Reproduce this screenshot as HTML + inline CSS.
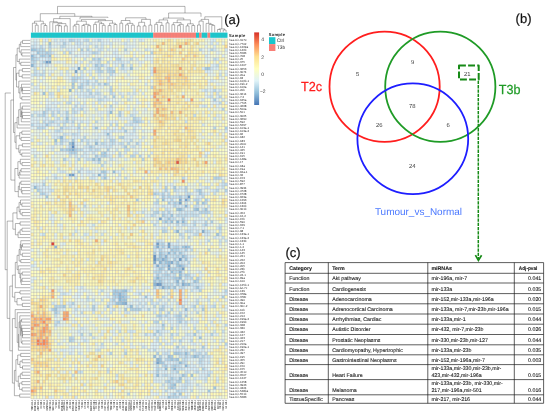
<!DOCTYPE html>
<html><head><meta charset="utf-8"><title>Figure</title><style>html,body{margin:0;padding:0;background:#fff}body{width:550px;height:419px;overflow:hidden}svg{display:block}</style></head><body>
<svg width="550" height="419" viewBox="0 0 550 419" text-rendering="geometricPrecision" font-family="Liberation Sans, Arial, sans-serif">
<rect width="550" height="419" fill="#fff"/>
<g transform="translate(30.90,38.80) scale(2.9143,3.1304)">
<path fill="#5d8cc0" d="M14 34h1v1h-1z"/>
<path fill="#709fca" d="M5 7h1v1h-1zM14 43h1v1h-1z"/>
<path fill="#79a8cf" d="M6 7h1v1h-1zM16 9h1v1h-1zM15 10h1v1h-1zM14 33h1v1h-1zM13 43h1v1h-1z"/>
<path fill="#83b1d4" d="M14 35h1v1h-1zM32 84h1v1h-1z"/>
<path fill="#8cbad9" d="M0 5h1v1h-1zM0 8h1v1h-1zM13 16h1v1h-1zM23 43h1v1h-1zM8 66h1v1h-1zM30 81h1v1h-1zM30 82h1v1h-1zM30 83h1v1h-1zM31 84h1v1h-1z"/>
<path fill="#96c2dd" d="M0 3h1v1h-1zM6 5h1v1h-1zM27 23h1v1h-1zM26 30h1v1h-1zM10 31h1v1h-1zM22 33h1v1h-1zM13 35h1v1h-1zM23 38h1v1h-1zM28 42h1v1h-1zM1 47h1v1h-1zM32 80h1v1h-1zM31 82h1v1h-1zM34 85h1v1h-1z"/>
<path fill="#a0c9e0" d="M6 1h1v1h-1zM1 3h1v1h-1zM2 4h1v1h-1zM0 6h1v1h-1zM34 9h1v1h-1zM14 14h1v1h-1zM25 14h1v1h-1zM4 17h1v1h-1zM12 25h1v1h-1zM5 27h1v1h-1zM22 28h1v1h-1zM8 32h1v1h-1zM13 33h1v1h-1zM25 36h1v1h-1zM21 38h1v1h-1zM25 44h1v1h-1zM5 50h1v1h-1zM31 80h1v1h-1zM28 81h1v1h-1zM39 82h1v1h-1zM31 83h2v1h-2zM29 84h2v1h-2zM8 86h1v1h-1z"/>
<path fill="#aacfe4" d="M17 3h1v1h-1zM5 4h1v1h-1zM3 5h2v1h-2zM23 6h1v1h-1zM22 8h1v1h-1zM31 8h1v1h-1zM28 10h1v1h-1zM14 15h1v1h-1zM28 18h1v1h-1zM4 23h1v1h-1zM36 26h1v1h-1zM10 28h1v1h-1zM16 28h1v1h-1zM32 29h1v1h-1zM14 32h1v1h-1zM20 34h1v1h-1zM32 34h1v1h-1zM10 35h1v1h-1zM12 35h1v1h-1zM15 35h1v1h-1zM26 35h1v1h-1zM22 37h1v1h-1zM25 37h1v1h-1zM16 42h1v1h-1zM24 42h2v1h-2zM36 51h1v1h-1zM28 80h2v1h-2zM29 81h1v1h-1zM31 81h1v1h-1zM32 82h1v1h-1zM28 83h1v1h-1zM11 85h1v1h-1zM26 85h1v1h-1zM32 86h1v1h-1zM8 87h1v1h-1zM13 96h1v1h-1z"/>
<path fill="#b4d6e8" d="M13 0h1v1h-1zM11 1h1v1h-1zM6 2h1v1h-1zM19 3h1v1h-1zM32 3h1v1h-1zM6 4h1v1h-1zM13 4h1v1h-1zM21 4h1v1h-1zM41 4h1v1h-1zM21 6h1v1h-1zM30 6h1v1h-1zM4 7h1v1h-1zM24 8h1v1h-1zM18 9h1v1h-1zM23 9h1v1h-1zM27 10h1v1h-1zM14 12h1v1h-1zM14 13h1v1h-1zM19 13h1v1h-1zM17 14h1v1h-1zM19 14h1v1h-1zM23 14h1v1h-1zM16 15h2v1h-2zM27 16h1v1h-1zM20 17h1v1h-1zM27 21h1v1h-1zM17 22h1v1h-1zM12 23h1v1h-1zM30 23h1v1h-1zM4 24h1v1h-1zM30 24h1v1h-1zM35 25h1v1h-1zM7 26h1v1h-1zM12 26h1v1h-1zM14 26h1v1h-1zM35 26h1v1h-1zM0 27h1v1h-1zM2 28h1v1h-1zM31 31h1v1h-1zM10 32h1v1h-1zM17 32h1v1h-1zM27 32h1v1h-1zM36 33h1v1h-1zM13 34h1v1h-1zM13 36h3v1h-3zM24 36h1v1h-1zM24 37h1v1h-1zM37 37h1v1h-1zM11 38h1v1h-1zM16 38h1v1h-1zM38 38h1v1h-1zM25 43h1v1h-1zM4 46h1v1h-1zM2 48h1v1h-1zM3 49h2v1h-2zM30 80h1v1h-1zM32 81h1v1h-1zM28 82h2v1h-2zM14 84h1v1h-1zM8 85h1v1h-1zM21 85h1v1h-1zM7 86h1v1h-1zM21 86h1v1h-1zM34 86h4v1h-4zM40 86h1v1h-1zM9 90h1v1h-1zM17 94h1v1h-1zM13 95h1v1h-1zM27 100h1v1h-1zM32 100h1v1h-1z"/>
<path fill="#bddceb" d="M14 0h1v1h-1zM19 0h1v1h-1zM23 0h1v1h-1zM3 2h1v1h-1zM2 3h3v1h-3zM6 3h1v1h-1zM3 4h2v1h-2zM22 4h1v1h-1zM1 5h1v1h-1zM5 5h1v1h-1zM1 6h1v1h-1zM6 6h1v1h-1zM29 6h1v1h-1zM34 6h1v1h-1zM0 7h2v1h-2zM23 7h1v1h-1zM26 7h1v1h-1zM26 9h2v1h-2zM31 9h1v1h-1zM23 10h2v1h-2zM26 10h1v1h-1zM1 11h1v1h-1zM3 11h1v1h-1zM27 11h1v1h-1zM15 12h2v1h-2zM15 13h1v1h-1zM22 13h1v1h-1zM26 14h1v1h-1zM27 15h1v1h-1zM41 15h1v1h-1zM19 16h1v1h-1zM27 17h1v1h-1zM25 18h1v1h-1zM23 19h1v1h-1zM13 20h1v1h-1zM15 21h1v1h-1zM14 22h1v1h-1zM7 23h1v1h-1zM9 23h1v1h-1zM0 24h1v1h-1zM7 24h1v1h-1zM12 24h1v1h-1zM4 26h1v1h-1zM6 26h1v1h-1zM22 26h1v1h-1zM37 26h1v1h-1zM16 27h1v1h-1zM27 27h1v1h-1zM29 27h1v1h-1zM3 28h2v1h-2zM31 28h1v1h-1zM9 29h1v1h-1zM14 30h1v1h-1zM18 31h1v1h-1zM30 31h1v1h-1zM28 32h1v1h-1zM34 32h1v1h-1zM8 33h1v1h-1zM10 33h1v1h-1zM19 33h1v1h-1zM24 33h1v1h-1zM33 33h1v1h-1zM11 35h1v1h-1zM16 35h2v1h-2zM20 35h1v1h-1zM22 35h1v1h-1zM30 36h1v1h-1zM30 37h1v1h-1zM34 37h2v1h-2zM40 37h1v1h-1zM23 39h1v1h-1zM24 40h1v1h-1zM8 44h1v1h-1zM18 53h1v1h-1zM41 56h1v1h-1zM24 80h1v1h-1zM37 81h1v1h-1zM41 83h1v1h-1zM9 85h2v1h-2zM17 87h1v1h-1zM8 91h1v1h-1zM20 94h1v1h-1zM39 94h1v1h-1zM14 95h1v1h-1zM14 96h1v1h-1zM24 97h1v1h-1zM33 113h1v1h-1z"/>
<path fill="#c7e3ef" d="M16 0h1v1h-1zM18 0h1v1h-1zM0 2h1v1h-1zM10 2h2v1h-2zM22 2h1v1h-1zM23 3h1v1h-1zM39 3h1v1h-1zM11 4h1v1h-1zM15 5h1v1h-1zM2 6h1v1h-1zM18 6h1v1h-1zM22 6h1v1h-1zM20 7h1v1h-1zM1 8h1v1h-1zM5 8h1v1h-1zM23 8h1v1h-1zM34 8h1v1h-1zM1 9h1v1h-1zM22 9h1v1h-1zM1 10h1v1h-1zM4 10h1v1h-1zM17 10h1v1h-1zM4 11h1v1h-1zM17 12h1v1h-1zM21 12h1v1h-1zM26 12h1v1h-1zM0 14h1v1h-1zM21 14h1v1h-1zM17 16h1v1h-1zM6 17h1v1h-1zM22 17h2v1h-2zM19 18h1v1h-1zM21 18h1v1h-1zM31 18h1v1h-1zM24 19h1v1h-1zM33 19h1v1h-1zM12 20h1v1h-1zM5 22h2v1h-2zM5 23h1v1h-1zM14 23h2v1h-2zM2 24h2v1h-2zM34 24h1v1h-1zM9 25h1v1h-1zM36 25h1v1h-1zM11 26h1v1h-1zM17 26h1v1h-1zM6 27h1v1h-1zM9 27h1v1h-1zM11 27h1v1h-1zM34 27h1v1h-1zM12 28h1v1h-1zM26 28h1v1h-1zM35 28h1v1h-1zM8 29h1v1h-1zM35 29h1v1h-1zM11 30h1v1h-1zM15 30h1v1h-1zM9 31h1v1h-1zM19 32h1v1h-1zM22 32h1v1h-1zM25 33h1v1h-1zM27 33h2v1h-2zM30 33h2v1h-2zM21 34h1v1h-1zM27 34h1v1h-1zM35 34h1v1h-1zM23 35h1v1h-1zM29 35h1v1h-1zM32 35h2v1h-2zM18 36h1v1h-1zM21 36h1v1h-1zM1 37h1v1h-1zM13 37h1v1h-1zM15 37h1v1h-1zM17 37h1v1h-1zM26 37h1v1h-1zM19 38h1v1h-1zM22 38h1v1h-1zM27 38h1v1h-1zM25 39h1v1h-1zM17 41h1v1h-1zM31 41h1v1h-1zM21 43h1v1h-1zM30 43h1v1h-1zM15 44h1v1h-1zM24 44h1v1h-1zM32 44h1v1h-1zM2 47h1v1h-1zM3 48h1v1h-1zM38 55h1v1h-1zM21 59h1v1h-1zM4 62h1v1h-1zM11 81h1v1h-1zM19 82h1v1h-1zM19 83h1v1h-1zM21 83h1v1h-1zM24 83h1v1h-1zM27 83h1v1h-1zM28 84h1v1h-1zM37 84h1v1h-1zM39 84h1v1h-1zM41 84h1v1h-1zM13 85h1v1h-1zM36 85h1v1h-1zM38 85h1v1h-1zM15 86h1v1h-1zM28 86h1v1h-1zM9 87h1v1h-1zM8 88h1v1h-1zM8 90h1v1h-1zM30 93h1v1h-1zM21 95h1v1h-1zM18 96h1v1h-1zM31 96h1v1h-1zM29 97h1v1h-1zM38 98h1v1h-1zM23 99h1v1h-1zM40 99h1v1h-1zM26 105h1v1h-1zM16 106h2v1h-2zM26 106h1v1h-1zM14 107h1v1h-1zM29 107h1v1h-1z"/>
<path fill="#d1e9f3" d="M8 0h1v1h-1zM10 0h2v1h-2zM15 0h1v1h-1zM37 0h1v1h-1zM1 1h1v1h-1zM15 1h3v1h-3zM20 1h1v1h-1zM24 1h1v1h-1zM27 1h1v1h-1zM32 1h1v1h-1zM1 2h1v1h-1zM16 2h1v1h-1zM19 2h1v1h-1zM24 2h1v1h-1zM12 3h1v1h-1zM24 3h1v1h-1zM26 3h1v1h-1zM7 4h1v1h-1zM17 4h1v1h-1zM20 4h1v1h-1zM23 4h1v1h-1zM28 4h1v1h-1zM19 5h1v1h-1zM29 5h1v1h-1zM5 6h1v1h-1zM36 6h1v1h-1zM3 7h1v1h-1zM17 7h1v1h-1zM22 7h1v1h-1zM28 7h1v1h-1zM30 7h2v1h-2zM33 7h1v1h-1zM3 8h1v1h-1zM14 9h1v1h-1zM12 10h1v1h-1zM22 10h1v1h-1zM41 10h1v1h-1zM0 11h1v1h-1zM2 11h1v1h-1zM6 11h1v1h-1zM17 11h1v1h-1zM20 11h1v1h-1zM23 11h1v1h-1zM17 13h2v1h-2zM18 14h1v1h-1zM39 14h1v1h-1zM21 15h1v1h-1zM9 16h1v1h-1zM15 16h1v1h-1zM20 16h1v1h-1zM7 17h1v1h-1zM18 17h1v1h-1zM28 17h1v1h-1zM30 17h1v1h-1zM33 17h1v1h-1zM35 17h1v1h-1zM13 18h1v1h-1zM16 18h1v1h-1zM18 18h1v1h-1zM20 18h1v1h-1zM23 18h1v1h-1zM13 19h1v1h-1zM26 19h1v1h-1zM7 20h1v1h-1zM9 20h1v1h-1zM16 20h1v1h-1zM18 20h1v1h-1zM23 20h1v1h-1zM29 20h1v1h-1zM5 21h1v1h-1zM17 21h1v1h-1zM9 22h1v1h-1zM16 22h1v1h-1zM22 22h1v1h-1zM27 22h1v1h-1zM35 22h1v1h-1zM1 23h1v1h-1zM18 23h1v1h-1zM26 23h1v1h-1zM26 24h1v1h-1zM35 24h1v1h-1zM5 25h1v1h-1zM14 25h1v1h-1zM24 25h1v1h-1zM37 25h1v1h-1zM2 26h1v1h-1zM8 26h1v1h-1zM10 26h1v1h-1zM34 26h1v1h-1zM38 26h1v1h-1zM2 27h3v1h-3zM14 27h1v1h-1zM32 27h1v1h-1zM11 28h1v1h-1zM13 28h1v1h-1zM15 28h1v1h-1zM18 28h1v1h-1zM21 28h1v1h-1zM10 29h1v1h-1zM16 29h1v1h-1zM25 29h1v1h-1zM27 29h2v1h-2zM30 29h1v1h-1zM38 29h1v1h-1zM12 30h1v1h-1zM16 30h1v1h-1zM25 30h1v1h-1zM34 30h1v1h-1zM26 31h2v1h-2zM38 31h1v1h-1zM0 32h1v1h-1zM11 32h2v1h-2zM25 32h1v1h-1zM7 34h1v1h-1zM15 34h1v1h-1zM18 34h2v1h-2zM25 34h2v1h-2zM31 34h1v1h-1zM34 34h1v1h-1zM7 35h1v1h-1zM21 35h1v1h-1zM32 36h1v1h-1zM35 36h2v1h-2zM41 36h1v1h-1zM23 37h1v1h-1zM27 37h1v1h-1zM20 38h1v1h-1zM9 41h1v1h-1zM10 42h2v1h-2zM19 42h2v1h-2zM8 43h1v1h-1zM12 43h1v1h-1zM5 44h1v1h-1zM13 44h1v1h-1zM20 44h2v1h-2zM38 44h1v1h-1zM4 45h1v1h-1zM6 48h2v1h-2zM5 49h1v1h-1zM41 54h1v1h-1zM38 57h1v1h-1zM41 58h1v1h-1zM15 61h1v1h-1zM14 62h1v1h-1zM18 62h1v1h-1zM24 62h1v1h-1zM0 72h1v1h-1zM17 79h1v1h-1zM9 80h1v1h-1zM33 80h1v1h-1zM10 81h1v1h-1zM26 82h1v1h-1zM33 82h1v1h-1zM36 83h1v1h-1zM38 83h1v1h-1zM7 84h1v1h-1zM13 84h1v1h-1zM26 84h2v1h-2zM33 85h1v1h-1zM9 86h1v1h-1zM21 87h1v1h-1zM27 87h1v1h-1zM32 87h2v1h-2zM16 91h1v1h-1zM17 92h1v1h-1zM16 93h1v1h-1zM34 93h1v1h-1zM17 95h1v1h-1zM9 97h1v1h-1zM16 97h1v1h-1zM24 98h1v1h-1zM22 99h1v1h-1zM32 99h1v1h-1zM13 100h1v1h-1zM16 100h1v1h-1zM7 105h1v1h-1zM18 110h1v1h-1zM15 114h1v1h-1z"/>
<path fill="#dbf0f6" d="M1 0h1v1h-1zM4 0h2v1h-2zM21 0h2v1h-2zM24 0h1v1h-1zM26 0h1v1h-1zM33 0h1v1h-1zM35 0h1v1h-1zM38 0h1v1h-1zM4 1h1v1h-1zM9 1h1v1h-1zM12 1h1v1h-1zM4 2h1v1h-1zM27 2h1v1h-1zM10 3h1v1h-1zM13 3h2v1h-2zM20 3h1v1h-1zM29 3h1v1h-1zM40 3h1v1h-1zM0 4h2v1h-2zM18 4h2v1h-2zM29 4h1v1h-1zM2 5h1v1h-1zM17 5h1v1h-1zM25 5h1v1h-1zM3 6h2v1h-2zM24 6h1v1h-1zM39 6h1v1h-1zM41 6h1v1h-1zM9 7h1v1h-1zM29 7h1v1h-1zM37 7h1v1h-1zM41 7h1v1h-1zM15 8h1v1h-1zM19 8h1v1h-1zM21 8h1v1h-1zM25 8h1v1h-1zM29 8h1v1h-1zM21 9h1v1h-1zM28 9h1v1h-1zM30 9h1v1h-1zM32 9h1v1h-1zM41 9h1v1h-1zM2 10h1v1h-1zM20 10h1v1h-1zM32 10h1v1h-1zM10 11h1v1h-1zM12 11h1v1h-1zM15 11h1v1h-1zM28 11h1v1h-1zM33 11h1v1h-1zM41 11h1v1h-1zM4 12h1v1h-1zM13 12h1v1h-1zM18 12h1v1h-1zM23 12h1v1h-1zM3 13h1v1h-1zM20 13h1v1h-1zM26 13h1v1h-1zM41 13h1v1h-1zM16 14h1v1h-1zM22 14h1v1h-1zM24 14h1v1h-1zM1 15h1v1h-1zM11 15h1v1h-1zM18 15h1v1h-1zM22 16h1v1h-1zM35 16h1v1h-1zM15 17h3v1h-3zM19 17h1v1h-1zM38 17h1v1h-1zM6 18h2v1h-2zM17 18h1v1h-1zM34 18h1v1h-1zM5 19h1v1h-1zM25 19h1v1h-1zM15 20h1v1h-1zM21 20h1v1h-1zM6 21h1v1h-1zM8 21h1v1h-1zM18 21h1v1h-1zM7 22h2v1h-2zM15 22h1v1h-1zM39 22h1v1h-1zM2 23h1v1h-1zM11 23h1v1h-1zM24 23h1v1h-1zM35 23h1v1h-1zM5 24h1v1h-1zM8 24h1v1h-1zM10 24h1v1h-1zM14 24h1v1h-1zM0 25h1v1h-1zM4 25h1v1h-1zM8 25h1v1h-1zM11 25h1v1h-1zM15 25h1v1h-1zM26 25h1v1h-1zM0 26h1v1h-1zM5 26h1v1h-1zM9 26h1v1h-1zM13 26h1v1h-1zM19 26h1v1h-1zM27 26h1v1h-1zM29 26h1v1h-1zM40 26h1v1h-1zM1 27h1v1h-1zM7 27h1v1h-1zM19 27h1v1h-1zM33 27h1v1h-1zM35 27h2v1h-2zM0 28h1v1h-1zM14 28h1v1h-1zM28 28h1v1h-1zM37 28h1v1h-1zM6 29h1v1h-1zM26 29h1v1h-1zM31 29h1v1h-1zM8 30h1v1h-1zM13 30h1v1h-1zM21 30h1v1h-1zM23 30h1v1h-1zM27 30h1v1h-1zM35 30h1v1h-1zM7 31h2v1h-2zM11 31h1v1h-1zM14 31h3v1h-3zM23 31h1v1h-1zM36 31h1v1h-1zM41 31h1v1h-1zM18 32h1v1h-1zM21 32h1v1h-1zM32 32h1v1h-1zM37 32h1v1h-1zM3 33h1v1h-1zM15 33h1v1h-1zM23 33h1v1h-1zM26 33h1v1h-1zM37 33h1v1h-1zM12 34h1v1h-1zM23 34h2v1h-2zM37 34h1v1h-1zM41 34h1v1h-1zM18 35h2v1h-2zM8 36h1v1h-1zM12 36h1v1h-1zM19 36h1v1h-1zM26 36h1v1h-1zM28 36h1v1h-1zM18 37h2v1h-2zM31 37h1v1h-1zM12 38h1v1h-1zM15 38h1v1h-1zM18 38h1v1h-1zM32 38h1v1h-1zM13 39h1v1h-1zM15 39h1v1h-1zM22 39h1v1h-1zM27 40h1v1h-1zM15 41h1v1h-1zM14 42h1v1h-1zM17 42h1v1h-1zM21 42h1v1h-1zM26 42h1v1h-1zM29 42h2v1h-2zM35 42h1v1h-1zM40 42h1v1h-1zM15 43h1v1h-1zM17 43h1v1h-1zM19 43h1v1h-1zM24 43h1v1h-1zM9 44h1v1h-1zM1 46h2v1h-2zM3 47h4v1h-4zM4 48h1v1h-1zM18 52h1v1h-1zM7 56h1v1h-1zM39 56h1v1h-1zM6 57h1v1h-1zM10 57h1v1h-1zM7 58h1v1h-1zM10 59h1v1h-1zM3 60h1v1h-1zM37 60h1v1h-1zM22 61h1v1h-1zM3 62h1v1h-1zM19 62h1v1h-1zM24 64h1v1h-1zM11 65h1v1h-1zM33 69h1v1h-1zM0 70h1v1h-1zM19 70h1v1h-1zM0 77h1v1h-1zM34 79h1v1h-1zM13 80h1v1h-1zM18 80h1v1h-1zM38 80h1v1h-1zM12 81h1v1h-1zM16 81h1v1h-1zM23 81h1v1h-1zM26 81h1v1h-1zM36 81h1v1h-1zM40 81h1v1h-1zM9 82h1v1h-1zM16 82h1v1h-1zM38 82h1v1h-1zM10 83h1v1h-1zM17 83h1v1h-1zM29 83h1v1h-1zM35 83h1v1h-1zM40 83h1v1h-1zM10 84h1v1h-1zM34 84h1v1h-1zM19 85h1v1h-1zM27 85h1v1h-1zM10 86h2v1h-2zM25 86h1v1h-1zM27 86h1v1h-1zM30 86h1v1h-1zM38 86h2v1h-2zM24 87h1v1h-1zM23 88h1v1h-1zM10 89h1v1h-1zM19 89h1v1h-1zM26 89h1v1h-1zM35 89h1v1h-1zM15 90h1v1h-1zM28 90h1v1h-1zM39 90h1v1h-1zM9 91h1v1h-1zM13 91h1v1h-1zM25 91h1v1h-1zM27 91h1v1h-1zM38 91h1v1h-1zM28 93h1v1h-1zM33 93h1v1h-1zM35 93h1v1h-1zM24 94h1v1h-1zM40 94h2v1h-2zM27 95h1v1h-1zM19 96h1v1h-1zM27 96h1v1h-1zM22 97h1v1h-1zM34 97h1v1h-1zM41 97h1v1h-1zM13 98h2v1h-2zM39 98h1v1h-1zM8 99h1v1h-1zM10 99h2v1h-2zM14 99h1v1h-1zM34 103h1v1h-1zM13 104h1v1h-1zM36 104h1v1h-1zM15 105h1v1h-1zM13 106h1v1h-1zM25 110h1v1h-1zM38 110h1v1h-1zM28 111h1v1h-1zM41 112h1v1h-1zM6 114h1v1h-1z"/>
<path fill="#e2f4f4" d="M12 0h1v1h-1zM17 0h1v1h-1zM28 0h1v1h-1zM30 0h1v1h-1zM0 1h1v1h-1zM2 1h1v1h-1zM8 1h1v1h-1zM10 1h1v1h-1zM13 1h1v1h-1zM19 1h1v1h-1zM22 1h1v1h-1zM25 1h2v1h-2zM35 1h1v1h-1zM2 2h1v1h-1zM7 2h2v1h-2zM13 2h3v1h-3zM17 2h2v1h-2zM33 2h3v1h-3zM15 3h1v1h-1zM22 3h1v1h-1zM34 3h1v1h-1zM36 3h1v1h-1zM14 4h1v1h-1zM32 4h1v1h-1zM35 4h1v1h-1zM8 5h1v1h-1zM16 5h1v1h-1zM22 5h1v1h-1zM27 5h2v1h-2zM30 5h1v1h-1zM35 5h1v1h-1zM39 5h3v1h-3zM14 6h1v1h-1zM27 6h1v1h-1zM31 6h1v1h-1zM11 7h1v1h-1zM16 7h1v1h-1zM21 7h1v1h-1zM32 7h1v1h-1zM38 7h1v1h-1zM4 8h1v1h-1zM6 8h1v1h-1zM26 8h1v1h-1zM3 9h2v1h-2zM8 9h1v1h-1zM13 9h1v1h-1zM15 9h1v1h-1zM20 9h1v1h-1zM25 9h1v1h-1zM33 9h1v1h-1zM6 10h2v1h-2zM10 10h1v1h-1zM19 10h1v1h-1zM18 11h1v1h-1zM2 12h1v1h-1zM19 12h1v1h-1zM24 12h1v1h-1zM13 13h1v1h-1zM16 13h1v1h-1zM21 13h1v1h-1zM2 14h1v1h-1zM20 14h1v1h-1zM30 14h1v1h-1zM33 14h1v1h-1zM2 15h1v1h-1zM23 15h2v1h-2zM0 16h1v1h-1zM5 16h1v1h-1zM37 16h1v1h-1zM21 17h1v1h-1zM31 17h1v1h-1zM22 18h1v1h-1zM41 18h1v1h-1zM14 19h2v1h-2zM18 19h1v1h-1zM22 19h1v1h-1zM27 19h2v1h-2zM34 19h1v1h-1zM36 19h1v1h-1zM3 20h1v1h-1zM5 20h2v1h-2zM8 20h1v1h-1zM28 20h1v1h-1zM36 20h1v1h-1zM21 21h1v1h-1zM33 21h1v1h-1zM40 21h1v1h-1zM12 22h1v1h-1zM26 22h1v1h-1zM28 22h1v1h-1zM33 22h1v1h-1zM3 23h1v1h-1zM8 23h1v1h-1zM16 23h1v1h-1zM23 23h1v1h-1zM31 23h1v1h-1zM36 23h1v1h-1zM21 24h1v1h-1zM23 24h1v1h-1zM31 24h1v1h-1zM1 25h2v1h-2zM19 25h1v1h-1zM21 25h1v1h-1zM31 25h1v1h-1zM33 25h1v1h-1zM1 26h1v1h-1zM16 26h1v1h-1zM18 26h1v1h-1zM28 26h1v1h-1zM8 27h1v1h-1zM21 27h1v1h-1zM5 28h1v1h-1zM23 28h1v1h-1zM29 28h1v1h-1zM3 29h1v1h-1zM24 29h1v1h-1zM29 29h1v1h-1zM34 29h1v1h-1zM0 30h1v1h-1zM4 30h1v1h-1zM7 30h1v1h-1zM9 30h1v1h-1zM18 30h2v1h-2zM24 30h1v1h-1zM32 30h2v1h-2zM5 31h1v1h-1zM28 31h1v1h-1zM32 31h4v1h-4zM15 32h1v1h-1zM20 32h1v1h-1zM23 32h1v1h-1zM33 32h1v1h-1zM2 33h1v1h-1zM9 33h1v1h-1zM11 33h1v1h-1zM16 33h2v1h-2zM20 33h1v1h-1zM29 33h1v1h-1zM22 34h1v1h-1zM0 35h2v1h-2zM39 35h1v1h-1zM2 36h1v1h-1zM22 36h1v1h-1zM7 37h1v1h-1zM2 38h1v1h-1zM7 38h1v1h-1zM28 38h1v1h-1zM8 39h1v1h-1zM18 39h1v1h-1zM21 39h1v1h-1zM35 39h1v1h-1zM19 41h1v1h-1zM23 41h1v1h-1zM6 42h1v1h-1zM9 42h1v1h-1zM18 42h1v1h-1zM23 42h1v1h-1zM7 43h1v1h-1zM22 43h1v1h-1zM10 44h1v1h-1zM17 44h1v1h-1zM22 44h1v1h-1zM26 44h1v1h-1zM29 44h1v1h-1zM22 45h1v1h-1zM28 45h1v1h-1zM30 45h1v1h-1zM0 46h1v1h-1zM3 46h1v1h-1zM6 46h1v1h-1zM24 46h1v1h-1zM0 47h1v1h-1zM0 48h1v1h-1zM5 48h1v1h-1zM1 49h1v1h-1zM6 49h1v1h-1zM3 50h1v1h-1zM9 51h1v1h-1zM26 52h1v1h-1zM21 53h1v1h-1zM6 55h1v1h-1zM15 55h1v1h-1zM36 55h1v1h-1zM18 56h1v1h-1zM40 56h1v1h-1zM7 57h1v1h-1zM17 57h1v1h-1zM23 58h1v1h-1zM9 59h1v1h-1zM30 59h1v1h-1zM20 60h1v1h-1zM33 60h1v1h-1zM8 62h1v1h-1zM29 62h1v1h-1zM11 63h1v1h-1zM21 63h1v1h-1zM27 63h1v1h-1zM24 65h1v1h-1zM0 67h1v1h-1zM11 68h1v1h-1zM15 68h1v1h-1zM1 71h1v1h-1zM3 71h1v1h-1zM1 72h1v1h-1zM2 73h1v1h-1zM1 76h1v1h-1zM3 76h1v1h-1zM5 79h1v1h-1zM15 79h2v1h-2zM26 79h1v1h-1zM40 79h1v1h-1zM10 80h1v1h-1zM16 80h1v1h-1zM23 80h1v1h-1zM27 80h1v1h-1zM34 80h1v1h-1zM36 80h1v1h-1zM13 81h1v1h-1zM15 81h1v1h-1zM17 81h1v1h-1zM35 81h1v1h-1zM10 82h1v1h-1zM14 82h1v1h-1zM25 82h1v1h-1zM27 82h1v1h-1zM40 82h2v1h-2zM15 83h1v1h-1zM20 83h1v1h-1zM37 83h1v1h-1zM12 84h1v1h-1zM22 84h1v1h-1zM33 84h1v1h-1zM36 84h1v1h-1zM38 84h1v1h-1zM14 85h1v1h-1zM22 85h1v1h-1zM32 85h1v1h-1zM37 85h1v1h-1zM39 85h1v1h-1zM6 86h1v1h-1zM16 86h5v1h-5zM22 86h1v1h-1zM14 87h2v1h-2zM36 87h1v1h-1zM13 88h1v1h-1zM15 88h2v1h-2zM8 89h1v1h-1zM24 89h1v1h-1zM14 90h1v1h-1zM10 91h1v1h-1zM29 91h1v1h-1zM14 92h1v1h-1zM18 92h1v1h-1zM22 92h1v1h-1zM30 92h1v1h-1zM38 92h1v1h-1zM41 92h1v1h-1zM13 93h1v1h-1zM24 93h1v1h-1zM27 93h1v1h-1zM16 94h1v1h-1zM28 94h1v1h-1zM18 95h1v1h-1zM34 95h1v1h-1zM41 95h1v1h-1zM11 96h1v1h-1zM17 96h1v1h-1zM15 98h2v1h-2zM31 98h1v1h-1zM34 98h1v1h-1zM41 98h1v1h-1zM13 99h1v1h-1zM19 99h1v1h-1zM41 99h1v1h-1zM14 100h1v1h-1zM17 100h1v1h-1zM26 100h1v1h-1zM37 100h1v1h-1zM11 101h1v1h-1zM8 102h1v1h-1zM10 102h1v1h-1zM19 102h1v1h-1zM15 104h1v1h-1zM23 104h1v1h-1zM0 105h1v1h-1zM11 106h1v1h-1zM40 106h1v1h-1zM37 107h1v1h-1zM29 108h1v1h-1zM23 112h2v1h-2zM30 112h1v1h-1zM7 114h1v1h-1zM10 114h1v1h-1zM25 114h1v1h-1z"/>
<path fill="#e6f5ed" d="M0 0h1v1h-1zM2 0h1v1h-1zM7 0h1v1h-1zM9 0h1v1h-1zM25 0h1v1h-1zM29 0h1v1h-1zM21 1h1v1h-1zM31 1h1v1h-1zM33 1h1v1h-1zM12 2h1v1h-1zM21 2h1v1h-1zM23 2h1v1h-1zM32 2h1v1h-1zM27 3h2v1h-2zM41 3h1v1h-1zM16 4h1v1h-1zM25 4h1v1h-1zM33 4h1v1h-1zM14 5h1v1h-1zM18 5h1v1h-1zM26 5h1v1h-1zM33 6h1v1h-1zM40 6h1v1h-1zM8 7h1v1h-1zM14 7h1v1h-1zM2 8h1v1h-1zM16 8h1v1h-1zM28 8h1v1h-1zM32 8h1v1h-1zM37 8h1v1h-1zM0 9h1v1h-1zM16 10h1v1h-1zM31 10h1v1h-1zM13 11h1v1h-1zM0 12h1v1h-1zM12 12h1v1h-1zM27 13h1v1h-1zM37 13h1v1h-1zM9 15h1v1h-1zM19 15h1v1h-1zM1 16h3v1h-3zM23 16h1v1h-1zM26 16h1v1h-1zM14 17h1v1h-1zM24 17h1v1h-1zM14 18h1v1h-1zM24 18h1v1h-1zM26 18h1v1h-1zM39 18h1v1h-1zM8 19h1v1h-1zM11 19h1v1h-1zM30 19h1v1h-1zM10 20h1v1h-1zM25 20h1v1h-1zM31 20h1v1h-1zM37 20h1v1h-1zM40 20h1v1h-1zM7 21h1v1h-1zM14 21h1v1h-1zM24 21h1v1h-1zM18 22h2v1h-2zM0 23h1v1h-1zM6 23h1v1h-1zM10 23h1v1h-1zM38 23h1v1h-1zM41 23h1v1h-1zM11 24h1v1h-1zM13 24h1v1h-1zM29 24h1v1h-1zM41 24h1v1h-1zM6 25h1v1h-1zM16 25h1v1h-1zM30 25h1v1h-1zM32 25h1v1h-1zM24 26h1v1h-1zM33 26h1v1h-1zM13 27h1v1h-1zM24 27h1v1h-1zM1 28h1v1h-1zM9 28h1v1h-1zM36 28h1v1h-1zM13 29h1v1h-1zM15 29h1v1h-1zM22 29h1v1h-1zM33 29h1v1h-1zM41 29h1v1h-1zM2 30h1v1h-1zM22 30h1v1h-1zM2 31h1v1h-1zM17 31h1v1h-1zM22 31h1v1h-1zM25 31h1v1h-1zM39 31h1v1h-1zM13 32h1v1h-1zM26 32h1v1h-1zM29 32h1v1h-1zM31 32h1v1h-1zM35 33h1v1h-1zM39 33h1v1h-1zM6 34h1v1h-1zM10 34h1v1h-1zM16 34h1v1h-1zM28 34h2v1h-2zM5 35h1v1h-1zM27 35h1v1h-1zM35 35h1v1h-1zM0 36h2v1h-2zM3 36h1v1h-1zM5 36h1v1h-1zM9 36h1v1h-1zM11 36h1v1h-1zM20 36h1v1h-1zM27 36h1v1h-1zM3 37h1v1h-1zM21 37h1v1h-1zM38 37h1v1h-1zM4 38h1v1h-1zM29 38h1v1h-1zM4 39h1v1h-1zM9 39h1v1h-1zM11 39h1v1h-1zM13 40h1v1h-1zM21 41h1v1h-1zM35 41h1v1h-1zM20 43h1v1h-1zM7 44h1v1h-1zM30 44h1v1h-1zM13 46h1v1h-1zM2 50h1v1h-1zM5 51h1v1h-1zM7 51h1v1h-1zM16 53h1v1h-1zM17 54h1v1h-1zM38 54h2v1h-2zM19 55h1v1h-1zM34 55h1v1h-1zM41 55h1v1h-1zM39 58h1v1h-1zM19 59h1v1h-1zM10 60h1v1h-1zM15 60h1v1h-1zM39 60h1v1h-1zM25 61h1v1h-1zM37 62h1v1h-1zM8 63h1v1h-1zM17 63h1v1h-1zM20 63h1v1h-1zM1 64h1v1h-1zM18 64h1v1h-1zM10 65h1v1h-1zM22 71h1v1h-1zM0 76h1v1h-1zM0 79h1v1h-1zM10 79h1v1h-1zM22 79h1v1h-1zM28 79h1v1h-1zM32 79h1v1h-1zM38 79h2v1h-2zM6 80h1v1h-1zM17 80h1v1h-1zM19 80h1v1h-1zM37 80h1v1h-1zM20 81h1v1h-1zM15 82h1v1h-1zM21 82h1v1h-1zM24 82h1v1h-1zM37 82h1v1h-1zM39 83h1v1h-1zM8 84h1v1h-1zM15 84h1v1h-1zM18 84h1v1h-1zM21 84h1v1h-1zM23 84h1v1h-1zM35 84h1v1h-1zM15 85h1v1h-1zM17 85h1v1h-1zM35 85h1v1h-1zM14 86h1v1h-1zM41 86h1v1h-1zM30 87h1v1h-1zM9 88h1v1h-1zM18 88h1v1h-1zM25 88h1v1h-1zM31 88h1v1h-1zM14 89h1v1h-1zM23 89h1v1h-1zM25 89h1v1h-1zM41 89h1v1h-1zM11 90h1v1h-1zM17 90h1v1h-1zM31 90h3v1h-3zM37 90h1v1h-1zM18 91h1v1h-1zM21 91h1v1h-1zM26 91h1v1h-1zM8 92h1v1h-1zM16 92h1v1h-1zM40 92h1v1h-1zM15 93h1v1h-1zM17 93h3v1h-3zM9 94h1v1h-1zM14 94h1v1h-1zM19 94h1v1h-1zM29 94h1v1h-1zM34 94h1v1h-1zM22 95h1v1h-1zM31 95h1v1h-1zM8 96h1v1h-1zM15 96h1v1h-1zM25 96h1v1h-1zM10 97h1v1h-1zM12 97h1v1h-1zM37 97h2v1h-2zM19 98h1v1h-1zM23 98h1v1h-1zM35 98h1v1h-1zM12 99h1v1h-1zM16 99h1v1h-1zM9 100h1v1h-1zM11 100h1v1h-1zM18 101h1v1h-1zM31 101h1v1h-1zM16 102h1v1h-1zM17 103h1v1h-1zM32 103h1v1h-1zM39 103h1v1h-1zM20 104h1v1h-1zM34 104h1v1h-1zM41 106h1v1h-1zM12 109h1v1h-1zM32 109h1v1h-1zM41 110h1v1h-1zM17 111h1v1h-1zM12 112h1v1h-1zM13 113h1v1h-1zM27 113h1v1h-1zM41 113h1v1h-1zM27 114h1v1h-1zM39 114h2v1h-2z"/>
<path fill="#eaf7e6" d="M32 0h1v1h-1zM7 1h1v1h-1zM18 1h1v1h-1zM23 1h1v1h-1zM30 1h1v1h-1zM34 1h1v1h-1zM5 2h1v1h-1zM9 2h1v1h-1zM33 3h1v1h-1zM8 4h1v1h-1zM37 4h2v1h-2zM13 5h1v1h-1zM20 5h1v1h-1zM23 5h1v1h-1zM31 5h1v1h-1zM32 6h1v1h-1zM2 7h1v1h-1zM10 7h1v1h-1zM36 7h1v1h-1zM13 8h1v1h-1zM36 9h1v1h-1zM3 10h1v1h-1zM30 10h1v1h-1zM34 10h1v1h-1zM29 11h1v1h-1zM7 12h2v1h-2zM11 12h1v1h-1zM27 12h2v1h-2zM32 12h1v1h-1zM34 12h1v1h-1zM40 12h1v1h-1zM4 14h2v1h-2zM5 15h2v1h-2zM30 15h1v1h-1zM34 15h2v1h-2zM18 16h1v1h-1zM25 16h1v1h-1zM39 16h1v1h-1zM0 17h1v1h-1zM3 17h1v1h-1zM34 17h1v1h-1zM36 17h1v1h-1zM10 18h1v1h-1zM29 18h1v1h-1zM6 19h1v1h-1zM17 19h1v1h-1zM10 21h1v1h-1zM16 21h1v1h-1zM22 21h1v1h-1zM29 21h1v1h-1zM35 21h1v1h-1zM3 22h2v1h-2zM10 22h1v1h-1zM19 23h1v1h-1zM22 23h1v1h-1zM25 23h1v1h-1zM34 23h1v1h-1zM39 23h1v1h-1zM1 24h1v1h-1zM24 24h1v1h-1zM33 24h1v1h-1zM3 25h1v1h-1zM17 25h1v1h-1zM23 26h1v1h-1zM31 26h1v1h-1zM8 28h1v1h-1zM19 28h1v1h-1zM32 28h1v1h-1zM2 29h1v1h-1zM7 29h1v1h-1zM17 29h1v1h-1zM39 29h2v1h-2zM1 30h1v1h-1zM36 30h1v1h-1zM0 31h1v1h-1zM20 31h2v1h-2zM24 31h1v1h-1zM5 32h2v1h-2zM35 32h1v1h-1zM38 32h1v1h-1zM12 33h1v1h-1zM21 33h1v1h-1zM34 33h1v1h-1zM5 34h1v1h-1zM8 34h1v1h-1zM17 34h1v1h-1zM30 34h1v1h-1zM6 35h1v1h-1zM25 35h1v1h-1zM28 35h1v1h-1zM36 35h2v1h-2zM10 36h1v1h-1zM16 36h2v1h-2zM38 36h1v1h-1zM9 37h2v1h-2zM14 37h1v1h-1zM16 37h1v1h-1zM29 37h1v1h-1zM1 38h1v1h-1zM8 38h2v1h-2zM13 38h1v1h-1zM24 38h1v1h-1zM26 38h1v1h-1zM27 39h1v1h-1zM29 39h2v1h-2zM2 40h1v1h-1zM15 40h1v1h-1zM25 41h1v1h-1zM22 42h1v1h-1zM32 42h1v1h-1zM28 43h1v1h-1zM33 43h1v1h-1zM18 44h1v1h-1zM3 45h1v1h-1zM35 47h1v1h-1zM18 48h1v1h-1zM27 48h1v1h-1zM21 51h1v1h-1zM15 52h1v1h-1zM19 53h1v1h-1zM24 53h1v1h-1zM18 54h1v1h-1zM9 55h1v1h-1zM37 55h1v1h-1zM39 55h2v1h-2zM25 56h1v1h-1zM35 56h1v1h-1zM31 57h1v1h-1zM34 57h1v1h-1zM39 57h2v1h-2zM7 59h1v1h-1zM20 59h1v1h-1zM21 61h1v1h-1zM34 61h1v1h-1zM16 62h1v1h-1zM12 63h1v1h-1zM35 64h1v1h-1zM38 65h1v1h-1zM3 66h1v1h-1zM10 66h1v1h-1zM2 67h1v1h-1zM2 68h1v1h-1zM14 70h1v1h-1zM0 73h1v1h-1zM3 78h1v1h-1zM38 78h1v1h-1zM9 79h1v1h-1zM18 79h1v1h-1zM36 79h1v1h-1zM20 80h1v1h-1zM25 80h2v1h-2zM19 81h1v1h-1zM21 81h1v1h-1zM25 81h1v1h-1zM13 83h1v1h-1zM16 83h1v1h-1zM18 83h1v1h-1zM34 83h1v1h-1zM17 84h1v1h-1zM19 84h1v1h-1zM25 85h1v1h-1zM40 85h1v1h-1zM7 87h1v1h-1zM17 88h1v1h-1zM19 88h1v1h-1zM9 89h1v1h-1zM10 90h1v1h-1zM20 90h1v1h-1zM11 91h2v1h-2zM41 91h1v1h-1zM19 92h1v1h-1zM28 92h2v1h-2zM14 93h1v1h-1zM25 93h1v1h-1zM23 94h1v1h-1zM38 94h1v1h-1zM9 95h1v1h-1zM16 96h1v1h-1zM19 97h1v1h-1zM28 97h1v1h-1zM32 97h1v1h-1zM25 98h1v1h-1zM27 98h1v1h-1zM17 99h1v1h-1zM24 101h1v1h-1zM14 102h1v1h-1zM26 103h1v1h-1zM27 104h1v1h-1zM23 105h1v1h-1zM17 109h1v1h-1zM19 109h1v1h-1zM26 109h1v1h-1zM12 111h1v1h-1zM27 111h1v1h-1zM31 111h1v1h-1zM35 113h1v1h-1zM4 114h1v1h-1zM35 114h1v1h-1z"/>
<path fill="#eef8df" d="M28 1h2v1h-2zM36 1h1v1h-1zM41 1h1v1h-1zM29 2h1v1h-1zM36 2h1v1h-1zM40 2h1v1h-1zM9 3h1v1h-1zM18 3h1v1h-1zM37 3h1v1h-1zM15 4h1v1h-1zM27 4h1v1h-1zM31 4h1v1h-1zM9 5h1v1h-1zM16 6h1v1h-1zM35 6h1v1h-1zM19 7h1v1h-1zM27 7h1v1h-1zM35 7h1v1h-1zM7 8h1v1h-1zM11 8h2v1h-2zM14 8h1v1h-1zM6 9h1v1h-1zM35 9h1v1h-1zM40 9h1v1h-1zM14 10h1v1h-1zM25 10h1v1h-1zM9 11h1v1h-1zM24 11h1v1h-1zM26 11h1v1h-1zM25 12h1v1h-1zM33 12h1v1h-1zM35 12h2v1h-2zM39 12h1v1h-1zM2 13h1v1h-1zM4 13h1v1h-1zM12 13h1v1h-1zM24 13h1v1h-1zM28 13h1v1h-1zM34 13h1v1h-1zM39 13h1v1h-1zM41 14h1v1h-1zM0 15h1v1h-1zM13 15h1v1h-1zM26 15h1v1h-1zM16 16h1v1h-1zM29 16h1v1h-1zM35 18h1v1h-1zM21 19h1v1h-1zM29 19h1v1h-1zM39 20h1v1h-1zM0 21h2v1h-2zM12 21h1v1h-1zM19 21h1v1h-1zM26 21h1v1h-1zM36 21h1v1h-1zM38 22h1v1h-1zM19 24h2v1h-2zM22 24h1v1h-1zM38 24h1v1h-1zM13 25h1v1h-1zM15 26h1v1h-1zM20 26h1v1h-1zM26 26h1v1h-1zM22 27h2v1h-2zM40 27h1v1h-1zM33 28h1v1h-1zM1 29h1v1h-1zM11 29h1v1h-1zM14 29h1v1h-1zM21 29h1v1h-1zM36 29h1v1h-1zM6 30h1v1h-1zM10 30h1v1h-1zM3 31h1v1h-1zM13 31h1v1h-1zM6 33h1v1h-1zM32 33h1v1h-1zM36 34h1v1h-1zM24 35h1v1h-1zM11 37h1v1h-1zM20 37h1v1h-1zM33 38h1v1h-1zM41 38h1v1h-1zM26 39h1v1h-1zM38 39h1v1h-1zM16 40h1v1h-1zM25 40h1v1h-1zM32 40h1v1h-1zM38 40h1v1h-1zM5 41h1v1h-1zM7 41h1v1h-1zM16 41h1v1h-1zM18 41h1v1h-1zM22 41h1v1h-1zM15 42h1v1h-1zM27 42h1v1h-1zM18 43h1v1h-1zM35 43h1v1h-1zM39 43h1v1h-1zM6 44h1v1h-1zM33 44h1v1h-1zM10 45h1v1h-1zM0 50h1v1h-1zM4 50h1v1h-1zM6 51h1v1h-1zM4 53h1v1h-1zM18 55h1v1h-1zM20 55h1v1h-1zM6 56h1v1h-1zM11 56h1v1h-1zM2 57h1v1h-1zM8 57h1v1h-1zM37 57h1v1h-1zM5 58h1v1h-1zM27 58h1v1h-1zM21 60h1v1h-1zM31 60h1v1h-1zM5 61h1v1h-1zM10 61h1v1h-1zM16 61h1v1h-1zM24 61h1v1h-1zM39 61h1v1h-1zM21 62h1v1h-1zM40 62h1v1h-1zM14 63h1v1h-1zM18 63h1v1h-1zM32 63h1v1h-1zM39 63h1v1h-1zM1 65h1v1h-1zM20 65h1v1h-1zM37 65h1v1h-1zM37 67h1v1h-1zM3 68h1v1h-1zM14 68h1v1h-1zM28 70h1v1h-1zM38 70h1v1h-1zM18 71h1v1h-1zM35 72h1v1h-1zM9 73h1v1h-1zM15 73h1v1h-1zM26 73h1v1h-1zM2 80h1v1h-1zM11 80h1v1h-1zM41 80h1v1h-1zM39 81h1v1h-1zM2 82h1v1h-1zM22 82h1v1h-1zM8 83h1v1h-1zM16 84h1v1h-1zM30 85h1v1h-1zM41 85h1v1h-1zM10 87h1v1h-1zM35 87h1v1h-1zM17 89h1v1h-1zM19 91h2v1h-2zM24 91h1v1h-1zM20 93h1v1h-1zM22 93h1v1h-1zM38 93h1v1h-1zM7 94h1v1h-1zM15 94h1v1h-1zM32 94h1v1h-1zM37 94h1v1h-1zM19 95h1v1h-1zM10 96h1v1h-1zM17 98h1v1h-1zM20 98h1v1h-1zM22 98h1v1h-1zM20 99h1v1h-1zM29 101h1v1h-1zM38 101h1v1h-1zM23 103h2v1h-2zM10 106h1v1h-1zM24 108h1v1h-1zM17 113h1v1h-1zM1 114h1v1h-1zM41 114h1v1h-1z"/>
<path fill="#f1fad8" d="M27 0h1v1h-1zM36 0h1v1h-1zM39 0h1v1h-1zM41 0h1v1h-1zM39 1h1v1h-1zM25 2h1v1h-1zM7 3h1v1h-1zM11 3h1v1h-1zM25 3h1v1h-1zM31 3h1v1h-1zM26 4h1v1h-1zM30 4h1v1h-1zM24 5h1v1h-1zM19 6h1v1h-1zM25 6h1v1h-1zM7 7h1v1h-1zM34 7h1v1h-1zM30 8h1v1h-1zM5 9h1v1h-1zM7 9h1v1h-1zM24 9h1v1h-1zM0 10h1v1h-1zM5 10h1v1h-1zM9 10h1v1h-1zM13 10h1v1h-1zM33 10h1v1h-1zM38 10h1v1h-1zM8 11h1v1h-1zM22 11h1v1h-1zM30 11h1v1h-1zM0 13h1v1h-1zM23 13h1v1h-1zM12 14h1v1h-1zM27 14h1v1h-1zM4 16h1v1h-1zM13 17h1v1h-1zM27 18h1v1h-1zM33 18h1v1h-1zM10 19h1v1h-1zM19 19h1v1h-1zM20 20h1v1h-1zM24 20h1v1h-1zM30 20h1v1h-1zM11 21h1v1h-1zM28 21h1v1h-1zM11 22h1v1h-1zM25 22h1v1h-1zM32 22h1v1h-1zM37 22h1v1h-1zM41 22h1v1h-1zM20 23h1v1h-1zM28 23h1v1h-1zM40 23h1v1h-1zM15 24h1v1h-1zM36 24h2v1h-2zM39 24h2v1h-2zM28 25h1v1h-1zM34 25h1v1h-1zM12 27h1v1h-1zM27 28h1v1h-1zM39 28h1v1h-1zM41 28h1v1h-1zM12 29h1v1h-1zM18 29h2v1h-2zM17 30h1v1h-1zM20 30h1v1h-1zM29 30h2v1h-2zM38 30h2v1h-2zM4 32h1v1h-1zM36 32h1v1h-1zM40 32h1v1h-1zM4 33h1v1h-1zM18 33h1v1h-1zM40 33h1v1h-1zM9 34h1v1h-1zM30 35h1v1h-1zM31 36h1v1h-1zM2 37h1v1h-1zM25 38h1v1h-1zM2 39h1v1h-1zM8 40h1v1h-1zM29 40h1v1h-1zM10 41h1v1h-1zM32 41h1v1h-1zM4 42h1v1h-1zM12 42h1v1h-1zM10 43h1v1h-1zM27 43h1v1h-1zM2 44h1v1h-1zM1 45h1v1h-1zM23 45h1v1h-1zM37 46h1v1h-1zM8 47h1v1h-1zM25 49h1v1h-1zM29 49h2v1h-2zM1 50h1v1h-1zM7 50h1v1h-1zM24 50h1v1h-1zM37 51h1v1h-1zM23 52h1v1h-1zM38 52h1v1h-1zM22 53h1v1h-1zM41 53h1v1h-1zM19 54h1v1h-1zM21 55h2v1h-2zM26 56h1v1h-1zM30 56h1v1h-1zM27 57h1v1h-1zM35 58h1v1h-1zM14 59h1v1h-1zM22 59h1v1h-1zM17 60h1v1h-1zM40 60h1v1h-1zM0 61h1v1h-1zM9 61h1v1h-1zM14 61h1v1h-1zM18 61h2v1h-2zM33 61h1v1h-1zM35 61h2v1h-2zM26 62h1v1h-1zM15 63h1v1h-1zM20 64h1v1h-1zM5 65h1v1h-1zM36 65h1v1h-1zM2 69h1v1h-1zM37 70h1v1h-1zM6 71h1v1h-1zM1 73h1v1h-1zM38 73h1v1h-1zM14 74h1v1h-1zM9 76h1v1h-1zM8 79h1v1h-1zM29 79h1v1h-1zM33 79h1v1h-1zM34 82h1v1h-1zM33 83h1v1h-1zM12 85h1v1h-1zM20 85h1v1h-1zM23 86h1v1h-1zM29 86h1v1h-1zM31 86h1v1h-1zM34 87h1v1h-1zM40 87h1v1h-1zM22 88h1v1h-1zM39 88h2v1h-2zM13 89h1v1h-1zM33 89h2v1h-2zM27 90h1v1h-1zM30 91h1v1h-1zM37 91h1v1h-1zM21 92h1v1h-1zM33 92h2v1h-2zM7 93h3v1h-3zM10 94h1v1h-1zM18 94h1v1h-1zM11 95h1v1h-1zM23 95h1v1h-1zM39 95h1v1h-1zM26 96h1v1h-1zM32 96h1v1h-1zM13 97h1v1h-1zM36 97h1v1h-1zM39 97h1v1h-1zM37 99h1v1h-1zM12 100h1v1h-1zM22 100h1v1h-1zM31 100h1v1h-1zM35 100h1v1h-1zM41 101h1v1h-1zM18 102h1v1h-1zM29 103h1v1h-1zM41 104h1v1h-1zM22 106h1v1h-1zM31 106h1v1h-1zM9 107h1v1h-1zM21 107h1v1h-1zM32 107h1v1h-1zM38 107h1v1h-1zM14 108h1v1h-1zM10 109h1v1h-1zM15 109h1v1h-1zM34 110h1v1h-1zM13 111h1v1h-1zM19 111h1v1h-1zM22 111h1v1h-1zM20 112h1v1h-1zM33 112h1v1h-1zM25 113h1v1h-1zM20 114h1v1h-1zM28 114h1v1h-1z"/>
<path fill="#f5fbd1" d="M20 0h1v1h-1zM3 1h1v1h-1zM5 1h1v1h-1zM14 1h1v1h-1zM37 1h1v1h-1zM40 1h1v1h-1zM30 2h1v1h-1zM37 2h2v1h-2zM5 3h1v1h-1zM8 3h1v1h-1zM21 3h1v1h-1zM9 4h1v1h-1zM24 4h1v1h-1zM37 5h1v1h-1zM15 6h1v1h-1zM38 6h1v1h-1zM24 7h1v1h-1zM18 8h1v1h-1zM33 8h1v1h-1zM36 8h1v1h-1zM40 8h2v1h-2zM8 10h1v1h-1zM18 10h1v1h-1zM11 11h1v1h-1zM25 11h1v1h-1zM32 11h1v1h-1zM1 12h1v1h-1zM22 12h1v1h-1zM30 13h1v1h-1zM6 14h1v1h-1zM31 14h1v1h-1zM36 14h1v1h-1zM40 14h1v1h-1zM10 15h1v1h-1zM15 15h1v1h-1zM20 15h1v1h-1zM25 15h1v1h-1zM39 15h1v1h-1zM7 16h1v1h-1zM24 16h1v1h-1zM30 16h1v1h-1zM26 17h1v1h-1zM32 17h1v1h-1zM3 18h1v1h-1zM3 19h1v1h-1zM7 19h1v1h-1zM16 19h1v1h-1zM35 19h1v1h-1zM34 20h1v1h-1zM4 21h1v1h-1zM2 22h1v1h-1zM21 22h1v1h-1zM13 23h1v1h-1zM21 23h1v1h-1zM18 24h1v1h-1zM10 25h1v1h-1zM18 25h1v1h-1zM20 25h1v1h-1zM23 25h1v1h-1zM41 25h1v1h-1zM3 26h1v1h-1zM25 26h1v1h-1zM10 27h1v1h-1zM37 27h1v1h-1zM41 27h1v1h-1zM17 28h1v1h-1zM34 28h1v1h-1zM23 29h1v1h-1zM3 30h1v1h-1zM4 31h1v1h-1zM19 31h1v1h-1zM3 32h1v1h-1zM33 34h1v1h-1zM3 35h2v1h-2zM8 35h2v1h-2zM34 35h1v1h-1zM4 36h1v1h-1zM8 37h1v1h-1zM3 38h1v1h-1zM17 38h1v1h-1zM30 38h2v1h-2zM20 39h1v1h-1zM24 39h1v1h-1zM1 40h1v1h-1zM9 40h1v1h-1zM22 40h1v1h-1zM33 40h1v1h-1zM37 40h1v1h-1zM41 40h1v1h-1zM3 41h1v1h-1zM0 42h1v1h-1zM8 42h1v1h-1zM9 43h1v1h-1zM16 43h1v1h-1zM36 43h1v1h-1zM4 44h1v1h-1zM14 44h1v1h-1zM41 44h1v1h-1zM2 45h1v1h-1zM5 45h1v1h-1zM7 45h1v1h-1zM7 46h1v1h-1zM2 49h1v1h-1zM6 50h1v1h-1zM0 51h1v1h-1zM7 52h1v1h-1zM12 52h1v1h-1zM12 53h1v1h-1zM38 53h1v1h-1zM0 54h1v1h-1zM8 54h1v1h-1zM4 55h1v1h-1zM26 55h1v1h-1zM2 56h1v1h-1zM16 56h1v1h-1zM16 57h1v1h-1zM33 57h1v1h-1zM41 57h1v1h-1zM16 58h1v1h-1zM6 59h1v1h-1zM12 59h1v1h-1zM27 59h1v1h-1zM38 59h1v1h-1zM1 60h1v1h-1zM9 60h1v1h-1zM35 60h1v1h-1zM38 60h1v1h-1zM7 61h1v1h-1zM23 61h1v1h-1zM31 61h1v1h-1zM40 61h1v1h-1zM1 62h1v1h-1zM23 62h1v1h-1zM0 63h1v1h-1zM22 63h1v1h-1zM40 63h1v1h-1zM4 65h1v1h-1zM14 66h1v1h-1zM6 68h1v1h-1zM24 68h1v1h-1zM22 70h1v1h-1zM37 71h1v1h-1zM9 74h1v1h-1zM41 74h1v1h-1zM18 75h1v1h-1zM34 75h1v1h-1zM17 76h1v1h-1zM26 76h1v1h-1zM40 77h1v1h-1zM0 78h1v1h-1zM2 78h1v1h-1zM17 78h1v1h-1zM36 78h1v1h-1zM31 79h1v1h-1zM0 80h2v1h-2zM3 80h1v1h-1zM17 82h1v1h-1zM20 82h1v1h-1zM23 82h1v1h-1zM24 84h1v1h-1zM18 85h1v1h-1zM31 85h1v1h-1zM24 86h1v1h-1zM16 87h1v1h-1zM26 87h1v1h-1zM10 88h1v1h-1zM20 88h1v1h-1zM26 88h1v1h-1zM34 88h1v1h-1zM32 89h1v1h-1zM40 89h1v1h-1zM13 90h1v1h-1zM18 90h1v1h-1zM21 90h1v1h-1zM25 90h1v1h-1zM36 90h1v1h-1zM34 91h1v1h-1zM9 92h2v1h-2zM13 92h1v1h-1zM10 93h1v1h-1zM21 93h1v1h-1zM31 93h1v1h-1zM27 94h1v1h-1zM12 95h1v1h-1zM15 95h1v1h-1zM26 95h1v1h-1zM38 95h1v1h-1zM20 96h1v1h-1zM28 96h1v1h-1zM34 96h1v1h-1zM39 96h1v1h-1zM14 97h1v1h-1zM23 97h1v1h-1zM12 98h1v1h-1zM28 98h1v1h-1zM37 98h1v1h-1zM40 98h1v1h-1zM7 99h1v1h-1zM9 99h1v1h-1zM2 100h1v1h-1zM19 100h1v1h-1zM25 100h1v1h-1zM40 100h2v1h-2zM6 101h1v1h-1zM9 101h1v1h-1zM14 101h1v1h-1zM17 101h1v1h-1zM26 101h1v1h-1zM28 101h1v1h-1zM40 101h1v1h-1zM34 102h1v1h-1zM13 103h1v1h-1zM33 103h1v1h-1zM10 104h1v1h-1zM26 104h1v1h-1zM38 104h1v1h-1zM9 105h1v1h-1zM12 105h1v1h-1zM17 105h2v1h-2zM24 105h1v1h-1zM30 106h1v1h-1zM17 107h1v1h-1zM33 107h1v1h-1zM40 107h1v1h-1zM21 109h1v1h-1zM40 109h1v1h-1zM14 110h1v1h-1zM38 111h1v1h-1zM32 112h1v1h-1zM18 113h1v1h-1zM20 113h1v1h-1zM24 113h1v1h-1zM32 113h1v1h-1zM19 114h1v1h-1zM26 114h1v1h-1z"/>
<path fill="#f9fdca" d="M34 0h1v1h-1zM40 0h1v1h-1zM20 2h1v1h-1zM26 2h1v1h-1zM28 2h1v1h-1zM38 3h1v1h-1zM36 4h1v1h-1zM10 5h1v1h-1zM33 5h1v1h-1zM9 6h1v1h-1zM11 6h1v1h-1zM20 6h1v1h-1zM40 7h1v1h-1zM20 8h1v1h-1zM17 9h1v1h-1zM21 10h1v1h-1zM36 10h2v1h-2zM39 10h1v1h-1zM5 11h1v1h-1zM16 11h1v1h-1zM34 11h1v1h-1zM40 11h1v1h-1zM3 12h1v1h-1zM5 13h2v1h-2zM33 13h1v1h-1zM3 14h1v1h-1zM15 14h1v1h-1zM28 14h2v1h-2zM32 14h1v1h-1zM37 14h1v1h-1zM12 15h1v1h-1zM22 15h1v1h-1zM36 15h1v1h-1zM6 16h1v1h-1zM40 16h1v1h-1zM29 17h1v1h-1zM40 17h1v1h-1zM0 18h2v1h-2zM8 18h1v1h-1zM15 18h1v1h-1zM4 19h1v1h-1zM12 19h1v1h-1zM31 19h2v1h-2zM40 19h1v1h-1zM17 20h1v1h-1zM2 21h1v1h-1zM13 21h1v1h-1zM32 21h1v1h-1zM34 21h1v1h-1zM1 22h1v1h-1zM34 22h1v1h-1zM36 22h1v1h-1zM29 23h1v1h-1zM9 24h1v1h-1zM16 24h1v1h-1zM22 25h1v1h-1zM27 25h1v1h-1zM40 25h1v1h-1zM17 27h1v1h-1zM25 27h2v1h-2zM38 28h1v1h-1zM0 29h1v1h-1zM20 29h1v1h-1zM37 29h1v1h-1zM28 30h1v1h-1zM31 30h1v1h-1zM40 30h1v1h-1zM40 31h1v1h-1zM1 32h1v1h-1zM24 32h1v1h-1zM41 32h1v1h-1zM1 33h1v1h-1zM0 34h1v1h-1zM38 35h1v1h-1zM37 36h1v1h-1zM39 36h2v1h-2zM0 37h1v1h-1zM4 37h1v1h-1zM6 37h1v1h-1zM32 37h1v1h-1zM5 38h1v1h-1zM10 38h1v1h-1zM32 39h1v1h-1zM26 40h1v1h-1zM35 40h1v1h-1zM0 41h1v1h-1zM4 41h1v1h-1zM12 41h1v1h-1zM14 41h1v1h-1zM28 41h3v1h-3zM6 43h1v1h-1zM26 43h1v1h-1zM32 43h1v1h-1zM37 43h2v1h-2zM12 44h1v1h-1zM27 44h1v1h-1zM39 44h1v1h-1zM14 45h1v1h-1zM27 46h1v1h-1zM20 47h1v1h-1zM38 47h1v1h-1zM41 47h1v1h-1zM1 48h1v1h-1zM0 49h1v1h-1zM31 49h1v1h-1zM18 50h1v1h-1zM37 50h2v1h-2zM1 51h1v1h-1zM16 51h1v1h-1zM20 51h1v1h-1zM1 52h1v1h-1zM25 52h1v1h-1zM40 52h1v1h-1zM1 53h2v1h-2zM17 53h1v1h-1zM40 53h1v1h-1zM20 54h1v1h-1zM30 54h2v1h-2zM14 55h1v1h-1zM32 55h1v1h-1zM4 56h1v1h-1zM8 56h1v1h-1zM23 56h1v1h-1zM32 56h1v1h-1zM24 57h1v1h-1zM10 58h2v1h-2zM20 58h1v1h-1zM33 59h1v1h-1zM5 60h1v1h-1zM7 60h1v1h-1zM12 60h1v1h-1zM18 60h1v1h-1zM26 60h1v1h-1zM28 60h1v1h-1zM36 60h1v1h-1zM41 60h1v1h-1zM2 61h1v1h-1zM11 61h2v1h-2zM26 61h1v1h-1zM28 61h1v1h-1zM41 61h1v1h-1zM12 62h1v1h-1zM16 63h1v1h-1zM25 63h1v1h-1zM9 64h1v1h-1zM27 64h1v1h-1zM30 64h1v1h-1zM34 64h1v1h-1zM25 65h2v1h-2zM1 66h1v1h-1zM11 66h1v1h-1zM13 66h1v1h-1zM22 66h1v1h-1zM38 66h1v1h-1zM4 67h1v1h-1zM11 67h1v1h-1zM13 68h1v1h-1zM22 68h1v1h-1zM3 69h1v1h-1zM9 69h1v1h-1zM38 69h1v1h-1zM4 70h1v1h-1zM35 70h1v1h-1zM35 71h1v1h-1zM18 72h1v1h-1zM32 72h1v1h-1zM10 73h2v1h-2zM41 73h1v1h-1zM31 74h1v1h-1zM2 75h1v1h-1zM8 76h1v1h-1zM2 77h1v1h-1zM11 77h1v1h-1zM17 77h1v1h-1zM32 77h1v1h-1zM36 77h1v1h-1zM41 77h1v1h-1zM4 78h2v1h-2zM8 78h1v1h-1zM10 78h1v1h-1zM12 78h1v1h-1zM25 78h1v1h-1zM33 78h1v1h-1zM39 78h1v1h-1zM7 79h1v1h-1zM13 79h1v1h-1zM19 79h3v1h-3zM8 80h1v1h-1zM21 80h1v1h-1zM9 81h1v1h-1zM14 81h1v1h-1zM33 81h1v1h-1zM36 82h1v1h-1zM1 83h1v1h-1zM22 83h2v1h-2zM6 85h1v1h-1zM7 88h1v1h-1zM28 88h1v1h-1zM33 88h1v1h-1zM41 88h1v1h-1zM20 89h1v1h-1zM31 89h1v1h-1zM37 89h1v1h-1zM39 89h1v1h-1zM22 90h1v1h-1zM26 90h1v1h-1zM38 90h1v1h-1zM40 90h1v1h-1zM7 91h1v1h-1zM23 91h1v1h-1zM28 91h1v1h-1zM33 91h1v1h-1zM15 92h1v1h-1zM23 92h3v1h-3zM11 93h1v1h-1zM21 94h1v1h-1zM31 94h1v1h-1zM10 95h1v1h-1zM20 95h1v1h-1zM30 95h1v1h-1zM12 96h1v1h-1zM22 96h1v1h-1zM36 96h1v1h-1zM8 97h1v1h-1zM11 97h1v1h-1zM18 97h1v1h-1zM25 97h1v1h-1zM27 97h1v1h-1zM9 98h1v1h-1zM18 98h1v1h-1zM21 98h1v1h-1zM15 99h1v1h-1zM29 99h1v1h-1zM38 99h1v1h-1zM8 100h1v1h-1zM29 100h1v1h-1zM38 100h1v1h-1zM7 101h1v1h-1zM20 101h1v1h-1zM27 101h1v1h-1zM17 102h1v1h-1zM30 102h1v1h-1zM18 103h1v1h-1zM27 103h1v1h-1zM41 103h1v1h-1zM11 104h1v1h-1zM18 104h1v1h-1zM30 105h1v1h-1zM37 105h1v1h-1zM39 105h1v1h-1zM8 106h1v1h-1zM34 106h1v1h-1zM15 107h2v1h-2zM20 107h1v1h-1zM22 107h1v1h-1zM24 107h1v1h-1zM35 107h1v1h-1zM6 108h1v1h-1zM16 108h1v1h-1zM39 108h1v1h-1zM3 109h1v1h-1zM24 109h1v1h-1zM11 110h1v1h-1zM24 110h1v1h-1zM27 110h2v1h-2zM10 111h1v1h-1zM24 111h1v1h-1zM26 111h1v1h-1zM37 111h1v1h-1zM7 112h1v1h-1zM15 112h1v1h-1zM7 113h1v1h-1zM13 114h1v1h-1zM30 114h1v1h-1zM33 114h2v1h-2zM36 114h1v1h-1zM38 114h1v1h-1z"/>
<path fill="#fdfec3" d="M39 2h1v1h-1zM35 3h1v1h-1zM40 4h1v1h-1zM21 5h1v1h-1zM32 5h1v1h-1zM36 5h1v1h-1zM17 6h1v1h-1zM26 6h1v1h-1zM37 6h1v1h-1zM18 7h1v1h-1zM39 7h1v1h-1zM9 8h2v1h-2zM38 8h1v1h-1zM9 9h1v1h-1zM19 9h1v1h-1zM37 9h1v1h-1zM11 10h1v1h-1zM40 10h1v1h-1zM31 11h1v1h-1zM35 11h1v1h-1zM5 12h1v1h-1zM20 12h1v1h-1zM29 12h2v1h-2zM7 13h1v1h-1zM31 13h1v1h-1zM35 13h1v1h-1zM38 13h1v1h-1zM1 14h1v1h-1zM7 14h1v1h-1zM10 14h1v1h-1zM13 14h1v1h-1zM38 14h1v1h-1zM31 15h3v1h-3zM8 16h1v1h-1zM11 16h1v1h-1zM14 16h1v1h-1zM34 16h1v1h-1zM38 16h1v1h-1zM41 16h1v1h-1zM12 17h1v1h-1zM25 17h1v1h-1zM37 17h1v1h-1zM2 18h1v1h-1zM4 18h1v1h-1zM30 18h1v1h-1zM36 18h2v1h-2zM40 18h1v1h-1zM0 19h1v1h-1zM2 19h1v1h-1zM20 19h1v1h-1zM0 20h1v1h-1zM2 20h1v1h-1zM4 20h1v1h-1zM14 20h1v1h-1zM26 20h2v1h-2zM33 20h1v1h-1zM35 20h1v1h-1zM3 21h1v1h-1zM9 21h1v1h-1zM20 21h1v1h-1zM13 22h1v1h-1zM24 22h1v1h-1zM29 22h1v1h-1zM17 23h1v1h-1zM6 24h1v1h-1zM27 24h1v1h-1zM7 25h1v1h-1zM25 25h1v1h-1zM30 26h1v1h-1zM15 27h1v1h-1zM18 27h1v1h-1zM30 27h2v1h-2zM6 28h1v1h-1zM24 28h1v1h-1zM4 29h2v1h-2zM37 30h1v1h-1zM1 31h1v1h-1zM6 31h1v1h-1zM29 31h1v1h-1zM7 32h1v1h-1zM9 32h1v1h-1zM30 32h1v1h-1zM39 32h1v1h-1zM1 34h1v1h-1zM3 34h1v1h-1zM11 34h1v1h-1zM2 35h1v1h-1zM31 35h1v1h-1zM6 36h1v1h-1zM23 36h1v1h-1zM29 36h1v1h-1zM41 37h1v1h-1zM14 38h1v1h-1zM34 38h1v1h-1zM6 39h1v1h-1zM12 39h1v1h-1zM16 39h2v1h-2zM19 39h1v1h-1zM28 39h1v1h-1zM31 39h1v1h-1zM33 39h1v1h-1zM39 39h1v1h-1zM41 39h1v1h-1zM5 40h1v1h-1zM17 40h1v1h-1zM20 40h2v1h-2zM23 40h1v1h-1zM28 40h1v1h-1zM34 40h1v1h-1zM6 41h1v1h-1zM11 41h1v1h-1zM27 41h1v1h-1zM34 41h1v1h-1zM41 41h1v1h-1zM1 42h1v1h-1zM7 42h1v1h-1zM13 42h1v1h-1zM33 42h2v1h-2zM5 43h1v1h-1zM11 43h1v1h-1zM29 43h1v1h-1zM41 43h1v1h-1zM1 44h1v1h-1zM3 44h1v1h-1zM16 44h1v1h-1zM23 44h1v1h-1zM36 44h1v1h-1zM0 45h1v1h-1zM34 45h1v1h-1zM40 45h1v1h-1zM5 46h1v1h-1zM9 46h1v1h-1zM28 46h1v1h-1zM36 46h1v1h-1zM7 47h1v1h-1zM15 47h1v1h-1zM29 47h1v1h-1zM36 47h1v1h-1zM10 48h1v1h-1zM20 48h1v1h-1zM30 48h2v1h-2zM33 48h2v1h-2zM37 48h1v1h-1zM39 48h1v1h-1zM10 49h1v1h-1zM12 49h1v1h-1zM28 49h1v1h-1zM39 49h1v1h-1zM8 50h1v1h-1zM13 50h1v1h-1zM2 51h3v1h-3zM17 51h1v1h-1zM33 51h1v1h-1zM41 51h1v1h-1zM14 52h1v1h-1zM19 52h1v1h-1zM41 52h1v1h-1zM5 53h1v1h-1zM25 53h1v1h-1zM27 53h1v1h-1zM36 53h1v1h-1zM21 54h1v1h-1zM24 54h1v1h-1zM34 54h1v1h-1zM0 55h1v1h-1zM10 55h1v1h-1zM29 55h1v1h-1zM31 55h1v1h-1zM9 56h2v1h-2zM12 56h1v1h-1zM22 56h1v1h-1zM27 56h1v1h-1zM31 56h1v1h-1zM11 57h1v1h-1zM18 57h1v1h-1zM29 57h1v1h-1zM13 58h1v1h-1zM26 58h1v1h-1zM40 58h1v1h-1zM0 59h1v1h-1zM3 59h2v1h-2zM13 59h1v1h-1zM15 59h1v1h-1zM25 59h1v1h-1zM36 59h1v1h-1zM13 60h1v1h-1zM19 60h1v1h-1zM24 60h1v1h-1zM1 61h1v1h-1zM4 61h1v1h-1zM13 61h1v1h-1zM29 61h1v1h-1zM32 61h1v1h-1zM6 62h1v1h-1zM11 62h1v1h-1zM17 62h1v1h-1zM28 62h1v1h-1zM30 62h1v1h-1zM33 62h1v1h-1zM2 63h1v1h-1zM7 63h1v1h-1zM9 63h1v1h-1zM24 63h1v1h-1zM30 63h1v1h-1zM35 63h1v1h-1zM5 64h1v1h-1zM12 64h1v1h-1zM14 64h1v1h-1zM19 64h1v1h-1zM32 64h2v1h-2zM41 64h1v1h-1zM9 65h1v1h-1zM13 65h2v1h-2zM30 65h2v1h-2zM4 66h1v1h-1zM12 66h1v1h-1zM25 66h1v1h-1zM27 66h1v1h-1zM31 66h1v1h-1zM1 67h1v1h-1zM6 67h1v1h-1zM20 67h1v1h-1zM25 67h1v1h-1zM33 67h1v1h-1zM0 68h1v1h-1zM33 68h1v1h-1zM35 68h1v1h-1zM1 69h1v1h-1zM8 69h1v1h-1zM40 69h1v1h-1zM6 70h1v1h-1zM11 70h1v1h-1zM18 70h1v1h-1zM23 70h1v1h-1zM12 71h1v1h-1zM33 71h1v1h-1zM4 72h3v1h-3zM11 72h1v1h-1zM13 72h1v1h-1zM8 73h1v1h-1zM16 73h1v1h-1zM35 73h1v1h-1zM1 74h1v1h-1zM38 74h1v1h-1zM1 75h1v1h-1zM3 75h1v1h-1zM6 75h1v1h-1zM8 75h1v1h-1zM20 75h1v1h-1zM2 76h1v1h-1zM4 76h2v1h-2zM30 76h1v1h-1zM40 76h1v1h-1zM5 77h1v1h-1zM18 77h2v1h-2zM29 77h1v1h-1zM30 78h1v1h-1zM32 78h1v1h-1zM34 78h1v1h-1zM40 78h1v1h-1zM1 79h1v1h-1zM24 79h1v1h-1zM27 79h1v1h-1zM30 79h1v1h-1zM35 79h1v1h-1zM37 79h1v1h-1zM41 79h1v1h-1zM5 80h1v1h-1zM14 80h1v1h-1zM39 80h1v1h-1zM0 81h2v1h-2zM8 81h1v1h-1zM27 81h1v1h-1zM34 81h1v1h-1zM41 81h1v1h-1zM0 82h1v1h-1zM7 83h1v1h-1zM12 83h1v1h-1zM25 83h1v1h-1zM20 84h1v1h-1zM24 85h1v1h-1zM13 87h1v1h-1zM19 87h1v1h-1zM28 87h1v1h-1zM37 87h2v1h-2zM41 87h1v1h-1zM14 88h1v1h-1zM27 88h1v1h-1zM30 88h1v1h-1zM36 88h2v1h-2zM7 89h1v1h-1zM21 89h1v1h-1zM29 89h1v1h-1zM36 89h1v1h-1zM29 90h1v1h-1zM35 90h1v1h-1zM6 91h1v1h-1zM39 91h1v1h-1zM20 92h1v1h-1zM36 92h2v1h-2zM12 93h1v1h-1zM8 94h1v1h-1zM11 94h2v1h-2zM22 94h1v1h-1zM26 94h1v1h-1zM33 94h1v1h-1zM7 95h1v1h-1zM16 95h1v1h-1zM28 95h1v1h-1zM35 95h1v1h-1zM21 96h1v1h-1zM24 96h1v1h-1zM40 96h1v1h-1zM15 97h1v1h-1zM26 97h1v1h-1zM30 97h1v1h-1zM33 97h1v1h-1zM35 97h1v1h-1zM40 97h1v1h-1zM7 98h2v1h-2zM26 98h1v1h-1zM29 98h1v1h-1zM18 99h1v1h-1zM21 99h1v1h-1zM27 99h1v1h-1zM30 99h1v1h-1zM39 99h1v1h-1zM15 100h1v1h-1zM18 100h1v1h-1zM28 100h1v1h-1zM39 100h1v1h-1zM4 101h1v1h-1zM10 101h1v1h-1zM15 101h1v1h-1zM39 101h1v1h-1zM12 102h1v1h-1zM27 102h1v1h-1zM10 103h1v1h-1zM35 103h1v1h-1zM12 104h1v1h-1zM28 104h1v1h-1zM31 104h1v1h-1zM33 104h1v1h-1zM3 105h1v1h-1zM14 105h1v1h-1zM19 105h1v1h-1zM31 105h2v1h-2zM38 105h1v1h-1zM41 105h1v1h-1zM4 106h1v1h-1zM14 106h1v1h-1zM28 106h1v1h-1zM33 106h1v1h-1zM35 106h1v1h-1zM37 106h1v1h-1zM19 107h1v1h-1zM25 107h2v1h-2zM34 107h1v1h-1zM8 108h1v1h-1zM19 108h1v1h-1zM23 108h1v1h-1zM25 108h1v1h-1zM28 108h1v1h-1zM8 109h1v1h-1zM14 109h1v1h-1zM22 109h1v1h-1zM35 109h1v1h-1zM38 109h1v1h-1zM12 110h1v1h-1zM15 110h2v1h-2zM29 110h1v1h-1zM33 110h1v1h-1zM4 111h2v1h-2zM18 111h1v1h-1zM21 111h1v1h-1zM30 111h1v1h-1zM6 112h1v1h-1zM19 112h1v1h-1zM21 112h1v1h-1zM26 112h1v1h-1zM29 112h1v1h-1zM35 112h1v1h-1zM39 112h1v1h-1zM9 113h1v1h-1zM21 113h1v1h-1zM28 113h1v1h-1zM34 113h1v1h-1zM36 113h1v1h-1zM2 114h2v1h-2zM21 114h1v1h-1zM32 114h1v1h-1z"/>
<path fill="#fffdbc" d="M31 0h1v1h-1zM31 2h1v1h-1zM41 2h1v1h-1zM10 4h1v1h-1zM34 4h1v1h-1zM39 4h1v1h-1zM12 5h1v1h-1zM28 6h1v1h-1zM13 7h1v1h-1zM25 7h1v1h-1zM27 8h1v1h-1zM35 8h1v1h-1zM29 9h1v1h-1zM39 9h1v1h-1zM29 10h1v1h-1zM35 10h1v1h-1zM19 11h1v1h-1zM21 11h1v1h-1zM36 11h1v1h-1zM39 11h1v1h-1zM41 12h1v1h-1zM1 13h1v1h-1zM11 13h1v1h-1zM32 13h1v1h-1zM8 14h1v1h-1zM11 14h1v1h-1zM4 15h1v1h-1zM8 15h1v1h-1zM28 15h1v1h-1zM38 15h1v1h-1zM12 16h1v1h-1zM21 16h1v1h-1zM31 16h2v1h-2zM11 17h1v1h-1zM39 17h1v1h-1zM41 17h1v1h-1zM38 18h1v1h-1zM9 19h1v1h-1zM37 19h1v1h-1zM1 20h1v1h-1zM19 20h1v1h-1zM41 20h1v1h-1zM23 21h1v1h-1zM30 21h2v1h-2zM37 21h1v1h-1zM39 21h1v1h-1zM41 21h1v1h-1zM0 22h1v1h-1zM20 22h1v1h-1zM40 22h1v1h-1zM32 23h1v1h-1zM37 23h1v1h-1zM25 24h1v1h-1zM28 24h1v1h-1zM32 24h1v1h-1zM38 25h1v1h-1zM21 26h1v1h-1zM39 26h1v1h-1zM20 27h1v1h-1zM28 27h1v1h-1zM40 28h1v1h-1zM5 30h1v1h-1zM41 30h1v1h-1zM37 31h1v1h-1zM16 32h1v1h-1zM5 33h1v1h-1zM7 33h1v1h-1zM41 33h1v1h-1zM2 34h1v1h-1zM4 34h1v1h-1zM38 34h3v1h-3zM7 36h1v1h-1zM33 36h2v1h-2zM12 37h1v1h-1zM39 37h1v1h-1zM36 38h1v1h-1zM40 38h1v1h-1zM0 39h1v1h-1zM7 39h1v1h-1zM10 39h1v1h-1zM14 39h1v1h-1zM34 39h1v1h-1zM40 39h1v1h-1zM12 40h1v1h-1zM19 40h1v1h-1zM36 40h1v1h-1zM1 41h1v1h-1zM8 41h1v1h-1zM20 41h1v1h-1zM36 41h1v1h-1zM39 41h1v1h-1zM3 42h1v1h-1zM5 42h1v1h-1zM37 42h1v1h-1zM0 43h1v1h-1zM2 43h2v1h-2zM31 43h1v1h-1zM0 44h1v1h-1zM19 44h1v1h-1zM28 44h1v1h-1zM31 44h1v1h-1zM34 44h1v1h-1zM37 44h1v1h-1zM8 45h1v1h-1zM19 45h1v1h-1zM24 45h1v1h-1zM26 45h1v1h-1zM32 45h1v1h-1zM15 46h1v1h-1zM18 46h2v1h-2zM21 46h1v1h-1zM26 46h1v1h-1zM32 46h1v1h-1zM35 46h1v1h-1zM9 47h2v1h-2zM24 47h1v1h-1zM30 47h1v1h-1zM16 48h1v1h-1zM27 49h1v1h-1zM32 49h1v1h-1zM34 49h1v1h-1zM10 50h1v1h-1zM14 50h1v1h-1zM19 50h2v1h-2zM41 50h1v1h-1zM12 51h1v1h-1zM14 51h1v1h-1zM22 51h2v1h-2zM25 51h1v1h-1zM30 51h2v1h-2zM2 52h2v1h-2zM21 52h2v1h-2zM34 52h1v1h-1zM8 53h1v1h-1zM28 53h1v1h-1zM32 53h1v1h-1zM34 53h1v1h-1zM37 53h1v1h-1zM39 53h1v1h-1zM2 54h1v1h-1zM5 54h1v1h-1zM7 54h1v1h-1zM9 54h1v1h-1zM23 54h1v1h-1zM27 54h1v1h-1zM32 54h1v1h-1zM37 54h1v1h-1zM40 54h1v1h-1zM5 55h1v1h-1zM16 55h1v1h-1zM25 55h1v1h-1zM14 56h1v1h-1zM19 56h1v1h-1zM21 56h1v1h-1zM38 56h1v1h-1zM3 57h1v1h-1zM9 57h1v1h-1zM12 57h1v1h-1zM25 57h1v1h-1zM4 58h1v1h-1zM6 58h1v1h-1zM9 58h1v1h-1zM12 58h1v1h-1zM15 58h1v1h-1zM18 58h1v1h-1zM29 58h1v1h-1zM31 58h1v1h-1zM26 59h1v1h-1zM28 59h1v1h-1zM31 59h1v1h-1zM39 59h1v1h-1zM41 59h1v1h-1zM16 60h1v1h-1zM25 60h1v1h-1zM29 60h1v1h-1zM8 61h1v1h-1zM17 61h1v1h-1zM27 61h1v1h-1zM37 61h1v1h-1zM2 62h1v1h-1zM9 62h1v1h-1zM32 62h1v1h-1zM35 62h2v1h-2zM38 62h1v1h-1zM1 63h1v1h-1zM3 63h1v1h-1zM13 63h1v1h-1zM26 63h1v1h-1zM34 63h1v1h-1zM36 63h2v1h-2zM0 64h1v1h-1zM18 65h1v1h-1zM2 66h1v1h-1zM5 66h1v1h-1zM16 66h1v1h-1zM24 66h1v1h-1zM28 66h1v1h-1zM32 66h1v1h-1zM41 66h1v1h-1zM3 67h1v1h-1zM9 67h1v1h-1zM14 67h2v1h-2zM17 67h2v1h-2zM22 67h1v1h-1zM32 67h1v1h-1zM34 67h1v1h-1zM40 67h1v1h-1zM7 68h1v1h-1zM10 68h1v1h-1zM32 68h1v1h-1zM37 68h3v1h-3zM0 69h1v1h-1zM7 69h1v1h-1zM15 69h1v1h-1zM18 69h1v1h-1zM31 69h1v1h-1zM35 69h1v1h-1zM1 70h3v1h-3zM25 70h1v1h-1zM27 70h1v1h-1zM31 70h1v1h-1zM0 71h1v1h-1zM2 71h1v1h-1zM8 71h2v1h-2zM11 71h1v1h-1zM19 71h2v1h-2zM32 71h1v1h-1zM34 71h1v1h-1zM41 71h1v1h-1zM2 72h2v1h-2zM7 72h1v1h-1zM10 72h1v1h-1zM14 72h1v1h-1zM21 72h1v1h-1zM29 72h2v1h-2zM38 72h1v1h-1zM4 73h1v1h-1zM30 73h1v1h-1zM36 73h2v1h-2zM39 73h1v1h-1zM0 74h1v1h-1zM2 74h1v1h-1zM5 74h1v1h-1zM11 74h1v1h-1zM27 74h2v1h-2zM30 74h1v1h-1zM10 75h1v1h-1zM13 75h1v1h-1zM17 75h1v1h-1zM38 75h3v1h-3zM18 76h1v1h-1zM20 76h1v1h-1zM27 76h1v1h-1zM29 76h1v1h-1zM32 76h2v1h-2zM39 76h1v1h-1zM4 77h1v1h-1zM10 77h1v1h-1zM22 77h1v1h-1zM31 77h1v1h-1zM38 77h1v1h-1zM6 78h1v1h-1zM9 78h1v1h-1zM11 78h1v1h-1zM19 78h1v1h-1zM26 78h2v1h-2zM31 78h1v1h-1zM2 79h1v1h-1zM12 79h1v1h-1zM23 79h1v1h-1zM25 79h1v1h-1zM15 80h1v1h-1zM22 80h1v1h-1zM35 80h1v1h-1zM2 81h1v1h-1zM5 81h1v1h-1zM18 81h1v1h-1zM22 81h1v1h-1zM24 81h1v1h-1zM8 82h1v1h-1zM12 82h1v1h-1zM18 82h1v1h-1zM35 82h1v1h-1zM6 83h1v1h-1zM9 83h1v1h-1zM14 83h1v1h-1zM25 84h1v1h-1zM40 84h1v1h-1zM5 86h1v1h-1zM12 86h2v1h-2zM26 86h1v1h-1zM33 86h1v1h-1zM25 87h1v1h-1zM29 87h1v1h-1zM39 87h1v1h-1zM21 88h1v1h-1zM16 89h1v1h-1zM18 89h1v1h-1zM38 89h1v1h-1zM19 90h1v1h-1zM23 90h2v1h-2zM34 90h1v1h-1zM41 90h1v1h-1zM36 91h1v1h-1zM40 91h1v1h-1zM11 92h2v1h-2zM31 92h1v1h-1zM39 92h1v1h-1zM29 93h1v1h-1zM39 93h1v1h-1zM13 94h1v1h-1zM8 95h1v1h-1zM24 95h1v1h-1zM33 95h1v1h-1zM9 96h1v1h-1zM30 96h1v1h-1zM37 96h1v1h-1zM20 97h1v1h-1zM11 98h1v1h-1zM30 98h1v1h-1zM24 99h2v1h-2zM33 99h1v1h-1zM35 99h1v1h-1zM6 100h1v1h-1zM33 100h1v1h-1zM1 101h1v1h-1zM12 101h2v1h-2zM16 101h1v1h-1zM21 101h1v1h-1zM30 101h1v1h-1zM33 101h1v1h-1zM35 101h2v1h-2zM3 102h1v1h-1zM20 102h1v1h-1zM23 102h1v1h-1zM28 102h1v1h-1zM31 102h2v1h-2zM39 102h1v1h-1zM12 103h1v1h-1zM15 103h1v1h-1zM19 103h1v1h-1zM37 103h1v1h-1zM0 104h1v1h-1zM7 104h1v1h-1zM14 104h1v1h-1zM16 104h1v1h-1zM25 104h1v1h-1zM29 104h2v1h-2zM39 104h1v1h-1zM21 105h1v1h-1zM25 105h1v1h-1zM27 105h1v1h-1zM29 105h1v1h-1zM0 106h1v1h-1zM18 106h3v1h-3zM38 106h2v1h-2zM7 107h1v1h-1zM13 107h1v1h-1zM3 108h1v1h-1zM38 108h1v1h-1zM40 108h1v1h-1zM5 109h1v1h-1zM7 109h1v1h-1zM9 109h1v1h-1zM18 109h1v1h-1zM25 109h1v1h-1zM37 109h1v1h-1zM10 110h1v1h-1zM13 110h1v1h-1zM19 110h1v1h-1zM37 110h1v1h-1zM9 111h1v1h-1zM11 111h1v1h-1zM23 111h1v1h-1zM29 111h1v1h-1zM34 111h1v1h-1zM2 112h1v1h-1zM27 112h1v1h-1zM36 112h1v1h-1zM2 113h1v1h-1zM23 113h1v1h-1zM38 113h2v1h-2zM9 114h1v1h-1zM11 114h1v1h-1zM16 114h1v1h-1zM22 114h2v1h-2z"/>
<path fill="#fff9b6" d="M38 1h1v1h-1zM16 3h1v1h-1zM30 3h1v1h-1zM11 5h1v1h-1zM10 6h1v1h-1zM8 8h1v1h-1zM17 8h1v1h-1zM11 9h1v1h-1zM37 11h2v1h-2zM8 13h1v1h-1zM25 13h1v1h-1zM36 13h1v1h-1zM35 14h1v1h-1zM3 15h1v1h-1zM29 15h1v1h-1zM40 15h1v1h-1zM10 16h1v1h-1zM33 16h1v1h-1zM2 17h1v1h-1zM8 17h1v1h-1zM5 18h1v1h-1zM32 18h1v1h-1zM1 19h1v1h-1zM11 20h1v1h-1zM22 20h1v1h-1zM23 22h1v1h-1zM29 25h1v1h-1zM32 26h1v1h-1zM41 26h1v1h-1zM38 27h1v1h-1zM7 28h1v1h-1zM20 28h1v1h-1zM25 28h1v1h-1zM12 31h1v1h-1zM38 33h1v1h-1zM40 35h1v1h-1zM33 37h1v1h-1zM36 37h1v1h-1zM0 38h1v1h-1zM6 38h1v1h-1zM37 38h1v1h-1zM3 39h1v1h-1zM5 39h1v1h-1zM37 39h1v1h-1zM39 40h2v1h-2zM2 41h1v1h-1zM33 41h1v1h-1zM31 42h1v1h-1zM38 42h1v1h-1zM1 43h1v1h-1zM35 44h1v1h-1zM40 44h1v1h-1zM6 45h1v1h-1zM12 45h1v1h-1zM18 45h1v1h-1zM21 45h1v1h-1zM25 45h1v1h-1zM29 45h1v1h-1zM38 45h1v1h-1zM11 46h1v1h-1zM34 46h1v1h-1zM38 46h1v1h-1zM41 46h1v1h-1zM22 47h1v1h-1zM34 47h1v1h-1zM7 49h1v1h-1zM9 49h1v1h-1zM14 49h1v1h-1zM18 49h2v1h-2zM22 49h1v1h-1zM11 50h1v1h-1zM15 50h1v1h-1zM33 50h1v1h-1zM15 51h1v1h-1zM29 51h1v1h-1zM34 51h2v1h-2zM39 51h1v1h-1zM4 52h1v1h-1zM9 52h1v1h-1zM16 52h1v1h-1zM20 52h1v1h-1zM24 52h1v1h-1zM29 52h2v1h-2zM32 52h1v1h-1zM37 52h1v1h-1zM39 52h1v1h-1zM6 53h2v1h-2zM20 53h1v1h-1zM31 53h1v1h-1zM3 54h2v1h-2zM10 54h1v1h-1zM15 54h1v1h-1zM25 54h1v1h-1zM2 55h2v1h-2zM7 55h1v1h-1zM11 55h1v1h-1zM24 55h1v1h-1zM5 56h1v1h-1zM15 56h1v1h-1zM29 56h1v1h-1zM37 56h1v1h-1zM1 57h1v1h-1zM4 57h2v1h-2zM22 57h2v1h-2zM35 57h1v1h-1zM0 58h1v1h-1zM21 58h2v1h-2zM28 58h1v1h-1zM30 58h1v1h-1zM32 58h1v1h-1zM34 58h1v1h-1zM2 59h1v1h-1zM24 59h1v1h-1zM34 59h1v1h-1zM37 59h1v1h-1zM40 59h1v1h-1zM0 60h1v1h-1zM6 60h1v1h-1zM8 60h1v1h-1zM23 60h1v1h-1zM6 61h1v1h-1zM20 61h1v1h-1zM5 62h1v1h-1zM15 62h1v1h-1zM25 62h1v1h-1zM27 62h1v1h-1zM6 63h1v1h-1zM19 63h1v1h-1zM23 63h1v1h-1zM28 63h2v1h-2zM2 64h1v1h-1zM4 64h1v1h-1zM8 64h1v1h-1zM10 64h1v1h-1zM17 64h1v1h-1zM21 64h1v1h-1zM26 64h1v1h-1zM28 64h2v1h-2zM31 64h1v1h-1zM36 64h1v1h-1zM40 64h1v1h-1zM6 65h1v1h-1zM8 65h1v1h-1zM12 65h1v1h-1zM21 65h1v1h-1zM27 65h1v1h-1zM33 65h1v1h-1zM35 65h1v1h-1zM0 66h1v1h-1zM19 66h1v1h-1zM21 66h1v1h-1zM26 66h1v1h-1zM40 66h1v1h-1zM7 67h1v1h-1zM13 67h1v1h-1zM19 67h1v1h-1zM24 67h1v1h-1zM26 67h1v1h-1zM28 67h1v1h-1zM35 67h1v1h-1zM38 67h2v1h-2zM1 68h1v1h-1zM17 68h2v1h-2zM23 68h1v1h-1zM25 68h2v1h-2zM28 68h1v1h-1zM41 68h1v1h-1zM4 69h1v1h-1zM6 69h1v1h-1zM13 69h1v1h-1zM17 69h1v1h-1zM22 69h2v1h-2zM27 69h1v1h-1zM30 69h1v1h-1zM32 69h1v1h-1zM34 69h1v1h-1zM37 69h1v1h-1zM39 69h1v1h-1zM5 70h1v1h-1zM7 70h1v1h-1zM10 70h1v1h-1zM13 70h1v1h-1zM16 70h1v1h-1zM29 70h2v1h-2zM32 70h1v1h-1zM34 70h1v1h-1zM41 70h1v1h-1zM4 71h1v1h-1zM7 71h1v1h-1zM13 71h1v1h-1zM15 71h1v1h-1zM25 71h1v1h-1zM30 71h2v1h-2zM36 71h1v1h-1zM38 71h3v1h-3zM17 72h1v1h-1zM19 72h1v1h-1zM33 72h1v1h-1zM40 72h1v1h-1zM7 73h1v1h-1zM13 73h1v1h-1zM19 73h1v1h-1zM22 73h1v1h-1zM28 73h1v1h-1zM31 73h1v1h-1zM10 74h1v1h-1zM17 74h1v1h-1zM22 74h2v1h-2zM26 74h1v1h-1zM33 74h2v1h-2zM36 74h1v1h-1zM39 74h1v1h-1zM0 75h1v1h-1zM4 75h2v1h-2zM7 75h1v1h-1zM9 75h1v1h-1zM26 75h4v1h-4zM35 75h1v1h-1zM10 76h1v1h-1zM34 76h1v1h-1zM41 76h1v1h-1zM1 77h1v1h-1zM3 77h1v1h-1zM9 77h1v1h-1zM20 77h2v1h-2zM25 77h1v1h-1zM1 78h1v1h-1zM13 78h2v1h-2zM20 78h3v1h-3zM28 78h1v1h-1zM35 78h1v1h-1zM37 78h1v1h-1zM3 79h1v1h-1zM6 79h1v1h-1zM11 79h1v1h-1zM14 79h1v1h-1zM4 80h1v1h-1zM12 80h1v1h-1zM40 80h1v1h-1zM3 81h2v1h-2zM38 81h1v1h-1zM1 82h1v1h-1zM3 82h1v1h-1zM11 82h1v1h-1zM13 82h1v1h-1zM26 83h1v1h-1zM9 84h1v1h-1zM0 85h1v1h-1zM23 85h1v1h-1zM1 87h1v1h-1zM20 87h1v1h-1zM22 87h1v1h-1zM31 87h1v1h-1zM24 88h1v1h-1zM29 88h1v1h-1zM35 88h1v1h-1zM15 89h1v1h-1zM30 89h1v1h-1zM16 90h1v1h-1zM17 91h1v1h-1zM22 91h1v1h-1zM32 91h1v1h-1zM7 92h1v1h-1zM26 92h2v1h-2zM36 93h2v1h-2zM32 95h1v1h-1zM36 95h2v1h-2zM40 95h1v1h-1zM23 96h1v1h-1zM29 96h1v1h-1zM10 98h1v1h-1zM32 98h2v1h-2zM36 98h1v1h-1zM28 99h1v1h-1zM4 100h1v1h-1zM10 100h1v1h-1zM23 100h1v1h-1zM30 100h1v1h-1zM34 100h1v1h-1zM5 101h1v1h-1zM8 101h1v1h-1zM25 101h1v1h-1zM37 101h1v1h-1zM4 102h1v1h-1zM25 102h2v1h-2zM29 102h1v1h-1zM35 102h1v1h-1zM40 102h1v1h-1zM7 103h1v1h-1zM11 103h1v1h-1zM21 103h2v1h-2zM25 103h1v1h-1zM28 103h1v1h-1zM38 103h1v1h-1zM8 104h1v1h-1zM35 104h1v1h-1zM20 105h1v1h-1zM22 105h1v1h-1zM40 105h1v1h-1zM5 106h2v1h-2zM24 106h1v1h-1zM29 106h1v1h-1zM0 107h1v1h-1zM4 107h1v1h-1zM18 107h1v1h-1zM27 107h2v1h-2zM36 107h1v1h-1zM1 108h2v1h-2zM4 108h1v1h-1zM7 108h1v1h-1zM12 108h1v1h-1zM26 108h2v1h-2zM35 108h1v1h-1zM37 108h1v1h-1zM41 108h1v1h-1zM6 109h1v1h-1zM16 109h1v1h-1zM23 109h1v1h-1zM30 109h1v1h-1zM5 110h1v1h-1zM8 110h1v1h-1zM21 110h1v1h-1zM23 110h1v1h-1zM26 110h1v1h-1zM32 110h1v1h-1zM7 111h1v1h-1zM16 111h1v1h-1zM40 111h2v1h-2zM4 112h2v1h-2zM13 112h1v1h-1zM25 112h1v1h-1zM4 113h3v1h-3zM10 113h1v1h-1zM14 113h1v1h-1zM26 113h1v1h-1zM29 113h1v1h-1zM31 113h1v1h-1zM0 114h1v1h-1zM17 114h2v1h-2zM24 114h1v1h-1zM29 114h1v1h-1zM37 114h1v1h-1z"/>
<path fill="#fff5b0" d="M3 0h1v1h-1zM12 4h1v1h-1zM7 5h1v1h-1zM34 5h1v1h-1zM7 6h2v1h-2zM13 6h1v1h-1zM2 9h1v1h-1zM12 9h1v1h-1zM38 9h1v1h-1zM14 11h1v1h-1zM6 12h1v1h-1zM9 12h2v1h-2zM37 12h2v1h-2zM9 13h2v1h-2zM29 13h1v1h-1zM40 13h1v1h-1zM9 14h1v1h-1zM34 14h1v1h-1zM37 15h1v1h-1zM28 16h1v1h-1zM5 17h1v1h-1zM10 17h1v1h-1zM12 18h1v1h-1zM39 19h1v1h-1zM38 20h1v1h-1zM30 22h2v1h-2zM39 27h1v1h-1zM0 33h1v1h-1zM41 35h1v1h-1zM28 37h1v1h-1zM35 38h1v1h-1zM1 39h1v1h-1zM36 39h1v1h-1zM6 40h1v1h-1zM10 40h1v1h-1zM18 40h1v1h-1zM31 40h1v1h-1zM24 41h1v1h-1zM26 41h1v1h-1zM40 41h1v1h-1zM36 42h1v1h-1zM4 43h1v1h-1zM34 43h1v1h-1zM11 44h1v1h-1zM9 45h1v1h-1zM16 45h2v1h-2zM31 45h1v1h-1zM33 45h1v1h-1zM14 46h1v1h-1zM20 46h1v1h-1zM23 46h1v1h-1zM25 46h1v1h-1zM29 46h1v1h-1zM39 46h2v1h-2zM21 47h1v1h-1zM33 47h1v1h-1zM8 48h1v1h-1zM13 48h2v1h-2zM17 48h1v1h-1zM22 48h1v1h-1zM24 48h1v1h-1zM8 49h1v1h-1zM17 49h1v1h-1zM35 49h1v1h-1zM37 49h2v1h-2zM17 50h1v1h-1zM21 50h1v1h-1zM39 50h2v1h-2zM24 51h1v1h-1zM26 51h1v1h-1zM38 51h1v1h-1zM40 51h1v1h-1zM0 52h1v1h-1zM36 52h1v1h-1zM9 53h1v1h-1zM26 53h1v1h-1zM30 53h1v1h-1zM35 53h1v1h-1zM12 54h1v1h-1zM22 54h1v1h-1zM36 54h1v1h-1zM1 55h1v1h-1zM28 55h1v1h-1zM35 55h1v1h-1zM0 56h1v1h-1zM3 56h1v1h-1zM17 56h1v1h-1zM20 56h1v1h-1zM13 57h3v1h-3zM21 57h1v1h-1zM32 57h1v1h-1zM3 58h1v1h-1zM8 58h1v1h-1zM19 58h1v1h-1zM5 59h1v1h-1zM8 59h1v1h-1zM11 59h1v1h-1zM17 59h2v1h-2zM23 59h1v1h-1zM29 59h1v1h-1zM32 59h1v1h-1zM14 60h1v1h-1zM30 60h1v1h-1zM3 61h1v1h-1zM7 62h1v1h-1zM20 62h1v1h-1zM22 62h1v1h-1zM39 62h1v1h-1zM5 63h1v1h-1zM3 64h1v1h-1zM6 64h2v1h-2zM23 64h1v1h-1zM37 64h2v1h-2zM15 65h1v1h-1zM19 65h1v1h-1zM22 65h2v1h-2zM28 65h1v1h-1zM39 65h1v1h-1zM15 66h1v1h-1zM17 66h2v1h-2zM20 66h1v1h-1zM29 66h2v1h-2zM34 66h1v1h-1zM36 67h1v1h-1zM5 68h1v1h-1zM8 68h1v1h-1zM12 68h1v1h-1zM20 68h1v1h-1zM27 68h1v1h-1zM29 68h1v1h-1zM34 68h1v1h-1zM10 69h3v1h-3zM19 69h3v1h-3zM29 69h1v1h-1zM41 69h1v1h-1zM12 70h1v1h-1zM20 70h2v1h-2zM33 70h1v1h-1zM36 70h1v1h-1zM40 70h1v1h-1zM5 71h1v1h-1zM17 71h1v1h-1zM21 71h1v1h-1zM24 71h1v1h-1zM8 72h1v1h-1zM12 72h1v1h-1zM25 72h2v1h-2zM28 72h1v1h-1zM31 72h1v1h-1zM39 72h1v1h-1zM3 73h1v1h-1zM14 73h1v1h-1zM18 73h1v1h-1zM20 73h1v1h-1zM23 73h2v1h-2zM29 73h1v1h-1zM7 74h2v1h-2zM15 74h1v1h-1zM19 74h3v1h-3zM37 74h1v1h-1zM40 74h1v1h-1zM12 75h1v1h-1zM21 75h1v1h-1zM25 75h1v1h-1zM30 75h1v1h-1zM32 75h2v1h-2zM36 75h1v1h-1zM41 75h1v1h-1zM6 76h1v1h-1zM11 76h1v1h-1zM19 76h1v1h-1zM22 76h1v1h-1zM25 76h1v1h-1zM7 77h1v1h-1zM14 77h3v1h-3zM26 77h2v1h-2zM33 77h1v1h-1zM37 77h1v1h-1zM16 78h1v1h-1zM18 78h1v1h-1zM23 78h1v1h-1zM2 83h1v1h-1zM5 84h2v1h-2zM7 85h1v1h-1zM28 85h1v1h-1zM0 86h1v1h-1zM6 87h1v1h-1zM18 87h1v1h-1zM27 89h2v1h-2zM7 90h1v1h-1zM15 91h1v1h-1zM31 91h1v1h-1zM32 92h1v1h-1zM35 92h1v1h-1zM23 93h1v1h-1zM40 93h1v1h-1zM25 94h1v1h-1zM30 94h1v1h-1zM35 94h2v1h-2zM29 95h1v1h-1zM33 96h1v1h-1zM35 96h1v1h-1zM38 96h1v1h-1zM41 96h1v1h-1zM7 97h1v1h-1zM17 97h1v1h-1zM31 97h1v1h-1zM0 100h2v1h-2zM7 100h1v1h-1zM24 100h1v1h-1zM0 101h1v1h-1zM34 101h1v1h-1zM11 102h1v1h-1zM13 102h1v1h-1zM6 103h1v1h-1zM8 103h2v1h-2zM40 103h1v1h-1zM17 104h1v1h-1zM22 104h1v1h-1zM32 104h1v1h-1zM37 104h1v1h-1zM10 105h2v1h-2zM13 105h1v1h-1zM33 105h1v1h-1zM35 105h1v1h-1zM3 106h1v1h-1zM7 106h1v1h-1zM21 106h1v1h-1zM25 106h1v1h-1zM32 106h1v1h-1zM0 108h1v1h-1zM17 108h1v1h-1zM30 108h1v1h-1zM32 108h3v1h-3zM13 109h1v1h-1zM20 109h1v1h-1zM27 109h1v1h-1zM39 109h1v1h-1zM2 110h1v1h-1zM4 110h1v1h-1zM7 110h1v1h-1zM22 110h1v1h-1zM35 110h1v1h-1zM39 110h1v1h-1zM33 111h1v1h-1zM36 111h1v1h-1zM11 112h1v1h-1zM17 112h1v1h-1zM37 112h1v1h-1zM15 113h2v1h-2zM19 113h1v1h-1zM8 114h1v1h-1zM12 114h1v1h-1z"/>
<path fill="#fff1aa" d="M38 5h1v1h-1zM12 7h1v1h-1zM15 7h1v1h-1zM39 8h1v1h-1zM10 9h1v1h-1zM7 11h1v1h-1zM7 15h1v1h-1zM36 16h1v1h-1zM11 18h1v1h-1zM38 19h1v1h-1zM41 19h1v1h-1zM25 21h1v1h-1zM38 21h1v1h-1zM33 23h1v1h-1zM17 24h1v1h-1zM39 25h1v1h-1zM30 28h1v1h-1zM2 32h1v1h-1zM39 38h1v1h-1zM3 40h1v1h-1zM7 40h1v1h-1zM14 40h1v1h-1zM30 40h1v1h-1zM38 41h1v1h-1zM2 42h1v1h-1zM40 43h1v1h-1zM37 45h1v1h-1zM39 45h1v1h-1zM8 46h1v1h-1zM10 46h1v1h-1zM16 46h2v1h-2zM31 46h1v1h-1zM33 46h1v1h-1zM13 47h1v1h-1zM28 47h1v1h-1zM39 47h1v1h-1zM23 48h1v1h-1zM25 48h1v1h-1zM29 48h1v1h-1zM36 48h1v1h-1zM38 48h1v1h-1zM21 49h1v1h-1zM23 49h2v1h-2zM36 49h1v1h-1zM22 50h2v1h-2zM26 50h1v1h-1zM28 50h1v1h-1zM30 50h1v1h-1zM32 50h1v1h-1zM36 50h1v1h-1zM8 51h1v1h-1zM19 51h1v1h-1zM28 51h1v1h-1zM6 52h1v1h-1zM10 52h1v1h-1zM28 52h1v1h-1zM33 52h1v1h-1zM0 53h1v1h-1zM10 53h2v1h-2zM15 53h1v1h-1zM23 53h1v1h-1zM29 53h1v1h-1zM1 54h1v1h-1zM16 54h1v1h-1zM26 54h1v1h-1zM17 55h1v1h-1zM23 55h1v1h-1zM30 55h1v1h-1zM1 56h1v1h-1zM24 56h1v1h-1zM34 56h1v1h-1zM19 57h1v1h-1zM36 57h1v1h-1zM14 58h1v1h-1zM1 59h1v1h-1zM4 60h1v1h-1zM11 60h1v1h-1zM22 60h1v1h-1zM27 60h1v1h-1zM32 60h1v1h-1zM41 62h1v1h-1zM10 63h1v1h-1zM31 63h1v1h-1zM33 63h1v1h-1zM38 63h1v1h-1zM41 63h1v1h-1zM39 64h1v1h-1zM2 65h2v1h-2zM6 66h1v1h-1zM9 66h1v1h-1zM23 66h1v1h-1zM33 66h1v1h-1zM36 66h2v1h-2zM39 66h1v1h-1zM8 67h1v1h-1zM10 67h1v1h-1zM16 67h1v1h-1zM23 67h1v1h-1zM27 67h1v1h-1zM30 67h2v1h-2zM4 68h1v1h-1zM9 68h1v1h-1zM16 68h1v1h-1zM30 68h1v1h-1zM40 68h1v1h-1zM16 69h1v1h-1zM26 69h1v1h-1zM28 69h1v1h-1zM8 70h2v1h-2zM15 70h1v1h-1zM26 70h1v1h-1zM39 70h1v1h-1zM14 71h1v1h-1zM28 71h2v1h-2zM9 72h1v1h-1zM16 72h1v1h-1zM20 72h1v1h-1zM34 72h1v1h-1zM17 73h1v1h-1zM27 73h1v1h-1zM32 73h1v1h-1zM34 73h1v1h-1zM40 73h1v1h-1zM12 74h1v1h-1zM18 74h1v1h-1zM25 74h1v1h-1zM29 74h1v1h-1zM32 74h1v1h-1zM14 75h1v1h-1zM19 75h1v1h-1zM22 75h1v1h-1zM31 75h1v1h-1zM37 75h1v1h-1zM12 76h3v1h-3zM28 76h1v1h-1zM31 76h1v1h-1zM35 76h1v1h-1zM37 76h1v1h-1zM6 77h1v1h-1zM8 77h1v1h-1zM30 77h1v1h-1zM39 77h1v1h-1zM7 78h1v1h-1zM15 78h1v1h-1zM24 78h1v1h-1zM29 78h1v1h-1zM41 78h1v1h-1zM6 81h1v1h-1zM5 82h1v1h-1zM1 85h1v1h-1zM1 86h1v1h-1zM3 87h1v1h-1zM22 89h1v1h-1zM12 90h1v1h-1zM30 90h1v1h-1zM14 91h1v1h-1zM35 91h1v1h-1zM41 93h1v1h-1zM7 96h1v1h-1zM31 99h1v1h-1zM5 100h1v1h-1zM36 100h1v1h-1zM22 101h1v1h-1zM32 101h1v1h-1zM1 102h2v1h-2zM7 102h1v1h-1zM9 102h1v1h-1zM15 102h1v1h-1zM24 102h1v1h-1zM33 102h1v1h-1zM41 102h1v1h-1zM20 103h1v1h-1zM31 103h1v1h-1zM36 103h1v1h-1zM6 104h1v1h-1zM9 104h1v1h-1zM21 104h1v1h-1zM4 105h3v1h-3zM16 105h1v1h-1zM28 105h1v1h-1zM12 106h1v1h-1zM36 106h1v1h-1zM1 107h2v1h-2zM10 107h3v1h-3zM23 107h1v1h-1zM30 107h1v1h-1zM18 108h1v1h-1zM20 108h2v1h-2zM36 108h1v1h-1zM0 109h1v1h-1zM11 109h1v1h-1zM31 109h1v1h-1zM34 109h1v1h-1zM41 109h1v1h-1zM0 110h1v1h-1zM3 110h1v1h-1zM9 110h1v1h-1zM40 110h1v1h-1zM14 111h2v1h-2zM39 111h1v1h-1zM9 112h2v1h-2zM14 112h1v1h-1zM16 112h1v1h-1zM28 112h1v1h-1zM34 112h1v1h-1zM38 112h1v1h-1zM3 113h1v1h-1zM12 113h1v1h-1zM30 113h1v1h-1z"/>
<path fill="#feeea5" d="M6 0h1v1h-1zM12 6h1v1h-1zM32 20h1v1h-1zM11 40h1v1h-1zM20 45h1v1h-1zM27 45h1v1h-1zM41 45h1v1h-1zM12 46h1v1h-1zM18 47h1v1h-1zM32 47h1v1h-1zM9 48h1v1h-1zM15 48h1v1h-1zM16 49h1v1h-1zM20 49h1v1h-1zM26 49h1v1h-1zM16 50h1v1h-1zM35 50h1v1h-1zM10 51h1v1h-1zM32 51h1v1h-1zM27 52h1v1h-1zM31 52h1v1h-1zM3 53h1v1h-1zM14 53h1v1h-1zM6 54h1v1h-1zM11 54h1v1h-1zM28 54h1v1h-1zM12 55h1v1h-1zM27 55h1v1h-1zM28 56h1v1h-1zM0 57h1v1h-1zM20 57h1v1h-1zM30 57h1v1h-1zM2 58h1v1h-1zM25 58h1v1h-1zM33 58h1v1h-1zM36 58h2v1h-2zM16 59h1v1h-1zM2 60h1v1h-1zM34 60h1v1h-1zM30 61h1v1h-1zM0 62h1v1h-1zM10 62h1v1h-1zM4 63h1v1h-1zM11 64h1v1h-1zM0 65h1v1h-1zM16 65h1v1h-1zM32 65h1v1h-1zM34 65h1v1h-1zM40 65h1v1h-1zM12 67h1v1h-1zM29 67h1v1h-1zM41 67h1v1h-1zM19 68h1v1h-1zM36 68h1v1h-1zM5 69h1v1h-1zM14 69h1v1h-1zM25 69h1v1h-1zM17 70h1v1h-1zM10 71h1v1h-1zM16 71h1v1h-1zM26 71h1v1h-1zM15 72h1v1h-1zM22 72h2v1h-2zM27 72h1v1h-1zM37 72h1v1h-1zM41 72h1v1h-1zM5 73h2v1h-2zM12 73h1v1h-1zM13 74h1v1h-1zM16 74h1v1h-1zM24 74h1v1h-1zM15 75h1v1h-1zM23 75h1v1h-1zM15 76h1v1h-1zM23 76h1v1h-1zM38 76h1v1h-1zM13 77h1v1h-1zM28 77h1v1h-1zM34 77h1v1h-1zM6 82h1v1h-1zM11 83h1v1h-1zM3 84h1v1h-1zM11 84h1v1h-1zM3 86h1v1h-1zM23 87h1v1h-1zM32 88h1v1h-1zM32 93h1v1h-1zM6 95h1v1h-1zM21 97h1v1h-1zM36 99h1v1h-1zM37 102h2v1h-2zM14 103h1v1h-1zM40 104h1v1h-1zM2 105h1v1h-1zM8 105h1v1h-1zM27 106h1v1h-1zM8 107h1v1h-1zM31 107h1v1h-1zM41 107h1v1h-1zM9 108h2v1h-2zM36 109h1v1h-1zM1 110h1v1h-1zM6 111h1v1h-1zM8 111h1v1h-1zM20 111h1v1h-1zM32 111h1v1h-1zM35 111h1v1h-1zM8 113h1v1h-1zM11 113h1v1h-1zM22 113h1v1h-1zM37 113h1v1h-1zM40 113h1v1h-1z"/>
<path fill="#feea9f" d="M31 12h1v1h-1zM1 17h1v1h-1zM0 40h1v1h-1zM4 40h1v1h-1zM13 41h1v1h-1zM37 41h1v1h-1zM41 42h1v1h-1zM11 45h1v1h-1zM13 45h1v1h-1zM35 45h2v1h-2zM11 47h2v1h-2zM27 47h1v1h-1zM40 47h1v1h-1zM19 48h1v1h-1zM40 48h2v1h-2zM25 50h1v1h-1zM29 50h1v1h-1zM11 51h1v1h-1zM18 51h1v1h-1zM5 52h1v1h-1zM8 52h1v1h-1zM11 52h1v1h-1zM35 52h1v1h-1zM29 54h1v1h-1zM35 54h1v1h-1zM8 55h1v1h-1zM36 56h1v1h-1zM26 57h1v1h-1zM28 57h1v1h-1zM1 58h1v1h-1zM31 62h1v1h-1zM15 64h2v1h-2zM17 65h1v1h-1zM29 65h1v1h-1zM7 66h1v1h-1zM5 67h1v1h-1zM21 67h1v1h-1zM21 68h1v1h-1zM36 69h1v1h-1zM24 72h1v1h-1zM36 72h1v1h-1zM21 73h1v1h-1zM4 74h1v1h-1zM6 74h1v1h-1zM35 74h1v1h-1zM24 75h1v1h-1zM7 76h1v1h-1zM16 76h1v1h-1zM24 76h1v1h-1zM12 77h1v1h-1zM4 79h1v1h-1zM5 83h1v1h-1zM4 85h2v1h-2zM16 85h1v1h-1zM5 87h1v1h-1zM6 88h1v1h-1zM38 88h1v1h-1zM25 95h1v1h-1zM6 96h1v1h-1zM1 99h1v1h-1zM26 99h1v1h-1zM34 99h1v1h-1zM20 100h2v1h-2zM2 101h1v1h-1zM19 101h1v1h-1zM5 102h2v1h-2zM21 102h1v1h-1zM30 103h1v1h-1zM4 104h1v1h-1zM19 104h1v1h-1zM1 105h1v1h-1zM34 105h1v1h-1zM36 105h1v1h-1zM9 106h1v1h-1zM23 106h1v1h-1zM39 107h1v1h-1zM1 109h1v1h-1zM33 109h1v1h-1zM6 110h1v1h-1zM2 111h1v1h-1zM25 111h1v1h-1zM3 112h1v1h-1zM22 112h1v1h-1zM40 112h1v1h-1zM1 113h1v1h-1z"/>
<path fill="#fee699" d="M9 17h1v1h-1zM9 18h1v1h-1zM15 45h1v1h-1zM22 46h1v1h-1zM30 46h1v1h-1zM14 47h1v1h-1zM23 47h1v1h-1zM25 47h1v1h-1zM31 47h1v1h-1zM11 48h2v1h-2zM28 48h1v1h-1zM35 48h1v1h-1zM11 49h1v1h-1zM27 50h1v1h-1zM31 50h1v1h-1zM13 51h1v1h-1zM17 58h1v1h-1zM24 58h1v1h-1zM38 61h1v1h-1zM13 62h1v1h-1zM41 65h1v1h-1zM35 66h1v1h-1zM31 68h1v1h-1zM3 74h1v1h-1zM16 75h1v1h-1zM24 77h1v1h-1zM4 82h1v1h-1zM0 83h1v1h-1zM1 84h2v1h-2zM4 84h1v1h-1zM29 85h1v1h-1zM2 86h1v1h-1zM1 92h1v1h-1zM6 92h1v1h-1zM1 93h1v1h-1zM26 93h1v1h-1zM5 94h1v1h-1zM2 98h1v1h-1zM3 101h1v1h-1zM0 103h1v1h-1zM16 103h1v1h-1zM2 104h1v1h-1zM3 107h1v1h-1zM13 108h1v1h-1zM15 108h1v1h-1zM22 108h1v1h-1zM31 108h1v1h-1zM4 109h1v1h-1zM28 109h1v1h-1zM20 110h1v1h-1zM30 110h1v1h-1zM36 110h1v1h-1zM0 111h1v1h-1zM18 112h1v1h-1zM5 114h1v1h-1zM14 114h1v1h-1zM31 114h1v1h-1z"/>
<path fill="#fee293" d="M5 37h1v1h-1zM16 47h2v1h-2zM32 48h1v1h-1zM13 49h1v1h-1zM15 49h1v1h-1zM40 49h1v1h-1zM27 51h1v1h-1zM17 52h1v1h-1zM13 64h1v1h-1zM25 64h1v1h-1zM24 69h1v1h-1zM23 71h1v1h-1zM27 71h1v1h-1zM25 73h1v1h-1zM21 76h1v1h-1zM36 76h1v1h-1zM35 77h1v1h-1zM2 85h1v1h-1zM4 86h1v1h-1zM1 88h2v1h-2zM5 88h1v1h-1zM3 91h1v1h-1zM2 92h1v1h-1zM1 95h1v1h-1zM4 95h1v1h-1zM0 98h2v1h-2zM6 98h1v1h-1zM0 99h1v1h-1zM5 99h1v1h-1zM36 102h1v1h-1zM1 103h1v1h-1zM4 103h2v1h-2zM5 107h2v1h-2zM5 108h1v1h-1zM11 108h1v1h-1zM17 110h1v1h-1zM31 112h1v1h-1z"/>
<path fill="#fedb8d" d="M19 47h1v1h-1zM26 47h1v1h-1zM37 47h1v1h-1zM21 48h1v1h-1zM26 48h1v1h-1zM33 49h1v1h-1zM41 49h1v1h-1zM9 50h1v1h-1zM12 50h1v1h-1zM14 54h1v1h-1zM33 55h1v1h-1zM33 56h1v1h-1zM35 59h1v1h-1zM24 70h1v1h-1zM33 73h1v1h-1zM11 75h1v1h-1zM23 77h1v1h-1zM4 83h1v1h-1zM0 84h1v1h-1zM2 90h1v1h-1zM5 90h1v1h-1zM4 91h1v1h-1zM2 94h1v1h-1zM1 96h1v1h-1zM1 97h1v1h-1zM2 99h2v1h-2zM22 102h1v1h-1zM3 103h1v1h-1zM1 104h1v1h-1zM3 104h1v1h-1zM24 104h1v1h-1zM1 106h1v1h-1zM31 110h1v1h-1zM0 113h1v1h-1z"/>
<path fill="#fed086" d="M34 50h1v1h-1zM13 54h1v1h-1zM13 55h1v1h-1zM38 58h1v1h-1zM34 62h1v1h-1zM3 83h1v1h-1zM0 87h1v1h-1zM2 87h1v1h-1zM3 88h1v1h-1zM0 89h1v1h-1zM6 90h1v1h-1zM3 92h1v1h-1zM0 93h1v1h-1zM2 93h1v1h-1zM6 94h1v1h-1zM0 95h1v1h-1zM0 97h1v1h-1zM6 97h1v1h-1zM3 98h1v1h-1zM4 99h1v1h-1zM0 102h1v1h-1zM2 103h1v1h-1zM5 104h1v1h-1zM29 109h1v1h-1zM1 111h1v1h-1zM8 112h1v1h-1z"/>
<path fill="#fdc67f" d="M13 52h1v1h-1zM13 53h1v1h-1zM33 53h1v1h-1zM33 54h1v1h-1zM7 81h1v1h-1zM4 87h1v1h-1zM4 88h1v1h-1zM4 89h1v1h-1zM0 90h1v1h-1zM0 91h1v1h-1zM5 93h1v1h-1zM2 95h1v1h-1zM0 96h1v1h-1zM4 98h1v1h-1zM3 100h1v1h-1zM15 106h1v1h-1zM3 111h1v1h-1zM1 112h1v1h-1z"/>
<path fill="#fdbc78" d="M13 56h1v1h-1zM2 89h1v1h-1zM1 90h1v1h-1zM3 90h1v1h-1zM6 93h1v1h-1zM4 94h1v1h-1zM3 96h1v1h-1zM5 98h1v1h-1zM23 101h1v1h-1zM2 109h1v1h-1z"/>
<path fill="#fdb171" d="M39 42h1v1h-1zM22 64h1v1h-1zM7 82h1v1h-1zM3 85h1v1h-1zM11 87h1v1h-1zM11 88h1v1h-1zM12 89h1v1h-1zM5 92h1v1h-1zM3 93h1v1h-1zM1 94h1v1h-1zM3 94h1v1h-1zM3 95h1v1h-1zM5 95h1v1h-1zM6 99h1v1h-1zM2 106h1v1h-1z"/>
<path fill="#fda76a" d="M12 87h1v1h-1zM0 88h1v1h-1zM12 88h1v1h-1zM1 89h1v1h-1zM5 89h2v1h-2zM2 91h1v1h-1zM5 91h1v1h-1zM5 96h1v1h-1zM5 97h1v1h-1z"/>
<path fill="#fc9d63" d="M7 80h1v1h-1zM3 89h1v1h-1zM1 91h1v1h-1zM0 92h1v1h-1zM4 92h1v1h-1zM4 93h1v1h-1zM0 94h1v1h-1zM0 112h1v1h-1z"/>
<path fill="#fc925c" d="M11 89h1v1h-1zM4 90h1v1h-1zM3 97h1v1h-1z"/>
<path fill="#fa8756" d="M4 96h1v1h-1zM2 97h1v1h-1zM4 97h1v1h-1z"/>
<path fill="#f57c50" d="M2 96h1v1h-1z"/>
<path fill="#de4130" d="M7 65h1v1h-1z"/>
</g>
<g transform="translate(153.30,38.80) scale(2.8538,3.1304)">
<path fill="#6695c5" d="M0 69h1v1h-1zM0 70h1v1h-1zM1 78h1v1h-1z"/>
<path fill="#709fca" d="M12 50h1v1h-1zM1 65h1v1h-1zM9 70h1v1h-1zM10 73h1v1h-1zM2 78h1v1h-1z"/>
<path fill="#79a8cf" d="M11 51h1v1h-1zM9 52h1v1h-1zM2 57h1v1h-1zM5 65h1v1h-1zM5 66h1v1h-1zM5 72h1v1h-1zM1 103h1v1h-1z"/>
<path fill="#83b1d4" d="M9 51h1v1h-1zM17 61h1v1h-1zM1 66h1v1h-1zM3 70h1v1h-1zM0 71h1v1h-1zM6 71h1v1h-1zM1 72h1v1h-1zM5 73h1v1h-1zM10 78h1v1h-1zM3 79h1v1h-1z"/>
<path fill="#8cbad9" d="M11 53h1v1h-1zM8 58h1v1h-1zM10 58h1v1h-1zM8 61h1v1h-1zM11 66h1v1h-1zM5 68h1v1h-1zM4 69h1v1h-1zM2 71h1v1h-1zM9 72h1v1h-1zM9 74h1v1h-1zM1 76h1v1h-1zM9 76h1v1h-1zM8 77h1v1h-1zM0 78h1v1h-1zM1 102h1v1h-1zM11 104h1v1h-1zM4 105h1v1h-1zM7 105h1v1h-1z"/>
<path fill="#96c2dd" d="M3 51h1v1h-1zM9 54h1v1h-1zM15 54h1v1h-1zM6 58h1v1h-1zM10 69h1v1h-1zM5 71h1v1h-1zM6 74h1v1h-1zM9 75h1v1h-1zM12 78h1v1h-1zM11 86h1v1h-1zM11 100h1v1h-1zM0 101h1v1h-1zM14 101h1v1h-1zM9 103h1v1h-1zM1 107h1v1h-1zM7 110h1v1h-1z"/>
<path fill="#a0c9e0" d="M17 52h1v1h-1zM8 54h1v1h-1zM18 54h1v1h-1zM6 56h1v1h-1zM5 57h1v1h-1zM4 58h1v1h-1zM22 62h1v1h-1zM10 66h1v1h-1zM12 66h1v1h-1zM6 67h1v1h-1zM2 68h1v1h-1zM7 68h1v1h-1zM9 68h1v1h-1zM2 69h1v1h-1zM1 70h1v1h-1zM4 70h1v1h-1zM11 70h1v1h-1zM4 71h1v1h-1zM8 71h1v1h-1zM8 72h1v1h-1zM2 73h1v1h-1zM0 77h1v1h-1zM2 77h1v1h-1zM10 77h1v1h-1zM14 77h1v1h-1zM11 78h1v1h-1zM5 79h1v1h-1zM7 79h1v1h-1zM15 79h1v1h-1zM3 91h1v1h-1zM16 95h1v1h-1zM5 101h1v1h-1zM2 102h1v1h-1zM6 102h1v1h-1zM8 102h1v1h-1zM2 103h1v1h-1zM10 107h1v1h-1zM13 107h1v1h-1zM9 108h1v1h-1zM6 111h1v1h-1zM21 111h1v1h-1zM19 112h1v1h-1zM9 113h1v1h-1zM5 114h1v1h-1z"/>
<path fill="#aacfe4" d="M18 9h2v1h-2zM21 19h1v1h-1zM25 28h1v1h-1zM7 47h1v1h-1zM16 48h1v1h-1zM0 49h1v1h-1zM16 49h1v1h-1zM3 50h1v1h-1zM9 50h1v1h-1zM18 51h1v1h-1zM5 52h1v1h-1zM7 52h1v1h-1zM15 52h1v1h-1zM14 54h1v1h-1zM3 56h1v1h-1zM10 57h1v1h-1zM20 58h1v1h-1zM18 59h1v1h-1zM3 66h1v1h-1zM11 67h1v1h-1zM0 68h1v1h-1zM2 70h1v1h-1zM7 70h1v1h-1zM10 72h1v1h-1zM7 73h1v1h-1zM9 73h1v1h-1zM1 75h1v1h-1zM11 75h1v1h-1zM7 76h2v1h-2zM8 78h1v1h-1zM24 82h1v1h-1zM17 86h1v1h-1zM2 88h1v1h-1zM9 88h1v1h-1zM11 88h1v1h-1zM9 90h1v1h-1zM1 93h1v1h-1zM14 94h1v1h-1zM8 98h1v1h-1zM17 98h1v1h-1zM7 100h2v1h-2zM6 101h1v1h-1zM15 101h1v1h-1zM3 103h1v1h-1zM4 104h1v1h-1zM7 104h1v1h-1zM17 105h1v1h-1zM6 108h1v1h-1zM5 109h1v1h-1zM6 110h1v1h-1zM7 113h1v1h-1z"/>
<path fill="#b4d6e8" d="M20 3h1v1h-1zM24 22h1v1h-1zM21 28h1v1h-1zM21 44h2v1h-2zM4 47h1v1h-1zM11 47h1v1h-1zM4 48h1v1h-1zM25 48h1v1h-1zM3 49h1v1h-1zM5 50h1v1h-1zM6 51h1v1h-1zM12 51h1v1h-1zM15 51h1v1h-1zM7 53h1v1h-1zM1 55h1v1h-1zM5 55h1v1h-1zM18 55h1v1h-1zM18 58h1v1h-1zM14 59h1v1h-1zM23 60h1v1h-1zM3 61h1v1h-1zM3 65h1v1h-1zM7 66h2v1h-2zM2 67h1v1h-1zM7 67h2v1h-2zM19 67h1v1h-1zM8 69h1v1h-1zM11 69h1v1h-1zM3 72h1v1h-1zM3 73h1v1h-1zM6 73h1v1h-1zM2 74h1v1h-1zM4 75h2v1h-2zM12 75h1v1h-1zM2 76h1v1h-1zM13 76h1v1h-1zM15 76h1v1h-1zM15 77h1v1h-1zM0 79h1v1h-1zM4 79h1v1h-1zM16 80h1v1h-1zM25 80h1v1h-1zM3 85h1v1h-1zM14 85h1v1h-1zM2 86h2v1h-2zM6 86h1v1h-1zM5 87h1v1h-1zM1 88h1v1h-1zM4 88h1v1h-1zM8 88h1v1h-1zM9 89h1v1h-1zM1 90h1v1h-1zM6 92h1v1h-1zM0 94h1v1h-1zM6 94h1v1h-1zM20 94h1v1h-1zM9 96h1v1h-1zM25 97h1v1h-1zM1 100h1v1h-1zM9 100h1v1h-1zM2 101h1v1h-1zM11 101h1v1h-1zM17 101h1v1h-1zM5 102h1v1h-1zM7 102h1v1h-1zM1 105h1v1h-1zM1 106h1v1h-1zM8 106h1v1h-1zM19 107h1v1h-1zM8 109h2v1h-2zM7 111h1v1h-1zM8 112h1v1h-1z"/>
<path fill="#bddceb" d="M16 3h1v1h-1zM21 6h1v1h-1zM21 16h1v1h-1zM23 18h1v1h-1zM23 20h1v1h-1zM10 44h1v1h-1zM23 44h1v1h-1zM25 46h1v1h-1zM7 48h1v1h-1zM11 48h1v1h-1zM15 48h1v1h-1zM22 48h1v1h-1zM1 49h1v1h-1zM5 49h1v1h-1zM12 49h1v1h-1zM11 50h1v1h-1zM17 50h1v1h-1zM1 51h1v1h-1zM14 51h1v1h-1zM1 52h1v1h-1zM8 52h1v1h-1zM18 52h1v1h-1zM10 54h1v1h-1zM0 55h1v1h-1zM3 55h1v1h-1zM16 55h2v1h-2zM19 55h1v1h-1zM8 56h1v1h-1zM11 56h1v1h-1zM3 58h1v1h-1zM14 58h1v1h-1zM0 59h1v1h-1zM8 59h1v1h-1zM10 59h1v1h-1zM4 61h1v1h-1zM9 62h1v1h-1zM12 63h1v1h-1zM19 64h1v1h-1zM2 65h1v1h-1zM0 66h1v1h-1zM13 67h1v1h-1zM3 68h1v1h-1zM3 69h1v1h-1zM3 71h1v1h-1zM12 71h1v1h-1zM4 72h1v1h-1zM8 73h1v1h-1zM0 74h2v1h-2zM4 74h1v1h-1zM7 74h2v1h-2zM3 75h1v1h-1zM7 75h1v1h-1zM0 76h1v1h-1zM6 76h1v1h-1zM11 76h1v1h-1zM1 77h1v1h-1zM3 78h1v1h-1zM6 78h1v1h-1zM2 79h1v1h-1zM10 79h1v1h-1zM3 82h1v1h-1zM5 83h1v1h-1zM0 85h1v1h-1zM10 85h1v1h-1zM21 85h1v1h-1zM9 87h1v1h-1zM15 87h1v1h-1zM2 89h1v1h-1zM8 89h1v1h-1zM0 90h1v1h-1zM11 90h1v1h-1zM25 91h1v1h-1zM3 92h1v1h-1zM13 96h1v1h-1zM0 99h1v1h-1zM13 99h2v1h-2zM16 100h1v1h-1zM18 100h1v1h-1zM13 101h1v1h-1zM4 102h1v1h-1zM16 102h1v1h-1zM10 103h1v1h-1zM16 103h1v1h-1zM1 104h1v1h-1zM3 104h1v1h-1zM6 104h1v1h-1zM8 104h1v1h-1zM6 105h1v1h-1zM15 106h1v1h-1zM4 107h1v1h-1zM11 107h1v1h-1zM4 109h1v1h-1zM6 109h1v1h-1zM11 109h1v1h-1zM5 111h1v1h-1zM4 112h1v1h-1zM13 112h1v1h-1zM6 114h3v1h-3z"/>
<path fill="#c7e3ef" d="M22 8h1v1h-1zM23 11h1v1h-1zM18 16h1v1h-1zM20 18h1v1h-1zM14 24h1v1h-1zM11 26h1v1h-1zM18 37h1v1h-1zM24 45h1v1h-1zM24 46h1v1h-1zM18 47h1v1h-1zM24 47h1v1h-1zM11 49h1v1h-1zM17 49h1v1h-1zM21 49h1v1h-1zM6 50h3v1h-3zM0 52h1v1h-1zM11 52h1v1h-1zM3 53h1v1h-1zM14 53h2v1h-2zM19 53h1v1h-1zM4 54h1v1h-1zM17 54h1v1h-1zM9 55h1v1h-1zM11 55h1v1h-1zM13 55h1v1h-1zM0 56h1v1h-1zM4 56h1v1h-1zM9 56h2v1h-2zM13 56h3v1h-3zM4 57h1v1h-1zM6 57h2v1h-2zM19 57h1v1h-1zM1 58h1v1h-1zM5 58h1v1h-1zM11 58h1v1h-1zM11 59h1v1h-1zM17 59h1v1h-1zM23 59h1v1h-1zM3 60h1v1h-1zM7 61h1v1h-1zM11 61h3v1h-3zM15 61h1v1h-1zM18 61h2v1h-2zM23 61h1v1h-1zM14 62h2v1h-2zM10 63h1v1h-1zM24 63h1v1h-1zM1 64h1v1h-1zM23 64h1v1h-1zM25 64h1v1h-1zM2 66h1v1h-1zM6 66h1v1h-1zM0 67h1v1h-1zM9 67h1v1h-1zM4 68h1v1h-1zM6 68h1v1h-1zM10 68h1v1h-1zM6 69h2v1h-2zM9 69h1v1h-1zM5 70h1v1h-1zM7 71h1v1h-1zM2 72h1v1h-1zM11 72h1v1h-1zM1 73h1v1h-1zM10 75h1v1h-1zM3 76h3v1h-3zM12 76h1v1h-1zM3 77h1v1h-1zM5 77h1v1h-1zM7 77h1v1h-1zM4 78h2v1h-2zM13 78h1v1h-1zM6 79h1v1h-1zM9 79h1v1h-1zM14 79h1v1h-1zM13 80h1v1h-1zM5 81h1v1h-1zM25 81h1v1h-1zM2 83h1v1h-1zM15 83h1v1h-1zM19 83h1v1h-1zM1 84h1v1h-1zM8 84h1v1h-1zM15 84h1v1h-1zM17 85h1v1h-1zM2 87h1v1h-1zM7 88h1v1h-1zM5 89h1v1h-1zM10 89h1v1h-1zM13 89h1v1h-1zM8 90h1v1h-1zM14 92h1v1h-1zM15 93h1v1h-1zM24 93h1v1h-1zM2 94h1v1h-1zM8 94h1v1h-1zM1 95h1v1h-1zM6 95h1v1h-1zM1 96h1v1h-1zM24 96h1v1h-1zM2 97h1v1h-1zM10 98h1v1h-1zM11 99h1v1h-1zM4 100h1v1h-1zM10 100h1v1h-1zM12 100h1v1h-1zM15 100h1v1h-1zM9 101h1v1h-1zM19 101h1v1h-1zM10 102h2v1h-2zM17 102h1v1h-1zM8 103h1v1h-1zM11 103h1v1h-1zM19 103h1v1h-1zM9 104h1v1h-1zM12 104h1v1h-1zM2 105h1v1h-1zM8 105h3v1h-3zM6 106h1v1h-1zM11 106h1v1h-1zM19 106h1v1h-1zM3 107h1v1h-1zM7 108h1v1h-1zM18 108h1v1h-1zM3 110h1v1h-1zM5 110h1v1h-1zM11 110h1v1h-1zM15 110h1v1h-1zM11 111h1v1h-1zM9 112h1v1h-1zM6 113h1v1h-1zM11 114h1v1h-1z"/>
<path fill="#d1e9f3" d="M20 1h1v1h-1zM21 3h1v1h-1zM25 3h1v1h-1zM18 5h1v1h-1zM22 6h1v1h-1zM20 9h1v1h-1zM25 11h1v1h-1zM20 13h1v1h-1zM23 16h1v1h-1zM22 17h1v1h-1zM19 18h1v1h-1zM17 19h1v1h-1zM24 19h1v1h-1zM17 21h2v1h-2zM21 25h1v1h-1zM17 27h1v1h-1zM25 29h1v1h-1zM12 37h1v1h-1zM1 44h1v1h-1zM16 46h1v1h-1zM9 47h1v1h-1zM19 47h1v1h-1zM8 48h1v1h-1zM21 48h1v1h-1zM2 49h1v1h-1zM13 49h1v1h-1zM4 50h1v1h-1zM10 50h1v1h-1zM15 50h1v1h-1zM16 51h1v1h-1zM19 51h1v1h-1zM6 52h1v1h-1zM8 53h1v1h-1zM10 53h1v1h-1zM12 53h1v1h-1zM1 54h1v1h-1zM5 54h1v1h-1zM12 55h1v1h-1zM14 55h1v1h-1zM5 56h1v1h-1zM12 56h1v1h-1zM25 57h1v1h-1zM9 58h1v1h-1zM5 59h1v1h-1zM4 60h1v1h-1zM6 60h1v1h-1zM13 60h1v1h-1zM22 60h1v1h-1zM10 62h1v1h-1zM18 62h2v1h-2zM23 62h1v1h-1zM21 63h1v1h-1zM2 64h1v1h-1zM8 64h1v1h-1zM6 65h1v1h-1zM8 65h1v1h-1zM23 65h1v1h-1zM4 66h1v1h-1zM9 66h1v1h-1zM3 67h1v1h-1zM10 67h1v1h-1zM8 68h1v1h-1zM1 69h1v1h-1zM5 69h1v1h-1zM8 70h1v1h-1zM10 70h1v1h-1zM9 71h2v1h-2zM0 72h1v1h-1zM10 74h1v1h-1zM12 74h1v1h-1zM16 74h1v1h-1zM2 75h1v1h-1zM6 75h1v1h-1zM16 76h1v1h-1zM9 78h1v1h-1zM14 78h2v1h-2zM16 79h1v1h-1zM10 81h1v1h-1zM7 83h1v1h-1zM4 84h1v1h-1zM2 85h1v1h-1zM13 85h1v1h-1zM20 85h1v1h-1zM14 86h1v1h-1zM0 87h1v1h-1zM11 87h1v1h-1zM3 88h1v1h-1zM5 88h1v1h-1zM6 89h1v1h-1zM3 90h1v1h-1zM15 90h1v1h-1zM20 90h1v1h-1zM6 91h1v1h-1zM8 91h1v1h-1zM11 91h1v1h-1zM18 91h1v1h-1zM8 92h1v1h-1zM2 93h1v1h-1zM21 93h1v1h-1zM11 94h2v1h-2zM10 95h1v1h-1zM7 96h1v1h-1zM4 97h1v1h-1zM6 97h1v1h-1zM9 97h1v1h-1zM14 97h1v1h-1zM5 99h1v1h-1zM7 99h3v1h-3zM17 99h1v1h-1zM3 100h1v1h-1zM5 100h1v1h-1zM14 100h1v1h-1zM10 101h1v1h-1zM12 101h1v1h-1zM16 101h1v1h-1zM18 101h1v1h-1zM19 102h1v1h-1zM0 103h1v1h-1zM5 103h1v1h-1zM7 103h1v1h-1zM17 103h1v1h-1zM14 104h1v1h-1zM16 104h2v1h-2zM13 105h1v1h-1zM15 105h1v1h-1zM18 105h1v1h-1zM7 106h1v1h-1zM12 106h1v1h-1zM14 106h1v1h-1zM17 106h1v1h-1zM20 106h1v1h-1zM5 107h2v1h-2zM9 107h1v1h-1zM18 107h1v1h-1zM5 108h1v1h-1zM8 108h1v1h-1zM11 108h1v1h-1zM14 108h1v1h-1zM7 109h1v1h-1zM12 109h1v1h-1zM18 109h1v1h-1zM22 109h1v1h-1zM10 110h1v1h-1zM12 110h1v1h-1zM10 111h1v1h-1zM10 112h2v1h-2zM10 114h1v1h-1zM15 114h1v1h-1z"/>
<path fill="#dbf0f6" d="M20 0h2v1h-2zM22 1h1v1h-1zM21 2h1v1h-1zM19 3h1v1h-1zM24 5h1v1h-1zM23 7h1v1h-1zM21 8h1v1h-1zM17 9h1v1h-1zM22 9h1v1h-1zM18 10h2v1h-2zM17 16h1v1h-1zM20 16h1v1h-1zM20 17h1v1h-1zM22 18h1v1h-1zM21 20h2v1h-2zM25 20h1v1h-1zM19 24h1v1h-1zM25 32h1v1h-1zM17 35h1v1h-1zM16 44h1v1h-1zM7 45h1v1h-1zM2 46h1v1h-1zM6 46h1v1h-1zM23 46h1v1h-1zM22 47h1v1h-1zM3 48h1v1h-1zM10 48h1v1h-1zM14 48h1v1h-1zM20 48h1v1h-1zM8 49h1v1h-1zM15 49h1v1h-1zM18 49h2v1h-2zM0 50h1v1h-1zM16 50h1v1h-1zM4 51h2v1h-2zM7 51h1v1h-1zM10 51h1v1h-1zM1 53h1v1h-1zM4 53h1v1h-1zM6 53h1v1h-1zM9 53h1v1h-1zM12 54h1v1h-1zM4 55h1v1h-1zM6 55h1v1h-1zM10 55h1v1h-1zM15 55h1v1h-1zM18 56h1v1h-1zM1 57h1v1h-1zM3 57h1v1h-1zM9 57h1v1h-1zM11 57h1v1h-1zM16 57h1v1h-1zM13 58h1v1h-1zM15 58h2v1h-2zM25 58h1v1h-1zM1 59h1v1h-1zM12 59h2v1h-2zM19 59h1v1h-1zM8 60h2v1h-2zM12 60h1v1h-1zM14 60h1v1h-1zM17 60h1v1h-1zM1 62h1v1h-1zM3 64h1v1h-1zM0 65h1v1h-1zM7 65h1v1h-1zM11 65h1v1h-1zM16 65h1v1h-1zM1 67h1v1h-1zM5 67h1v1h-1zM12 67h1v1h-1zM11 68h1v1h-1zM12 69h2v1h-2zM12 70h1v1h-1zM7 72h1v1h-1zM12 72h1v1h-1zM0 73h1v1h-1zM12 73h1v1h-1zM3 74h1v1h-1zM0 75h1v1h-1zM13 75h2v1h-2zM4 77h1v1h-1zM11 77h1v1h-1zM13 77h1v1h-1zM7 78h1v1h-1zM16 78h2v1h-2zM19 78h1v1h-1zM1 79h1v1h-1zM11 79h1v1h-1zM13 79h1v1h-1zM7 80h2v1h-2zM10 80h1v1h-1zM15 80h1v1h-1zM21 80h1v1h-1zM0 81h1v1h-1zM4 82h1v1h-1zM10 82h1v1h-1zM12 82h1v1h-1zM16 82h1v1h-1zM11 83h1v1h-1zM25 83h1v1h-1zM0 84h1v1h-1zM3 84h1v1h-1zM11 84h1v1h-1zM21 84h1v1h-1zM4 85h2v1h-2zM8 85h2v1h-2zM16 85h1v1h-1zM19 85h1v1h-1zM0 86h1v1h-1zM8 86h1v1h-1zM10 86h1v1h-1zM12 86h1v1h-1zM4 87h1v1h-1zM13 87h1v1h-1zM22 88h1v1h-1zM17 89h1v1h-1zM21 89h1v1h-1zM5 90h2v1h-2zM10 90h1v1h-1zM13 90h1v1h-1zM1 91h1v1h-1zM14 91h1v1h-1zM1 92h1v1h-1zM3 93h1v1h-1zM13 94h1v1h-1zM18 94h1v1h-1zM22 94h1v1h-1zM13 95h1v1h-1zM3 96h1v1h-1zM6 96h1v1h-1zM21 96h1v1h-1zM0 97h1v1h-1zM5 97h1v1h-1zM13 97h1v1h-1zM16 97h1v1h-1zM18 97h1v1h-1zM0 98h1v1h-1zM3 98h1v1h-1zM3 99h1v1h-1zM16 99h1v1h-1zM19 99h1v1h-1zM12 102h1v1h-1zM4 103h1v1h-1zM6 103h1v1h-1zM13 103h1v1h-1zM15 103h1v1h-1zM18 103h1v1h-1zM5 104h1v1h-1zM13 104h1v1h-1zM3 105h1v1h-1zM11 105h2v1h-2zM14 105h1v1h-1zM0 106h1v1h-1zM3 106h2v1h-2zM18 106h1v1h-1zM0 107h1v1h-1zM2 107h1v1h-1zM7 107h1v1h-1zM16 107h2v1h-2zM0 108h1v1h-1zM12 108h1v1h-1zM16 108h2v1h-2zM22 108h1v1h-1zM0 109h3v1h-3zM13 110h1v1h-1zM3 111h1v1h-1zM9 111h1v1h-1zM13 111h1v1h-1zM1 113h1v1h-1zM5 113h1v1h-1zM8 113h1v1h-1zM2 114h3v1h-3zM9 114h1v1h-1z"/>
<path fill="#e2f4f4" d="M24 1h1v1h-1zM18 2h1v1h-1zM17 3h1v1h-1zM22 4h1v1h-1zM18 7h1v1h-1zM20 8h1v1h-1zM21 9h1v1h-1zM20 10h1v1h-1zM23 10h1v1h-1zM25 10h1v1h-1zM19 11h1v1h-1zM19 13h1v1h-1zM21 13h1v1h-1zM22 14h1v1h-1zM19 16h1v1h-1zM22 16h1v1h-1zM10 17h1v1h-1zM18 17h1v1h-1zM18 18h1v1h-1zM12 19h1v1h-1zM20 19h1v1h-1zM22 19h1v1h-1zM20 21h1v1h-1zM22 21h1v1h-1zM19 22h1v1h-1zM23 22h1v1h-1zM25 23h1v1h-1zM22 24h1v1h-1zM22 30h1v1h-1zM17 31h1v1h-1zM23 34h1v1h-1zM20 35h1v1h-1zM18 36h2v1h-2zM21 39h1v1h-1zM4 43h1v1h-1zM11 44h1v1h-1zM24 44h1v1h-1zM19 45h1v1h-1zM0 46h1v1h-1zM4 46h1v1h-1zM12 46h1v1h-1zM20 46h1v1h-1zM2 47h1v1h-1zM6 47h1v1h-1zM17 47h1v1h-1zM23 47h1v1h-1zM1 48h1v1h-1zM5 48h1v1h-1zM9 48h1v1h-1zM17 48h1v1h-1zM4 49h1v1h-1zM25 49h1v1h-1zM2 50h1v1h-1zM23 50h1v1h-1zM13 52h1v1h-1zM0 53h1v1h-1zM5 53h1v1h-1zM16 53h2v1h-2zM11 54h1v1h-1zM2 55h1v1h-1zM8 55h1v1h-1zM25 55h1v1h-1zM1 56h1v1h-1zM7 56h1v1h-1zM16 56h1v1h-1zM20 56h1v1h-1zM12 57h1v1h-1zM17 57h1v1h-1zM17 58h1v1h-1zM3 59h1v1h-1zM7 59h1v1h-1zM9 59h1v1h-1zM20 59h1v1h-1zM1 60h2v1h-2zM15 60h1v1h-1zM10 61h1v1h-1zM14 61h1v1h-1zM13 62h1v1h-1zM17 62h1v1h-1zM0 63h1v1h-1zM9 63h1v1h-1zM18 63h1v1h-1zM22 63h1v1h-1zM10 64h1v1h-1zM18 64h1v1h-1zM4 65h1v1h-1zM18 65h1v1h-1zM13 66h1v1h-1zM23 66h1v1h-1zM4 67h1v1h-1zM1 68h1v1h-1zM22 68h1v1h-1zM6 70h1v1h-1zM1 71h1v1h-1zM11 71h1v1h-1zM4 73h1v1h-1zM5 74h1v1h-1zM15 74h1v1h-1zM16 75h1v1h-1zM19 75h1v1h-1zM6 77h1v1h-1zM9 77h1v1h-1zM24 78h2v1h-2zM8 79h1v1h-1zM17 79h1v1h-1zM0 80h1v1h-1zM4 80h1v1h-1zM14 80h1v1h-1zM24 80h1v1h-1zM12 81h1v1h-1zM19 81h1v1h-1zM24 81h1v1h-1zM19 82h1v1h-1zM1 83h1v1h-1zM10 83h1v1h-1zM22 83h1v1h-1zM6 84h1v1h-1zM10 84h1v1h-1zM13 84h1v1h-1zM19 84h1v1h-1zM6 85h1v1h-1zM12 85h1v1h-1zM25 85h1v1h-1zM19 86h1v1h-1zM25 86h1v1h-1zM7 87h1v1h-1zM10 87h1v1h-1zM22 87h1v1h-1zM23 88h1v1h-1zM0 89h1v1h-1zM3 89h2v1h-2zM7 89h1v1h-1zM15 89h1v1h-1zM19 89h1v1h-1zM23 89h1v1h-1zM14 90h1v1h-1zM23 90h1v1h-1zM2 91h1v1h-1zM4 91h1v1h-1zM10 91h1v1h-1zM0 92h1v1h-1zM2 92h1v1h-1zM10 92h1v1h-1zM12 92h1v1h-1zM0 93h1v1h-1zM4 93h2v1h-2zM8 93h1v1h-1zM16 93h1v1h-1zM1 94h1v1h-1zM3 94h1v1h-1zM7 94h1v1h-1zM16 94h1v1h-1zM21 94h1v1h-1zM3 95h1v1h-1zM11 95h1v1h-1zM0 96h1v1h-1zM10 96h1v1h-1zM12 96h1v1h-1zM18 96h1v1h-1zM1 97h1v1h-1zM1 98h1v1h-1zM11 98h1v1h-1zM18 98h1v1h-1zM20 98h1v1h-1zM22 98h1v1h-1zM25 98h1v1h-1zM10 99h1v1h-1zM17 100h1v1h-1zM3 101h2v1h-2zM20 101h1v1h-1zM3 102h1v1h-1zM13 102h2v1h-2zM18 102h1v1h-1zM10 104h1v1h-1zM18 104h2v1h-2zM0 105h1v1h-1zM19 105h1v1h-1zM2 106h1v1h-1zM16 106h1v1h-1zM8 107h1v1h-1zM1 108h3v1h-3zM13 109h1v1h-1zM9 110h1v1h-1zM2 111h1v1h-1zM16 111h1v1h-1zM3 112h1v1h-1zM5 112h1v1h-1zM7 112h1v1h-1zM0 113h1v1h-1zM3 113h1v1h-1zM11 113h2v1h-2z"/>
<path fill="#e6f5ed" d="M19 1h1v1h-1zM17 4h1v1h-1zM19 4h1v1h-1zM25 4h1v1h-1zM19 5h1v1h-1zM18 6h2v1h-2zM21 7h1v1h-1zM21 11h1v1h-1zM23 12h2v1h-2zM19 14h1v1h-1zM23 14h1v1h-1zM11 19h1v1h-1zM20 20h1v1h-1zM16 21h1v1h-1zM23 24h1v1h-1zM8 25h1v1h-1zM23 25h1v1h-1zM17 29h1v1h-1zM16 30h1v1h-1zM19 30h2v1h-2zM24 30h1v1h-1zM24 31h1v1h-1zM19 32h1v1h-1zM2 43h1v1h-1zM18 43h1v1h-1zM17 44h1v1h-1zM19 44h1v1h-1zM4 45h1v1h-1zM15 45h1v1h-1zM18 45h1v1h-1zM21 45h1v1h-1zM5 46h1v1h-1zM14 46h1v1h-1zM0 47h1v1h-1zM10 47h1v1h-1zM16 47h1v1h-1zM0 48h1v1h-1zM19 48h1v1h-1zM14 49h1v1h-1zM2 53h1v1h-1zM6 54h1v1h-1zM19 54h1v1h-1zM20 55h1v1h-1zM8 57h1v1h-1zM14 57h2v1h-2zM0 58h1v1h-1zM7 58h1v1h-1zM6 59h1v1h-1zM16 59h1v1h-1zM18 60h1v1h-1zM0 61h2v1h-2zM16 61h1v1h-1zM20 61h2v1h-2zM0 62h1v1h-1zM12 62h1v1h-1zM5 63h1v1h-1zM12 64h1v1h-1zM16 64h1v1h-1zM9 65h2v1h-2zM20 65h1v1h-1zM24 67h1v1h-1zM12 68h1v1h-1zM14 69h1v1h-1zM15 70h1v1h-1zM6 72h1v1h-1zM17 73h1v1h-1zM17 75h1v1h-1zM10 76h1v1h-1zM12 79h1v1h-1zM21 81h1v1h-1zM23 82h1v1h-1zM3 83h1v1h-1zM12 83h1v1h-1zM14 83h1v1h-1zM17 83h1v1h-1zM14 84h1v1h-1zM23 85h1v1h-1zM4 86h1v1h-1zM15 86h1v1h-1zM17 87h1v1h-1zM6 88h1v1h-1zM7 90h1v1h-1zM12 90h1v1h-1zM7 91h1v1h-1zM20 91h1v1h-1zM11 92h1v1h-1zM19 92h1v1h-1zM11 93h1v1h-1zM13 93h1v1h-1zM19 94h1v1h-1zM24 94h1v1h-1zM12 95h1v1h-1zM15 95h1v1h-1zM4 96h1v1h-1zM15 96h1v1h-1zM23 96h1v1h-1zM23 97h1v1h-1zM7 98h1v1h-1zM1 99h2v1h-2zM4 99h1v1h-1zM12 99h1v1h-1zM15 99h1v1h-1zM1 101h1v1h-1zM15 102h1v1h-1zM23 102h1v1h-1zM23 103h1v1h-1zM0 104h1v1h-1zM22 105h1v1h-1zM15 108h1v1h-1zM14 109h1v1h-1zM17 109h1v1h-1zM16 110h1v1h-1zM8 111h1v1h-1zM12 111h1v1h-1zM15 111h1v1h-1zM25 111h1v1h-1zM6 112h1v1h-1zM16 112h2v1h-2zM19 113h1v1h-1zM12 114h1v1h-1z"/>
<path fill="#eaf7e6" d="M18 0h1v1h-1zM22 3h1v1h-1zM23 4h1v1h-1zM22 5h1v1h-1zM19 7h1v1h-1zM14 9h1v1h-1zM20 11h1v1h-1zM24 13h1v1h-1zM24 14h1v1h-1zM19 15h2v1h-2zM16 19h1v1h-1zM21 22h1v1h-1zM17 23h1v1h-1zM20 23h1v1h-1zM24 26h1v1h-1zM23 29h1v1h-1zM17 37h1v1h-1zM21 38h1v1h-1zM8 45h1v1h-1zM8 47h1v1h-1zM13 47h1v1h-1zM9 49h1v1h-1zM14 50h1v1h-1zM12 52h1v1h-1zM13 54h1v1h-1zM16 54h1v1h-1zM23 56h1v1h-1zM21 58h1v1h-1zM4 59h1v1h-1zM22 59h1v1h-1zM24 59h1v1h-1zM16 60h1v1h-1zM5 61h1v1h-1zM9 61h1v1h-1zM13 63h1v1h-1zM23 63h1v1h-1zM9 64h1v1h-1zM13 64h1v1h-1zM14 65h1v1h-1zM25 65h1v1h-1zM15 67h1v1h-1zM15 68h1v1h-1zM20 68h2v1h-2zM22 69h1v1h-1zM13 70h1v1h-1zM15 73h1v1h-1zM22 76h1v1h-1zM17 77h1v1h-1zM21 79h1v1h-1zM5 80h1v1h-1zM22 80h1v1h-1zM4 81h1v1h-1zM8 81h1v1h-1zM14 81h1v1h-1zM22 81h2v1h-2zM7 82h1v1h-1zM20 82h1v1h-1zM4 83h1v1h-1zM18 83h1v1h-1zM2 84h1v1h-1zM7 84h1v1h-1zM23 84h1v1h-1zM1 86h1v1h-1zM17 88h1v1h-1zM19 88h1v1h-1zM1 89h1v1h-1zM25 89h1v1h-1zM0 91h1v1h-1zM9 91h1v1h-1zM21 91h1v1h-1zM24 91h1v1h-1zM24 92h1v1h-1zM15 94h1v1h-1zM18 95h1v1h-1zM20 95h1v1h-1zM24 95h1v1h-1zM8 96h1v1h-1zM11 96h1v1h-1zM17 96h1v1h-1zM11 97h2v1h-2zM15 97h1v1h-1zM9 98h1v1h-1zM14 98h1v1h-1zM16 98h1v1h-1zM6 99h1v1h-1zM18 99h1v1h-1zM8 101h1v1h-1zM2 104h1v1h-1zM15 104h1v1h-1zM5 106h1v1h-1zM13 106h1v1h-1zM25 107h1v1h-1zM4 108h1v1h-1zM10 108h1v1h-1zM3 109h1v1h-1zM4 110h1v1h-1zM14 110h1v1h-1zM25 110h1v1h-1zM0 111h1v1h-1zM17 111h1v1h-1zM1 112h1v1h-1zM12 112h1v1h-1zM21 112h1v1h-1zM16 113h1v1h-1zM23 114h1v1h-1z"/>
<path fill="#eef8df" d="M19 0h1v1h-1zM0 1h1v1h-1zM17 1h1v1h-1zM18 3h1v1h-1zM20 6h1v1h-1zM25 6h1v1h-1zM20 12h1v1h-1zM22 13h1v1h-1zM16 16h1v1h-1zM22 22h1v1h-1zM16 26h1v1h-1zM23 27h1v1h-1zM10 29h1v1h-1zM16 32h1v1h-1zM22 35h1v1h-1zM6 43h1v1h-1zM22 43h1v1h-1zM4 44h1v1h-1zM25 44h1v1h-1zM11 45h1v1h-1zM22 45h1v1h-1zM7 46h1v1h-1zM12 47h1v1h-1zM14 47h1v1h-1zM12 48h1v1h-1zM23 48h2v1h-2zM7 49h1v1h-1zM10 49h1v1h-1zM8 51h1v1h-1zM10 52h1v1h-1zM0 54h1v1h-1zM25 54h1v1h-1zM7 55h1v1h-1zM0 57h1v1h-1zM19 58h1v1h-1zM22 58h1v1h-1zM15 59h1v1h-1zM25 59h1v1h-1zM0 60h1v1h-1zM10 60h1v1h-1zM20 62h1v1h-1zM24 64h1v1h-1zM12 65h1v1h-1zM22 67h1v1h-1zM17 68h1v1h-1zM16 71h1v1h-1zM17 72h1v1h-1zM12 77h1v1h-1zM22 78h1v1h-1zM12 80h1v1h-1zM14 82h1v1h-1zM6 83h1v1h-1zM16 83h1v1h-1zM12 84h1v1h-1zM17 84h1v1h-1zM11 85h1v1h-1zM16 86h1v1h-1zM24 86h1v1h-1zM8 87h1v1h-1zM10 88h1v1h-1zM12 88h2v1h-2zM14 89h1v1h-1zM20 89h1v1h-1zM19 90h1v1h-1zM10 93h1v1h-1zM17 93h1v1h-1zM4 94h1v1h-1zM0 95h1v1h-1zM5 95h1v1h-1zM20 96h1v1h-1zM20 99h1v1h-1zM25 100h1v1h-1zM0 102h1v1h-1zM14 103h1v1h-1zM20 103h1v1h-1zM20 104h1v1h-1zM10 106h1v1h-1zM15 107h1v1h-1zM20 108h1v1h-1zM8 110h1v1h-1zM17 110h1v1h-1zM18 111h1v1h-1zM22 111h1v1h-1zM20 112h1v1h-1zM23 112h1v1h-1z"/>
<path fill="#f1fad8" d="M7 0h1v1h-1zM24 0h1v1h-1zM16 1h1v1h-1zM21 4h1v1h-1zM20 5h1v1h-1zM25 5h1v1h-1zM25 8h1v1h-1zM21 10h1v1h-1zM25 19h1v1h-1zM23 21h1v1h-1zM15 23h1v1h-1zM17 24h1v1h-1zM11 25h1v1h-1zM22 25h1v1h-1zM25 25h1v1h-1zM18 27h1v1h-1zM21 27h1v1h-1zM20 28h1v1h-1zM22 28h1v1h-1zM22 31h1v1h-1zM20 32h1v1h-1zM24 33h1v1h-1zM17 34h1v1h-1zM22 34h1v1h-1zM24 34h1v1h-1zM18 38h1v1h-1zM19 39h1v1h-1zM19 43h1v1h-1zM18 44h1v1h-1zM2 45h1v1h-1zM13 46h1v1h-1zM18 48h1v1h-1zM22 49h1v1h-1zM0 51h1v1h-1zM23 51h1v1h-1zM3 52h1v1h-1zM16 52h1v1h-1zM18 53h1v1h-1zM2 56h1v1h-1zM20 57h1v1h-1zM25 60h1v1h-1zM3 62h1v1h-1zM3 63h1v1h-1zM19 63h2v1h-2zM19 66h1v1h-1zM25 66h1v1h-1zM17 67h1v1h-1zM13 68h2v1h-2zM23 68h1v1h-1zM15 71h1v1h-1zM11 73h1v1h-1zM13 74h2v1h-2zM18 74h1v1h-1zM8 75h1v1h-1zM19 79h1v1h-1zM3 80h1v1h-1zM20 81h1v1h-1zM8 82h1v1h-1zM15 82h1v1h-1zM5 84h1v1h-1zM5 86h1v1h-1zM7 86h1v1h-1zM9 86h1v1h-1zM13 86h1v1h-1zM21 86h1v1h-1zM12 87h1v1h-1zM14 87h1v1h-1zM0 88h1v1h-1zM20 88h1v1h-1zM11 89h1v1h-1zM22 90h1v1h-1zM15 91h1v1h-1zM15 92h1v1h-1zM21 92h1v1h-1zM23 92h1v1h-1zM20 93h1v1h-1zM25 93h1v1h-1zM5 94h1v1h-1zM19 95h1v1h-1zM25 95h1v1h-1zM8 97h1v1h-1zM20 97h1v1h-1zM13 98h1v1h-1zM21 98h1v1h-1zM13 100h1v1h-1zM9 102h1v1h-1zM12 103h1v1h-1zM5 105h1v1h-1zM20 107h1v1h-1zM22 107h1v1h-1zM13 108h1v1h-1zM2 110h1v1h-1zM4 111h1v1h-1zM15 112h1v1h-1zM18 112h1v1h-1zM17 114h1v1h-1zM19 114h1v1h-1zM22 114h1v1h-1z"/>
<path fill="#f5fbd1" d="M18 1h1v1h-1zM21 1h1v1h-1zM15 2h1v1h-1zM19 2h2v1h-2zM23 3h1v1h-1zM18 4h1v1h-1zM21 5h1v1h-1zM15 7h1v1h-1zM24 10h1v1h-1zM18 12h1v1h-1zM23 13h1v1h-1zM25 13h1v1h-1zM21 14h1v1h-1zM18 15h1v1h-1zM22 15h1v1h-1zM25 15h1v1h-1zM19 17h1v1h-1zM23 17h1v1h-1zM25 17h1v1h-1zM24 18h1v1h-1zM23 19h1v1h-1zM22 23h1v1h-1zM18 26h2v1h-2zM24 29h1v1h-1zM16 31h1v1h-1zM18 31h1v1h-1zM21 33h1v1h-1zM25 35h1v1h-1zM23 36h1v1h-1zM24 38h1v1h-1zM20 40h1v1h-1zM25 40h1v1h-1zM15 41h1v1h-1zM1 47h1v1h-1zM15 47h1v1h-1zM24 50h1v1h-1zM13 51h1v1h-1zM22 56h1v1h-1zM13 57h1v1h-1zM18 57h1v1h-1zM21 57h1v1h-1zM2 59h1v1h-1zM21 59h1v1h-1zM11 60h1v1h-1zM20 60h1v1h-1zM24 61h1v1h-1zM5 62h1v1h-1zM8 62h1v1h-1zM15 63h1v1h-1zM25 63h1v1h-1zM0 64h1v1h-1zM11 64h1v1h-1zM17 64h1v1h-1zM22 65h1v1h-1zM16 66h2v1h-2zM24 66h1v1h-1zM20 67h2v1h-2zM21 71h1v1h-1zM13 73h2v1h-2zM19 73h1v1h-1zM24 73h1v1h-1zM23 74h1v1h-1zM16 77h1v1h-1zM22 77h2v1h-2zM18 78h1v1h-1zM21 78h1v1h-1zM22 79h1v1h-1zM25 79h1v1h-1zM0 82h1v1h-1zM5 82h1v1h-1zM13 83h1v1h-1zM24 83h1v1h-1zM24 84h1v1h-1zM1 85h1v1h-1zM14 88h1v1h-1zM4 90h1v1h-1zM5 91h1v1h-1zM13 91h1v1h-1zM16 91h1v1h-1zM9 92h1v1h-1zM10 94h1v1h-1zM25 94h1v1h-1zM17 95h1v1h-1zM4 98h1v1h-1zM15 98h1v1h-1zM24 99h1v1h-1zM0 100h1v1h-1zM20 102h1v1h-1zM16 105h1v1h-1zM21 105h1v1h-1zM25 106h1v1h-1zM25 109h1v1h-1zM19 110h1v1h-1zM19 111h1v1h-1zM23 111h1v1h-1zM4 113h1v1h-1zM15 113h1v1h-1zM24 114h1v1h-1z"/>
<path fill="#f9fdca" d="M2 0h1v1h-1zM13 1h1v1h-1zM11 2h1v1h-1zM22 2h1v1h-1zM8 3h1v1h-1zM24 4h1v1h-1zM0 5h1v1h-1zM16 7h2v1h-2zM22 10h1v1h-1zM17 11h1v1h-1zM19 12h1v1h-1zM25 14h1v1h-1zM14 15h1v1h-1zM23 15h1v1h-1zM12 17h1v1h-1zM24 17h1v1h-1zM21 18h1v1h-1zM18 19h1v1h-1zM18 20h1v1h-1zM20 24h1v1h-1zM25 24h1v1h-1zM20 25h1v1h-1zM6 26h1v1h-1zM21 26h1v1h-1zM10 28h1v1h-1zM19 28h1v1h-1zM1 30h1v1h-1zM15 30h1v1h-1zM15 31h1v1h-1zM21 31h1v1h-1zM23 31h1v1h-1zM14 32h1v1h-1zM18 32h1v1h-1zM22 32h1v1h-1zM15 33h1v1h-1zM24 36h1v1h-1zM16 38h1v1h-1zM19 38h1v1h-1zM16 39h1v1h-1zM21 40h1v1h-1zM22 41h1v1h-1zM2 44h1v1h-1zM8 44h1v1h-1zM20 45h1v1h-1zM21 46h1v1h-1zM5 47h1v1h-1zM20 47h1v1h-1zM25 47h1v1h-1zM1 50h1v1h-1zM20 50h1v1h-1zM2 51h1v1h-1zM19 52h1v1h-1zM22 52h1v1h-1zM7 54h1v1h-1zM22 55h1v1h-1zM17 56h1v1h-1zM19 56h1v1h-1zM24 56h1v1h-1zM24 57h1v1h-1zM12 58h1v1h-1zM24 58h1v1h-1zM21 60h1v1h-1zM24 60h1v1h-1zM6 62h1v1h-1zM21 62h1v1h-1zM8 63h1v1h-1zM11 63h1v1h-1zM6 64h1v1h-1zM20 64h1v1h-1zM22 64h1v1h-1zM13 65h1v1h-1zM16 67h1v1h-1zM24 68h1v1h-1zM15 69h1v1h-1zM24 69h1v1h-1zM13 71h1v1h-1zM24 71h1v1h-1zM23 72h1v1h-1zM16 73h1v1h-1zM20 73h1v1h-1zM11 74h1v1h-1zM17 74h1v1h-1zM23 76h1v1h-1zM18 77h1v1h-1zM18 79h1v1h-1zM20 80h1v1h-1zM3 81h1v1h-1zM13 81h1v1h-1zM15 81h1v1h-1zM18 81h1v1h-1zM21 82h1v1h-1zM21 83h1v1h-1zM20 84h1v1h-1zM7 85h1v1h-1zM23 86h1v1h-1zM6 87h1v1h-1zM16 87h1v1h-1zM20 87h1v1h-1zM25 87h1v1h-1zM24 90h1v1h-1zM23 91h1v1h-1zM4 92h1v1h-1zM7 92h1v1h-1zM9 93h1v1h-1zM12 93h1v1h-1zM18 93h1v1h-1zM9 94h1v1h-1zM2 95h1v1h-1zM9 95h1v1h-1zM23 95h1v1h-1zM19 96h1v1h-1zM10 97h1v1h-1zM21 97h1v1h-1zM2 100h1v1h-1zM7 101h1v1h-1zM9 106h1v1h-1zM15 109h1v1h-1zM20 109h1v1h-1zM14 111h1v1h-1zM24 112h1v1h-1zM2 113h1v1h-1zM13 113h1v1h-1zM18 114h1v1h-1z"/>
<path fill="#fdfec3" d="M7 1h1v1h-1zM23 1h1v1h-1zM4 2h1v1h-1zM17 2h1v1h-1zM23 2h1v1h-1zM4 3h1v1h-1zM14 3h1v1h-1zM11 4h1v1h-1zM23 5h1v1h-1zM7 7h1v1h-1zM13 7h1v1h-1zM24 7h1v1h-1zM15 8h1v1h-1zM18 8h1v1h-1zM24 8h1v1h-1zM14 12h2v1h-2zM14 13h1v1h-1zM10 16h1v1h-1zM9 17h1v1h-1zM16 17h1v1h-1zM11 18h1v1h-1zM14 19h1v1h-1zM19 19h1v1h-1zM17 20h1v1h-1zM15 22h3v1h-3zM25 22h1v1h-1zM24 23h1v1h-1zM10 24h1v1h-1zM24 24h1v1h-1zM23 26h1v1h-1zM25 26h1v1h-1zM20 27h1v1h-1zM25 27h1v1h-1zM4 28h1v1h-1zM18 28h1v1h-1zM24 28h1v1h-1zM3 29h1v1h-1zM18 29h2v1h-2zM22 29h1v1h-1zM18 30h1v1h-1zM19 31h1v1h-1zM10 32h1v1h-1zM16 33h1v1h-1zM4 34h1v1h-1zM13 34h1v1h-1zM18 34h1v1h-1zM25 34h1v1h-1zM16 35h1v1h-1zM23 35h2v1h-2zM15 36h1v1h-1zM25 36h1v1h-1zM24 37h1v1h-1zM17 38h1v1h-1zM20 38h1v1h-1zM24 39h1v1h-1zM19 40h1v1h-1zM24 40h1v1h-1zM13 41h1v1h-1zM16 41h3v1h-3zM6 42h1v1h-1zM14 42h1v1h-1zM22 42h1v1h-1zM1 43h1v1h-1zM11 43h1v1h-1zM5 44h1v1h-1zM9 45h1v1h-1zM14 45h1v1h-1zM23 45h1v1h-1zM17 46h2v1h-2zM21 47h1v1h-1zM2 48h1v1h-1zM13 50h1v1h-1zM18 50h1v1h-1zM22 50h1v1h-1zM25 50h1v1h-1zM4 52h1v1h-1zM23 52h1v1h-1zM22 54h1v1h-1zM2 58h1v1h-1zM7 60h1v1h-1zM19 60h1v1h-1zM2 61h1v1h-1zM25 61h1v1h-1zM7 62h1v1h-1zM11 62h1v1h-1zM1 63h1v1h-1zM7 63h1v1h-1zM5 64h1v1h-1zM7 64h1v1h-1zM14 64h1v1h-1zM19 65h1v1h-1zM21 65h1v1h-1zM24 65h1v1h-1zM14 66h2v1h-2zM18 66h1v1h-1zM25 68h1v1h-1zM17 69h1v1h-1zM19 69h2v1h-2zM20 70h1v1h-1zM20 71h1v1h-1zM24 74h1v1h-1zM24 75h1v1h-1zM17 76h1v1h-1zM21 77h1v1h-1zM24 79h1v1h-1zM19 80h1v1h-1zM7 81h1v1h-1zM17 81h1v1h-1zM13 82h1v1h-1zM17 82h1v1h-1zM0 83h1v1h-1zM18 84h1v1h-1zM22 84h1v1h-1zM25 84h1v1h-1zM22 85h1v1h-1zM20 86h1v1h-1zM19 87h1v1h-1zM21 87h1v1h-1zM24 89h1v1h-1zM2 90h1v1h-1zM12 91h1v1h-1zM17 91h1v1h-1zM5 92h1v1h-1zM13 92h1v1h-1zM16 92h2v1h-2zM6 93h2v1h-2zM23 93h1v1h-1zM4 95h1v1h-1zM7 95h1v1h-1zM5 96h1v1h-1zM2 98h1v1h-1zM5 98h2v1h-2zM6 100h1v1h-1zM19 100h1v1h-1zM21 100h2v1h-2zM23 101h1v1h-1zM25 103h1v1h-1zM23 106h1v1h-1zM14 107h1v1h-1zM25 108h1v1h-1zM10 109h1v1h-1zM16 109h1v1h-1zM23 109h1v1h-1zM0 110h1v1h-1zM18 110h1v1h-1zM24 110h1v1h-1zM20 111h1v1h-1zM14 112h1v1h-1zM18 113h1v1h-1zM24 113h1v1h-1zM0 114h1v1h-1zM16 114h1v1h-1zM20 114h2v1h-2zM25 114h1v1h-1z"/>
<path fill="#fffdbc" d="M3 0h1v1h-1zM10 0h1v1h-1zM14 0h2v1h-2zM22 0h1v1h-1zM25 0h1v1h-1zM3 2h1v1h-1zM10 2h1v1h-1zM16 2h1v1h-1zM24 2h1v1h-1zM1 3h1v1h-1zM11 3h1v1h-1zM8 4h1v1h-1zM10 4h1v1h-1zM16 4h1v1h-1zM20 4h1v1h-1zM10 5h1v1h-1zM16 5h1v1h-1zM17 6h1v1h-1zM2 7h1v1h-1zM8 7h1v1h-1zM20 7h1v1h-1zM22 7h1v1h-1zM24 9h1v1h-1zM11 10h1v1h-1zM15 11h1v1h-1zM24 11h1v1h-1zM16 12h1v1h-1zM21 12h1v1h-1zM25 12h1v1h-1zM17 13h1v1h-1zM15 14h1v1h-1zM17 14h1v1h-1zM15 15h1v1h-1zM24 15h1v1h-1zM7 16h1v1h-1zM25 16h1v1h-1zM14 17h1v1h-1zM6 18h1v1h-1zM17 18h1v1h-1zM15 19h1v1h-1zM4 20h1v1h-1zM19 20h1v1h-1zM8 21h1v1h-1zM19 21h1v1h-1zM8 22h1v1h-1zM14 22h1v1h-1zM18 22h1v1h-1zM5 23h1v1h-1zM23 23h1v1h-1zM8 24h1v1h-1zM15 24h1v1h-1zM18 24h1v1h-1zM19 25h1v1h-1zM9 26h1v1h-1zM20 26h1v1h-1zM22 26h1v1h-1zM0 27h1v1h-1zM16 27h1v1h-1zM22 27h1v1h-1zM17 28h1v1h-1zM5 29h1v1h-1zM9 29h1v1h-1zM15 29h1v1h-1zM3 30h1v1h-1zM25 30h1v1h-1zM4 31h1v1h-1zM21 32h1v1h-1zM23 32h1v1h-1zM13 33h1v1h-1zM17 33h1v1h-1zM20 33h1v1h-1zM22 33h1v1h-1zM7 34h2v1h-2zM14 34h1v1h-1zM16 34h1v1h-1zM19 34h1v1h-1zM2 35h1v1h-1zM21 35h1v1h-1zM4 36h1v1h-1zM14 36h1v1h-1zM20 36h3v1h-3zM13 37h1v1h-1zM20 37h1v1h-1zM22 37h2v1h-2zM12 38h1v1h-1zM15 38h1v1h-1zM22 38h1v1h-1zM11 40h1v1h-1zM22 40h2v1h-2zM0 41h1v1h-1zM11 41h1v1h-1zM19 41h2v1h-2zM25 41h1v1h-1zM9 42h1v1h-1zM18 42h1v1h-1zM24 42h1v1h-1zM5 43h1v1h-1zM17 43h1v1h-1zM20 43h2v1h-2zM0 44h1v1h-1zM3 44h1v1h-1zM7 44h1v1h-1zM13 44h1v1h-1zM3 45h1v1h-1zM6 45h1v1h-1zM16 45h1v1h-1zM1 46h1v1h-1zM3 46h1v1h-1zM9 46h1v1h-1zM11 46h1v1h-1zM15 46h1v1h-1zM6 48h1v1h-1zM13 48h1v1h-1zM6 49h1v1h-1zM23 49h1v1h-1zM19 50h1v1h-1zM17 51h1v1h-1zM22 51h1v1h-1zM2 52h1v1h-1zM14 52h1v1h-1zM20 52h2v1h-2zM13 53h1v1h-1zM22 53h1v1h-1zM3 54h1v1h-1zM21 54h1v1h-1zM23 54h2v1h-2zM23 58h1v1h-1zM5 60h1v1h-1zM22 61h1v1h-1zM2 62h1v1h-1zM25 62h1v1h-1zM4 63h1v1h-1zM14 63h1v1h-1zM17 63h1v1h-1zM4 64h1v1h-1zM15 64h1v1h-1zM21 64h1v1h-1zM15 65h1v1h-1zM21 66h2v1h-2zM25 67h1v1h-1zM19 68h1v1h-1zM18 69h1v1h-1zM17 70h3v1h-3zM14 71h1v1h-1zM22 71h1v1h-1zM13 72h2v1h-2zM16 72h1v1h-1zM18 72h1v1h-1zM22 72h1v1h-1zM21 73h1v1h-1zM21 74h1v1h-1zM20 75h2v1h-2zM25 75h1v1h-1zM21 76h1v1h-1zM24 76h1v1h-1zM19 77h2v1h-2zM25 77h1v1h-1zM20 79h1v1h-1zM18 80h1v1h-1zM23 80h1v1h-1zM16 81h1v1h-1zM22 82h1v1h-1zM20 83h1v1h-1zM15 85h1v1h-1zM1 87h1v1h-1zM3 87h1v1h-1zM15 88h1v1h-1zM25 88h1v1h-1zM16 89h1v1h-1zM22 89h1v1h-1zM17 90h2v1h-2zM19 91h1v1h-1zM20 92h1v1h-1zM22 93h1v1h-1zM17 94h1v1h-1zM23 94h1v1h-1zM8 95h1v1h-1zM14 95h1v1h-1zM21 95h2v1h-2zM14 96h1v1h-1zM16 96h1v1h-1zM3 97h1v1h-1zM7 97h1v1h-1zM22 97h1v1h-1zM24 97h1v1h-1zM12 98h1v1h-1zM19 98h1v1h-1zM22 101h1v1h-1zM25 102h1v1h-1zM21 103h1v1h-1zM22 104h3v1h-3zM20 105h1v1h-1zM21 106h1v1h-1zM12 107h1v1h-1zM23 107h1v1h-1zM19 108h1v1h-1zM1 110h1v1h-1zM23 110h1v1h-1zM1 111h1v1h-1zM22 112h1v1h-1zM14 113h1v1h-1zM17 113h1v1h-1zM21 113h1v1h-1zM25 113h1v1h-1z"/>
<path fill="#fff9b6" d="M1 0h1v1h-1zM4 0h1v1h-1zM9 0h1v1h-1zM16 0h2v1h-2zM23 0h1v1h-1zM0 2h1v1h-1zM12 2h1v1h-1zM0 3h1v1h-1zM9 3h1v1h-1zM15 3h1v1h-1zM24 3h1v1h-1zM2 5h1v1h-1zM8 5h1v1h-1zM2 6h1v1h-1zM5 6h1v1h-1zM7 6h1v1h-1zM9 6h1v1h-1zM15 6h1v1h-1zM23 6h1v1h-1zM11 7h1v1h-1zM25 7h1v1h-1zM11 8h1v1h-1zM23 8h1v1h-1zM25 9h1v1h-1zM14 11h1v1h-1zM16 11h1v1h-1zM22 11h1v1h-1zM13 12h1v1h-1zM7 13h1v1h-1zM13 13h1v1h-1zM13 15h1v1h-1zM12 16h1v1h-1zM15 16h1v1h-1zM24 16h1v1h-1zM8 17h1v1h-1zM13 17h1v1h-1zM17 17h1v1h-1zM9 18h1v1h-1zM12 18h1v1h-1zM15 18h1v1h-1zM10 19h1v1h-1zM12 20h1v1h-1zM9 21h1v1h-1zM11 21h1v1h-1zM13 21h1v1h-1zM24 21h1v1h-1zM6 22h1v1h-1zM20 22h1v1h-1zM11 23h2v1h-2zM19 23h1v1h-1zM21 23h1v1h-1zM12 24h1v1h-1zM10 25h1v1h-1zM5 26h1v1h-1zM13 26h1v1h-1zM4 27h1v1h-1zM8 27h1v1h-1zM14 27h2v1h-2zM24 27h1v1h-1zM6 28h1v1h-1zM16 28h1v1h-1zM23 28h1v1h-1zM20 29h1v1h-1zM11 30h1v1h-1zM17 30h1v1h-1zM21 30h1v1h-1zM10 31h1v1h-1zM20 31h1v1h-1zM12 32h1v1h-1zM17 32h1v1h-1zM7 33h2v1h-2zM23 33h1v1h-1zM6 34h1v1h-1zM20 34h1v1h-1zM9 35h1v1h-1zM1 36h1v1h-1zM2 37h1v1h-1zM4 37h1v1h-1zM6 37h1v1h-1zM8 37h1v1h-1zM15 37h1v1h-1zM3 39h1v1h-1zM14 39h1v1h-1zM25 39h1v1h-1zM12 40h3v1h-3zM16 40h1v1h-1zM12 42h1v1h-1zM20 42h1v1h-1zM25 42h1v1h-1zM3 43h1v1h-1zM13 43h2v1h-2zM16 43h1v1h-1zM6 44h1v1h-1zM9 44h1v1h-1zM14 44h2v1h-2zM5 45h1v1h-1zM12 45h2v1h-2zM17 45h1v1h-1zM25 45h1v1h-1zM8 46h1v1h-1zM10 46h1v1h-1zM19 46h1v1h-1zM20 49h1v1h-1zM25 52h1v1h-1zM20 53h1v1h-1zM20 54h1v1h-1zM21 55h1v1h-1zM24 55h1v1h-1zM21 56h1v1h-1zM22 57h1v1h-1zM6 61h1v1h-1zM4 62h1v1h-1zM24 62h1v1h-1zM6 63h1v1h-1zM17 65h1v1h-1zM18 67h1v1h-1zM21 69h1v1h-1zM16 70h1v1h-1zM21 70h2v1h-2zM24 70h1v1h-1zM23 71h1v1h-1zM25 71h1v1h-1zM15 72h1v1h-1zM20 72h1v1h-1zM24 72h1v1h-1zM23 73h1v1h-1zM20 74h1v1h-1zM25 74h1v1h-1zM18 75h1v1h-1zM14 76h1v1h-1zM18 76h1v1h-1zM24 77h1v1h-1zM23 79h1v1h-1zM2 80h1v1h-1zM17 80h1v1h-1zM25 82h1v1h-1zM8 83h1v1h-1zM22 86h1v1h-1zM24 88h1v1h-1zM12 89h1v1h-1zM16 90h1v1h-1zM25 90h1v1h-1zM22 92h1v1h-1zM25 92h1v1h-1zM14 93h1v1h-1zM19 93h1v1h-1zM2 96h1v1h-1zM22 96h1v1h-1zM25 96h1v1h-1zM21 101h1v1h-1zM25 101h1v1h-1zM21 102h1v1h-1zM23 105h1v1h-1zM24 107h1v1h-1zM21 108h1v1h-1zM19 109h1v1h-1zM20 110h1v1h-1zM0 112h1v1h-1zM2 112h1v1h-1zM10 113h1v1h-1zM22 113h1v1h-1zM13 114h1v1h-1z"/>
<path fill="#fff5b0" d="M0 0h1v1h-1zM1 1h2v1h-2zM4 1h1v1h-1zM6 1h1v1h-1zM25 1h1v1h-1zM6 2h1v1h-1zM14 2h1v1h-1zM3 4h1v1h-1zM5 4h1v1h-1zM1 5h1v1h-1zM7 5h1v1h-1zM13 5h1v1h-1zM17 5h1v1h-1zM4 6h1v1h-1zM8 6h1v1h-1zM12 6h1v1h-1zM14 6h1v1h-1zM16 6h1v1h-1zM24 6h1v1h-1zM4 7h1v1h-1zM6 7h1v1h-1zM1 8h1v1h-1zM3 8h1v1h-1zM12 8h1v1h-1zM16 8h2v1h-2zM12 9h1v1h-1zM23 9h1v1h-1zM13 11h1v1h-1zM16 13h1v1h-1zM20 14h1v1h-1zM1 15h1v1h-1zM4 15h1v1h-1zM11 15h1v1h-1zM17 15h1v1h-1zM14 16h1v1h-1zM11 17h1v1h-1zM7 18h1v1h-1zM13 18h2v1h-2zM16 18h1v1h-1zM7 19h1v1h-1zM6 20h2v1h-2zM10 20h1v1h-1zM14 20h2v1h-2zM24 20h1v1h-1zM4 21h1v1h-1zM6 21h1v1h-1zM25 21h1v1h-1zM5 22h1v1h-1zM12 22h2v1h-2zM8 23h1v1h-1zM14 23h1v1h-1zM16 23h1v1h-1zM16 24h1v1h-1zM2 25h1v1h-1zM14 25h1v1h-1zM17 25h2v1h-2zM7 26h2v1h-2zM10 26h1v1h-1zM12 26h1v1h-1zM15 26h1v1h-1zM17 26h1v1h-1zM1 27h1v1h-1zM5 27h1v1h-1zM10 27h1v1h-1zM19 27h1v1h-1zM7 28h2v1h-2zM14 28h2v1h-2zM2 29h1v1h-1zM16 29h1v1h-1zM2 30h1v1h-1zM4 30h1v1h-1zM6 30h1v1h-1zM5 31h3v1h-3zM1 32h3v1h-3zM6 32h1v1h-1zM1 33h2v1h-2zM2 34h1v1h-1zM10 34h1v1h-1zM12 34h1v1h-1zM21 34h1v1h-1zM0 35h1v1h-1zM7 35h1v1h-1zM13 35h2v1h-2zM19 35h1v1h-1zM2 36h1v1h-1zM6 36h2v1h-2zM12 36h2v1h-2zM17 36h1v1h-1zM7 37h1v1h-1zM14 37h1v1h-1zM19 37h1v1h-1zM25 37h1v1h-1zM13 39h1v1h-1zM20 39h1v1h-1zM9 40h1v1h-1zM17 40h1v1h-1zM1 41h1v1h-1zM14 41h1v1h-1zM23 41h1v1h-1zM0 42h1v1h-1zM3 42h2v1h-2zM10 42h1v1h-1zM15 42h2v1h-2zM0 43h1v1h-1zM9 43h1v1h-1zM15 43h1v1h-1zM25 43h1v1h-1zM1 45h1v1h-1zM24 49h1v1h-1zM21 50h1v1h-1zM21 53h1v1h-1zM23 53h1v1h-1zM23 55h1v1h-1zM2 63h1v1h-1zM16 63h1v1h-1zM20 66h1v1h-1zM14 67h1v1h-1zM16 68h1v1h-1zM16 69h1v1h-1zM25 69h1v1h-1zM14 70h1v1h-1zM23 70h1v1h-1zM18 71h1v1h-1zM21 72h1v1h-1zM25 72h1v1h-1zM15 75h1v1h-1zM19 76h1v1h-1zM20 78h1v1h-1zM16 84h1v1h-1zM23 87h1v1h-1zM21 88h1v1h-1zM17 97h1v1h-1zM19 97h1v1h-1zM24 98h1v1h-1zM21 99h1v1h-1zM25 99h1v1h-1zM23 100h2v1h-2zM24 101h1v1h-1zM21 104h1v1h-1zM24 105h1v1h-1zM22 106h1v1h-1zM21 107h1v1h-1zM23 108h2v1h-2zM21 110h2v1h-2zM20 113h1v1h-1zM1 114h1v1h-1zM14 114h1v1h-1z"/>
<path fill="#fff1aa" d="M6 0h1v1h-1zM8 0h1v1h-1zM5 1h1v1h-1zM3 3h1v1h-1zM1 4h1v1h-1zM6 4h1v1h-1zM15 4h1v1h-1zM0 6h1v1h-1zM6 6h1v1h-1zM14 7h1v1h-1zM0 8h1v1h-1zM5 8h1v1h-1zM9 8h2v1h-2zM19 8h1v1h-1zM10 9h1v1h-1zM16 9h1v1h-1zM14 10h2v1h-2zM17 10h1v1h-1zM3 11h1v1h-1zM11 11h2v1h-2zM18 11h1v1h-1zM3 12h1v1h-1zM12 12h1v1h-1zM6 13h1v1h-1zM15 13h1v1h-1zM3 15h1v1h-1zM21 15h1v1h-1zM11 16h1v1h-1zM13 16h1v1h-1zM6 17h2v1h-2zM21 17h1v1h-1zM4 19h1v1h-1zM6 19h1v1h-1zM8 19h1v1h-1zM9 20h1v1h-1zM14 21h1v1h-1zM0 22h1v1h-1zM9 22h1v1h-1zM7 23h1v1h-1zM10 23h1v1h-1zM18 23h1v1h-1zM5 24h1v1h-1zM13 24h1v1h-1zM21 24h1v1h-1zM0 26h1v1h-1zM4 26h1v1h-1zM14 26h1v1h-1zM6 27h1v1h-1zM11 27h1v1h-1zM13 27h1v1h-1zM1 28h1v1h-1zM3 28h1v1h-1zM13 28h1v1h-1zM1 29h1v1h-1zM6 29h1v1h-1zM11 29h1v1h-1zM14 29h1v1h-1zM5 30h1v1h-1zM13 30h1v1h-1zM23 30h1v1h-1zM0 31h1v1h-1zM2 31h1v1h-1zM5 32h1v1h-1zM6 33h1v1h-1zM25 33h1v1h-1zM3 34h1v1h-1zM1 35h1v1h-1zM5 35h1v1h-1zM10 35h3v1h-3zM18 35h1v1h-1zM0 36h1v1h-1zM11 37h1v1h-1zM2 38h2v1h-2zM13 38h1v1h-1zM23 38h1v1h-1zM12 39h1v1h-1zM22 39h1v1h-1zM1 40h1v1h-1zM6 40h1v1h-1zM21 41h1v1h-1zM2 42h1v1h-1zM13 42h1v1h-1zM19 42h1v1h-1zM23 42h1v1h-1zM8 43h1v1h-1zM12 43h1v1h-1zM20 44h1v1h-1zM22 46h1v1h-1zM3 47h1v1h-1zM20 51h1v1h-1zM25 53h1v1h-1zM2 54h1v1h-1zM23 57h1v1h-1zM23 67h1v1h-1zM25 70h1v1h-1zM19 71h1v1h-1zM22 75h2v1h-2zM23 78h1v1h-1zM2 81h1v1h-1zM11 81h1v1h-1zM2 82h1v1h-1zM18 82h1v1h-1zM23 83h1v1h-1zM18 85h1v1h-1zM24 87h1v1h-1zM18 88h1v1h-1zM18 89h1v1h-1zM21 90h1v1h-1zM23 98h1v1h-1zM22 99h2v1h-2zM20 100h1v1h-1zM22 102h1v1h-1zM24 102h1v1h-1zM24 111h1v1h-1zM25 112h1v1h-1zM23 113h1v1h-1z"/>
<path fill="#feeea5" d="M11 0h1v1h-1zM14 1h1v1h-1zM2 2h1v1h-1zM5 2h1v1h-1zM7 2h2v1h-2zM12 3h1v1h-1zM4 4h1v1h-1zM7 4h1v1h-1zM14 4h1v1h-1zM3 5h2v1h-2zM9 5h1v1h-1zM11 6h1v1h-1zM13 6h1v1h-1zM0 7h1v1h-1zM9 7h2v1h-2zM4 8h1v1h-1zM13 8h1v1h-1zM6 9h2v1h-2zM11 9h1v1h-1zM15 9h1v1h-1zM7 10h1v1h-1zM9 10h1v1h-1zM13 10h1v1h-1zM4 11h1v1h-1zM22 12h1v1h-1zM10 13h1v1h-1zM18 13h1v1h-1zM0 14h1v1h-1zM13 14h1v1h-1zM16 14h1v1h-1zM6 15h1v1h-1zM10 15h1v1h-1zM16 15h1v1h-1zM4 16h1v1h-1zM9 16h1v1h-1zM3 17h3v1h-3zM15 17h1v1h-1zM1 18h1v1h-1zM5 18h1v1h-1zM25 18h1v1h-1zM9 19h1v1h-1zM3 20h1v1h-1zM16 20h1v1h-1zM5 21h1v1h-1zM7 21h1v1h-1zM10 21h1v1h-1zM15 21h1v1h-1zM21 21h1v1h-1zM7 22h1v1h-1zM10 22h1v1h-1zM3 23h2v1h-2zM1 24h1v1h-1zM7 24h1v1h-1zM9 24h1v1h-1zM12 25h1v1h-1zM15 25h1v1h-1zM24 25h1v1h-1zM7 27h1v1h-1zM9 27h1v1h-1zM12 27h1v1h-1zM0 28h1v1h-1zM4 29h1v1h-1zM7 29h1v1h-1zM8 30h3v1h-3zM14 30h1v1h-1zM3 31h1v1h-1zM9 31h1v1h-1zM11 31h2v1h-2zM25 31h1v1h-1zM15 32h1v1h-1zM24 32h1v1h-1zM9 33h2v1h-2zM18 33h1v1h-1zM1 34h1v1h-1zM5 34h1v1h-1zM3 35h2v1h-2zM8 35h1v1h-1zM15 35h1v1h-1zM9 36h2v1h-2zM0 37h1v1h-1zM3 37h1v1h-1zM5 37h1v1h-1zM21 37h1v1h-1zM23 39h1v1h-1zM7 40h2v1h-2zM10 40h1v1h-1zM18 40h1v1h-1zM3 41h1v1h-1zM5 41h1v1h-1zM9 41h1v1h-1zM1 42h1v1h-1zM5 42h1v1h-1zM24 43h1v1h-1zM12 44h1v1h-1zM0 45h1v1h-1zM24 53h1v1h-1zM25 56h1v1h-1zM23 69h1v1h-1zM19 72h1v1h-1zM22 74h1v1h-1zM20 76h1v1h-1zM11 82h1v1h-1zM18 86h1v1h-1zM18 87h1v1h-1zM16 88h1v1h-1zM18 92h1v1h-1zM24 106h1v1h-1zM21 109h1v1h-1zM24 109h1v1h-1z"/>
<path fill="#feea9f" d="M12 0h2v1h-2zM9 1h2v1h-2zM13 2h1v1h-1zM5 3h1v1h-1zM13 3h1v1h-1zM2 4h1v1h-1zM13 4h1v1h-1zM15 5h1v1h-1zM3 6h1v1h-1zM3 7h1v1h-1zM5 7h1v1h-1zM12 7h1v1h-1zM6 8h2v1h-2zM14 8h1v1h-1zM3 9h1v1h-1zM5 9h1v1h-1zM8 9h1v1h-1zM6 10h1v1h-1zM16 10h1v1h-1zM0 12h1v1h-1zM6 12h2v1h-2zM17 12h1v1h-1zM0 13h1v1h-1zM4 13h1v1h-1zM9 13h1v1h-1zM12 13h1v1h-1zM4 14h1v1h-1zM9 14h1v1h-1zM14 14h1v1h-1zM18 14h1v1h-1zM2 15h1v1h-1zM8 15h1v1h-1zM8 16h1v1h-1zM2 18h1v1h-1zM2 19h2v1h-2zM13 20h1v1h-1zM1 21h1v1h-1zM0 23h1v1h-1zM13 23h1v1h-1zM0 25h1v1h-1zM3 25h1v1h-1zM6 25h1v1h-1zM9 25h1v1h-1zM16 25h1v1h-1zM1 26h1v1h-1zM12 30h1v1h-1zM4 32h1v1h-1zM11 32h1v1h-1zM13 32h1v1h-1zM0 33h1v1h-1zM5 33h1v1h-1zM12 33h1v1h-1zM14 33h1v1h-1zM15 34h1v1h-1zM5 36h1v1h-1zM8 36h1v1h-1zM11 36h1v1h-1zM9 37h1v1h-1zM4 38h1v1h-1zM6 38h2v1h-2zM10 38h1v1h-1zM25 38h1v1h-1zM4 40h1v1h-1zM24 41h1v1h-1zM21 42h1v1h-1zM10 43h1v1h-1zM25 51h1v1h-1zM17 71h1v1h-1zM22 73h1v1h-1zM25 73h1v1h-1zM25 76h1v1h-1zM22 91h1v1h-1zM24 103h1v1h-1zM25 105h1v1h-1z"/>
<path fill="#fee699" d="M5 0h1v1h-1zM8 1h1v1h-1zM7 3h1v1h-1zM10 3h1v1h-1zM12 4h1v1h-1zM6 5h1v1h-1zM12 5h1v1h-1zM1 6h1v1h-1zM1 7h1v1h-1zM2 8h1v1h-1zM1 9h2v1h-2zM4 9h1v1h-1zM3 10h2v1h-2zM10 10h1v1h-1zM12 10h1v1h-1zM6 11h1v1h-1zM8 11h1v1h-1zM3 13h1v1h-1zM1 14h1v1h-1zM8 14h1v1h-1zM12 14h1v1h-1zM7 15h1v1h-1zM9 15h1v1h-1zM12 15h1v1h-1zM5 16h1v1h-1zM4 18h1v1h-1zM8 18h1v1h-1zM8 20h1v1h-1zM2 21h2v1h-2zM2 22h1v1h-1zM11 22h1v1h-1zM2 23h1v1h-1zM6 24h1v1h-1zM11 24h1v1h-1zM5 25h1v1h-1zM2 27h1v1h-1zM2 28h1v1h-1zM5 28h1v1h-1zM9 28h1v1h-1zM12 28h1v1h-1zM8 29h1v1h-1zM13 29h1v1h-1zM21 29h1v1h-1zM8 31h1v1h-1zM13 31h2v1h-2zM7 32h1v1h-1zM3 33h1v1h-1zM11 33h1v1h-1zM0 34h1v1h-1zM9 34h1v1h-1zM6 35h1v1h-1zM1 37h1v1h-1zM10 37h1v1h-1zM5 38h1v1h-1zM0 39h1v1h-1zM6 39h1v1h-1zM10 39h1v1h-1zM17 39h1v1h-1zM2 40h1v1h-1zM5 40h1v1h-1zM10 41h1v1h-1zM7 42h1v1h-1zM17 42h1v1h-1zM21 51h1v1h-1zM19 74h1v1h-1zM6 80h1v1h-1zM11 80h1v1h-1zM24 85h1v1h-1zM22 103h1v1h-1zM25 104h1v1h-1z"/>
<path fill="#fee293" d="M12 1h1v1h-1zM0 4h1v1h-1zM8 8h1v1h-1zM13 9h1v1h-1zM2 10h1v1h-1zM5 10h1v1h-1zM8 10h1v1h-1zM0 11h3v1h-3zM2 12h1v1h-1zM8 12h2v1h-2zM1 13h1v1h-1zM8 13h1v1h-1zM11 14h1v1h-1zM3 16h1v1h-1zM6 16h1v1h-1zM2 17h1v1h-1zM0 19h1v1h-1zM5 20h1v1h-1zM11 20h1v1h-1zM12 21h1v1h-1zM7 25h1v1h-1zM13 25h1v1h-1zM3 26h1v1h-1zM3 27h1v1h-1zM12 29h1v1h-1zM7 30h1v1h-1zM1 31h1v1h-1zM4 33h1v1h-1zM11 34h1v1h-1zM3 36h1v1h-1zM1 38h1v1h-1zM11 38h1v1h-1zM4 39h1v1h-1zM15 39h1v1h-1zM15 40h1v1h-1zM12 41h1v1h-1zM11 42h1v1h-1zM7 43h1v1h-1zM23 43h1v1h-1zM24 51h1v1h-1zM24 52h1v1h-1zM18 68h1v1h-1zM6 81h1v1h-1z"/>
<path fill="#fedb8d" d="M15 1h1v1h-1zM25 2h1v1h-1zM2 3h1v1h-1zM5 5h1v1h-1zM11 5h1v1h-1zM1 10h1v1h-1zM7 11h1v1h-1zM10 11h1v1h-1zM1 12h1v1h-1zM10 12h1v1h-1zM11 13h1v1h-1zM3 14h1v1h-1zM5 14h1v1h-1zM7 14h1v1h-1zM10 14h1v1h-1zM5 15h1v1h-1zM0 16h2v1h-2zM4 22h1v1h-1zM4 24h1v1h-1zM1 25h1v1h-1zM4 25h1v1h-1zM0 32h1v1h-1zM8 32h2v1h-2zM19 33h1v1h-1zM16 37h1v1h-1zM9 38h1v1h-1zM14 38h1v1h-1zM1 39h2v1h-2zM7 39h1v1h-1zM9 39h1v1h-1zM11 39h1v1h-1zM0 40h1v1h-1zM3 40h1v1h-1zM18 73h1v1h-1z"/>
<path fill="#fed086" d="M6 3h1v1h-1zM9 4h1v1h-1zM14 5h1v1h-1zM10 6h1v1h-1zM5 11h1v1h-1zM11 12h1v1h-1zM0 15h1v1h-1zM3 18h1v1h-1zM1 20h1v1h-1zM2 24h1v1h-1zM16 36h1v1h-1zM0 38h1v1h-1zM5 39h1v1h-1zM4 41h1v1h-1zM8 41h1v1h-1zM8 42h1v1h-1zM16 62h1v1h-1zM1 82h1v1h-1zM6 82h1v1h-1z"/>
<path fill="#fdc67f" d="M3 1h1v1h-1zM4 12h1v1h-1zM2 13h1v1h-1zM6 14h1v1h-1zM0 20h1v1h-1zM2 20h1v1h-1zM0 21h1v1h-1zM3 22h1v1h-1zM6 23h1v1h-1zM0 24h1v1h-1zM3 24h1v1h-1zM2 26h1v1h-1zM8 38h1v1h-1zM2 41h1v1h-1zM7 41h1v1h-1zM1 80h1v1h-1zM1 81h1v1h-1z"/>
<path fill="#fdbc78" d="M11 1h1v1h-1zM1 2h1v1h-1zM5 12h1v1h-1zM5 13h1v1h-1zM2 14h1v1h-1zM2 16h1v1h-1zM1 17h1v1h-1zM9 23h1v1h-1zM11 28h1v1h-1zM6 41h1v1h-1z"/>
<path fill="#fdb171" d="M0 9h1v1h-1zM10 18h1v1h-1zM1 22h1v1h-1zM1 23h1v1h-1zM0 30h1v1h-1zM9 80h1v1h-1zM9 81h1v1h-1zM9 82h1v1h-1z"/>
<path fill="#fda76a" d="M9 9h1v1h-1zM9 11h1v1h-1zM0 17h1v1h-1zM1 19h1v1h-1zM13 19h1v1h-1zM0 29h1v1h-1zM18 39h1v1h-1z"/>
<path fill="#fc9d63" d="M9 2h1v1h-1zM0 10h1v1h-1zM0 18h1v1h-1zM9 84h1v1h-1z"/>
<path fill="#fc925c" d="M10 45h1v1h-1z"/>
<path fill="#fa8756" d="M5 19h1v1h-1zM9 83h1v1h-1z"/>
<path fill="#e7593d" d="M8 39h1v1h-1z"/>
</g>
<path d="M30.90 38.80V398.80M33.81 38.80V398.80M36.73 38.80V398.80M39.64 38.80V398.80M42.56 38.80V398.80M45.47 38.80V398.80M48.39 38.80V398.80M51.30 38.80V398.80M54.21 38.80V398.80M57.13 38.80V398.80M60.04 38.80V398.80M62.96 38.80V398.80M65.87 38.80V398.80M68.79 38.80V398.80M71.70 38.80V398.80M74.61 38.80V398.80M77.53 38.80V398.80M80.44 38.80V398.80M83.36 38.80V398.80M86.27 38.80V398.80M89.19 38.80V398.80M92.10 38.80V398.80M95.01 38.80V398.80M97.93 38.80V398.80M100.84 38.80V398.80M103.76 38.80V398.80M106.67 38.80V398.80M109.59 38.80V398.80M112.50 38.80V398.80M115.41 38.80V398.80M118.33 38.80V398.80M121.24 38.80V398.80M124.16 38.80V398.80M127.07 38.80V398.80M129.99 38.80V398.80M132.90 38.80V398.80M135.81 38.80V398.80M138.73 38.80V398.80M141.64 38.80V398.80M144.56 38.80V398.80M147.47 38.80V398.80M150.39 38.80V398.80M153.30 38.80V398.80M156.15 38.80V398.80M159.01 38.80V398.80M161.86 38.80V398.80M164.72 38.80V398.80M167.57 38.80V398.80M170.42 38.80V398.80M173.28 38.80V398.80M176.13 38.80V398.80M178.98 38.80V398.80M181.84 38.80V398.80M184.69 38.80V398.80M187.55 38.80V398.80M190.40 38.80V398.80M193.25 38.80V398.80M196.11 38.80V398.80M198.96 38.80V398.80M201.82 38.80V398.80M204.67 38.80V398.80M207.52 38.80V398.80M210.38 38.80V398.80M213.23 38.80V398.80M216.08 38.80V398.80M218.94 38.80V398.80M221.79 38.80V398.80M224.65 38.80V398.80M227.50 38.80V398.80M30.90 38.80H227.50M30.90 41.93H227.50M30.90 45.06H227.50M30.90 48.19H227.50M30.90 51.32H227.50M30.90 54.45H227.50M30.90 57.58H227.50M30.90 60.71H227.50M30.90 63.84H227.50M30.90 66.97H227.50M30.90 70.10H227.50M30.90 73.23H227.50M30.90 76.37H227.50M30.90 79.50H227.50M30.90 82.63H227.50M30.90 85.76H227.50M30.90 88.89H227.50M30.90 92.02H227.50M30.90 95.15H227.50M30.90 98.28H227.50M30.90 101.41H227.50M30.90 104.54H227.50M30.90 107.67H227.50M30.90 110.80H227.50M30.90 113.93H227.50M30.90 117.06H227.50M30.90 120.19H227.50M30.90 123.32H227.50M30.90 126.45H227.50M30.90 129.58H227.50M30.90 132.71H227.50M30.90 135.84H227.50M30.90 138.97H227.50M30.90 142.10H227.50M30.90 145.23H227.50M30.90 148.37H227.50M30.90 151.50H227.50M30.90 154.63H227.50M30.90 157.76H227.50M30.90 160.89H227.50M30.90 164.02H227.50M30.90 167.15H227.50M30.90 170.28H227.50M30.90 173.41H227.50M30.90 176.54H227.50M30.90 179.67H227.50M30.90 182.80H227.50M30.90 185.93H227.50M30.90 189.06H227.50M30.90 192.19H227.50M30.90 195.32H227.50M30.90 198.45H227.50M30.90 201.58H227.50M30.90 204.71H227.50M30.90 207.84H227.50M30.90 210.97H227.50M30.90 214.10H227.50M30.90 217.23H227.50M30.90 220.37H227.50M30.90 223.50H227.50M30.90 226.63H227.50M30.90 229.76H227.50M30.90 232.89H227.50M30.90 236.02H227.50M30.90 239.15H227.50M30.90 242.28H227.50M30.90 245.41H227.50M30.90 248.54H227.50M30.90 251.67H227.50M30.90 254.80H227.50M30.90 257.93H227.50M30.90 261.06H227.50M30.90 264.19H227.50M30.90 267.32H227.50M30.90 270.45H227.50M30.90 273.58H227.50M30.90 276.71H227.50M30.90 279.84H227.50M30.90 282.97H227.50M30.90 286.10H227.50M30.90 289.23H227.50M30.90 292.37H227.50M30.90 295.50H227.50M30.90 298.63H227.50M30.90 301.76H227.50M30.90 304.89H227.50M30.90 308.02H227.50M30.90 311.15H227.50M30.90 314.28H227.50M30.90 317.41H227.50M30.90 320.54H227.50M30.90 323.67H227.50M30.90 326.80H227.50M30.90 329.93H227.50M30.90 333.06H227.50M30.90 336.19H227.50M30.90 339.32H227.50M30.90 342.45H227.50M30.90 345.58H227.50M30.90 348.71H227.50M30.90 351.84H227.50M30.90 354.97H227.50M30.90 358.10H227.50M30.90 361.23H227.50M30.90 364.37H227.50M30.90 367.50H227.50M30.90 370.63H227.50M30.90 373.76H227.50M30.90 376.89H227.50M30.90 380.02H227.50M30.90 383.15H227.50M30.90 386.28H227.50M30.90 389.41H227.50M30.90 392.54H227.50M30.90 395.67H227.50M30.90 398.80H227.50" stroke="#9c9ca6" stroke-opacity="0.9" stroke-width="0.4" fill="none"/>
<rect x="30.9" y="32.6" width="122.3" height="5.2" fill="#19c7cd"/>
<rect x="153.2" y="32.6" width="42.8" height="5.2" fill="#f97f77"/>
<rect x="196.0" y="32.6" width="3.0" height="5.2" fill="#19c7cd"/>
<rect x="199.0" y="32.6" width="2.7" height="5.2" fill="#f97f77"/>
<rect x="201.7" y="32.6" width="5.8" height="5.2" fill="#19c7cd"/>
<rect x="207.5" y="32.6" width="2.7" height="5.2" fill="#f97f77"/>
<rect x="210.2" y="32.6" width="17.3" height="5.2" fill="#19c7cd"/>
<path d="M33.81 32.6v5.2M36.73 32.6v5.2M39.64 32.6v5.2M42.56 32.6v5.2M45.47 32.6v5.2M48.39 32.6v5.2M51.30 32.6v5.2M54.21 32.6v5.2M57.13 32.6v5.2M60.04 32.6v5.2M62.96 32.6v5.2M65.87 32.6v5.2M68.79 32.6v5.2M71.70 32.6v5.2M74.61 32.6v5.2M77.53 32.6v5.2M80.44 32.6v5.2M83.36 32.6v5.2M86.27 32.6v5.2M89.19 32.6v5.2M92.10 32.6v5.2M95.01 32.6v5.2M97.93 32.6v5.2M100.84 32.6v5.2M103.76 32.6v5.2M106.67 32.6v5.2M109.59 32.6v5.2M112.50 32.6v5.2M115.41 32.6v5.2M118.33 32.6v5.2M121.24 32.6v5.2M124.16 32.6v5.2M127.07 32.6v5.2M129.99 32.6v5.2M132.90 32.6v5.2M135.81 32.6v5.2M138.73 32.6v5.2M141.64 32.6v5.2M144.56 32.6v5.2M147.47 32.6v5.2M150.39 32.6v5.2M153.30 32.6v5.2M156.15 32.6v5.2M159.01 32.6v5.2M161.86 32.6v5.2M164.72 32.6v5.2M167.57 32.6v5.2M170.42 32.6v5.2M173.28 32.6v5.2M176.13 32.6v5.2M178.98 32.6v5.2M181.84 32.6v5.2M184.69 32.6v5.2M187.55 32.6v5.2M190.40 32.6v5.2M193.25 32.6v5.2M196.11 32.6v5.2M198.96 32.6v5.2M201.82 32.6v5.2M204.67 32.6v5.2M207.52 32.6v5.2M210.38 32.6v5.2M213.23 32.6v5.2M216.08 32.6v5.2M218.94 32.6v5.2M221.79 32.6v5.2M224.65 32.6v5.2" stroke="#8a8f96" stroke-opacity="0.35" stroke-width="0.4"/>
<path d="M57.5 13.7L57.5 6.4L185.0 6.4L185.0 13.0M40.3 21.2L40.3 13.7L74.8 13.7L74.8 16.3M34.5 23.2L34.5 21.2L43.3 21.2L43.3 23.8M32.4 32.3L32.4 23.2L36.7 23.2L36.7 25.2M35.3 32.3L35.3 25.2L38.2 25.2L38.2 32.3M41.1 32.3L41.1 23.8L45.5 23.8L45.5 25.5M44.0 32.3L44.0 25.5L46.9 25.5L46.9 32.3M59.8 18.6L59.8 16.3L92.0 16.3L92.0 17.2M53.6 21.8L53.6 18.6L70.2 18.6L70.2 32.3M49.8 32.3L49.8 21.8L57.3 21.8L57.3 22.7M52.8 32.3L52.8 22.7L61.9 22.7L61.9 23.6M57.9 25.3L57.9 23.6L65.9 23.6L65.9 25.9M55.7 32.3L55.7 25.3L60.0 25.3L60.0 25.8M58.6 32.3L58.6 25.8L61.5 25.8L61.5 32.3M64.4 32.3L64.4 25.9L67.3 25.9L67.3 32.3M80.0 19.4L80.0 17.2L108.0 17.2L108.0 17.8M81.5 21.2L81.5 19.4L105.4 19.4L105.4 20.6M76.8 24.4L76.8 21.2L86.3 21.2L86.3 24.4M74.6 25.9L74.6 24.4L79.0 24.4L79.0 32.3M73.2 32.3L73.2 25.9L76.1 25.9L76.1 32.3M83.4 25.5L83.4 24.4L89.2 24.4L89.2 25.6M81.9 32.3L81.9 25.5L84.8 25.5L84.8 32.3M87.7 32.3L87.7 25.6L90.6 25.6L90.6 32.3M98.3 22.1L98.3 20.6L112.5 20.6L112.5 23.2M95.0 24.4L95.0 22.1L101.6 22.1L101.6 23.6M93.6 32.3L93.6 24.4L96.5 24.4L96.5 32.3M99.4 32.3L99.4 23.6L103.8 23.6L103.8 25.3M102.3 32.3L102.3 25.3L105.2 25.3L105.2 32.3M109.6 25.6L109.6 23.2L115.4 23.2L115.4 24.5M108.1 32.3L108.1 25.6L111.0 25.6L111.0 32.3M114.0 32.3L114.0 24.5L116.9 24.5L116.9 32.3M125.6 20.5L125.6 17.8L146.0 17.8L146.0 19.4M121.2 23.2L121.2 20.5L130.0 20.5L130.0 23.4M119.8 32.3L119.8 23.2L122.7 23.2L122.7 32.3M127.1 24.9L127.1 23.4L132.9 23.4L132.9 25.2M125.6 32.3L125.6 24.9L128.5 24.9L128.5 32.3M131.4 32.3L131.4 25.2L134.4 25.2L134.4 32.3M141.6 22.3L141.6 19.4L150.4 19.4L150.4 25.1M138.7 26.0L138.7 22.3L144.6 22.3L144.6 25.9M137.3 32.3L137.3 26.0L140.2 26.0L140.2 32.3M143.1 32.3L143.1 25.9L146.0 25.9L146.0 32.3M148.9 32.3L148.9 25.1L151.8 25.1L151.8 32.3M168.6 18.1L168.6 13.0L201.0 13.0L201.0 16.8M163.3 19.9L163.3 18.1L183.8 18.1L183.8 19.9M159.0 22.4L159.0 19.9L167.6 19.9L167.6 22.9M156.2 24.3L156.2 22.4L161.9 22.4L161.9 25.4M154.7 32.3L154.7 24.3L157.6 24.3L157.6 32.3M160.4 32.3L160.4 25.4L163.3 25.4L163.3 32.3M166.1 32.3L166.1 22.9L169.0 22.9L169.0 32.3M177.2 22.6L177.2 19.9L190.4 19.9L190.4 23.8M173.3 24.7L173.3 22.6L181.1 22.6L181.1 24.4M171.9 32.3L171.9 24.7L174.7 24.7L174.7 32.3M179.0 25.6L179.0 24.4L183.3 24.4L183.3 32.3M177.6 32.3L177.6 25.6L180.4 25.6L180.4 32.3M187.5 25.9L187.5 23.8L193.3 23.8L193.3 25.5M186.1 32.3L186.1 25.9L189.0 25.9L189.0 32.3M191.8 32.3L191.8 25.5L194.7 25.5L194.7 32.3M204.8 19.4L204.8 16.8L221.8 16.8L221.8 28.9M201.1 21.1L201.1 19.4L208.6 19.4L208.6 23.4M199.0 25.0L199.0 21.1L203.2 21.1L203.2 32.3M197.5 32.3L197.5 25.0L200.4 25.0L200.4 32.3M206.1 32.3L206.1 23.4L211.1 23.4L211.1 24.5M208.9 32.3L208.9 24.5L213.2 24.5L213.2 25.4M211.8 32.3L211.8 25.4L214.7 25.4L214.7 32.3M218.9 29.5L218.9 28.9L224.6 28.9L224.6 30.0M217.5 32.3L217.5 29.5L220.4 29.5L220.4 32.3M223.2 32.3L223.2 30.0L226.1 30.0L226.1 32.3" stroke="#444" stroke-width="0.4" fill="none"/>
<path d="M10.9 93.0L5.2 93.0L5.2 269.7L7.2 269.7M13.5 100.0L10.9 100.0L10.9 180.1L14.9 180.1M15.9 67.5L13.5 67.5L13.5 132.5L14.9 132.5M17.2 54.8L15.9 54.8L15.9 80.1L16.5 80.1M19.3 48.2L17.2 48.2L17.2 61.5L19.3 61.5M20.7 44.3L19.3 44.3L19.3 52.1L21.1 52.1M22.5 41.9L20.7 41.9L20.7 46.6L30.2 46.6M30.2 40.4L22.5 40.4L22.5 43.5L30.2 43.5M30.2 49.8L21.1 49.8L21.1 54.5L21.9 54.5M30.2 52.9L21.9 52.9L21.9 56.0L30.2 56.0M30.2 59.1L19.3 59.1L19.3 63.8L20.8 63.8M30.2 62.3L20.8 62.3L20.8 65.4L30.2 65.4M19.0 73.2L16.5 73.2L16.5 87.0L18.8 87.0M22.4 70.1L19.0 70.1L19.0 76.4L22.2 76.4M30.2 68.5L22.4 68.5L22.4 71.7L30.2 71.7M30.2 74.8L22.2 74.8L22.2 77.9L30.2 77.9M30.2 81.1L18.8 81.1L18.8 93.0L20.0 93.0M21.5 87.7L20.0 87.7L20.0 98.3L21.8 98.3M30.2 84.2L21.5 84.2L21.5 91.2L22.2 91.2M22.5 88.9L22.2 88.9L22.2 93.6L30.2 93.6M30.2 87.3L22.5 87.3L22.5 90.5L30.2 90.5M30.2 96.7L21.8 96.7L21.8 99.8L30.2 99.8M17.1 122.7L14.9 122.7L14.9 142.3L16.1 142.3M18.7 117.3L17.1 117.3L17.1 128.0L30.2 128.0M20.3 109.7L18.7 109.7L18.7 124.9L30.2 124.9M30.2 103.0L20.3 103.0L20.3 116.5L21.3 116.5M21.8 111.2L21.3 111.2L21.3 121.8L30.2 121.8M22.3 107.7L21.8 107.7L21.8 114.7L22.0 114.7M30.2 106.1L22.3 106.1L22.3 109.2L30.2 109.2M30.2 112.4L22.0 112.4L22.0 117.1L22.5 117.1M30.2 115.5L22.5 115.5L22.5 118.6L30.2 118.6M19.7 135.8L16.1 135.8L16.1 148.8L18.8 148.8M21.9 132.7L19.7 132.7L19.7 139.0L21.1 139.0M30.2 131.1L21.9 131.1L21.9 134.3L30.2 134.3M30.2 137.4L21.1 137.4L21.1 140.5L30.2 140.5M22.4 145.2L18.8 145.2L18.8 152.3L20.1 152.3M30.2 143.7L22.4 143.7L22.4 146.8L30.2 146.8M30.2 149.9L20.1 149.9L20.1 154.6L21.8 154.6M30.2 153.1L21.8 153.1L21.8 156.2L30.2 156.2M17.9 168.5L14.9 168.5L14.9 191.6L18.3 191.6M20.3 161.7L17.9 161.7L17.9 175.4L19.1 175.4M30.2 159.3L20.3 159.3L20.3 164.0L22.1 164.0M30.2 162.5L22.1 162.5L22.1 165.6L30.2 165.6M20.0 172.6L19.1 172.6L19.1 178.1L30.2 178.1M21.1 170.3L20.0 170.3L20.0 175.0L30.2 175.0M30.2 168.7L21.1 168.7L21.1 171.8L30.2 171.8M19.4 186.3L18.3 186.3L18.3 196.9L30.2 196.9M20.9 182.8L19.4 182.8L19.4 189.8L21.3 189.8M30.2 181.2L20.9 181.2L20.9 184.4L30.2 184.4M30.2 187.5L21.3 187.5L21.3 192.2L22.0 192.2M30.2 190.6L22.0 190.6L22.0 193.8L30.2 193.8M12.9 221.1L7.2 221.1L7.2 318.4L9.8 318.4M17.0 212.9L12.9 212.9L12.9 229.2L15.4 229.2M19.1 207.1L17.0 207.1L17.0 218.8L30.2 218.8M20.5 202.4L19.1 202.4L19.1 211.8L20.2 211.8M30.2 200.0L20.5 200.0L20.5 204.7L21.9 204.7M30.2 203.1L21.9 203.1L21.9 206.3L30.2 206.3M30.2 209.4L20.2 209.4L20.2 214.1L22.1 214.1M30.2 212.5L22.1 212.5L22.1 215.7L30.2 215.7M20.1 223.5L15.4 223.5L15.4 234.8L18.1 234.8M30.2 221.9L20.1 221.9L20.1 225.1L30.2 225.1M20.1 232.1L18.1 232.1L18.1 237.6L30.2 237.6M22.0 229.8L20.1 229.8L20.1 234.5L30.2 234.5M30.2 228.2L22.0 228.2L22.0 231.3L30.2 231.3M12.4 286.1L9.8 286.1L9.8 350.8L12.4 350.8M15.3 275.1L12.4 275.1L12.4 297.1L14.8 297.1M17.1 262.4L15.3 262.4L15.3 287.7L30.2 287.7M19.1 255.3L17.1 255.3L17.1 269.6L18.3 269.6M20.2 249.5L19.1 249.5L19.1 261.1L20.8 261.1M20.8 244.2L20.2 244.2L20.2 254.8L22.3 254.8M30.2 240.7L20.8 240.7L20.8 247.8L21.5 247.8M22.5 245.4L21.5 245.4L21.5 250.1L30.2 250.1M30.2 243.8L22.5 243.8L22.5 247.0L30.2 247.0M30.2 253.2L22.3 253.2L22.3 256.4L30.2 256.4M30.2 259.5L20.8 259.5L20.8 262.6L30.2 262.6M30.2 265.8L18.3 265.8L18.3 273.4L19.9 273.4M30.2 268.9L19.9 268.9L19.9 277.9L20.7 277.9M22.2 273.6L20.7 273.6L20.7 282.2L21.2 282.2M30.2 272.0L22.2 272.0L22.2 275.1L30.2 275.1M22.1 279.8L21.2 279.8L21.2 284.5L30.2 284.5M30.2 278.3L22.1 278.3L22.1 281.4L30.2 281.4M20.0 292.4L14.8 292.4L14.8 301.8L17.0 301.8M30.2 290.8L20.0 290.8L20.0 293.9L30.2 293.9M21.6 298.6L17.0 298.6L17.0 304.9L22.4 304.9M30.2 297.1L21.6 297.1L21.6 300.2L30.2 300.2M30.2 303.3L22.4 303.3L22.4 306.5L30.2 306.5M15.2 318.6L12.4 318.6L12.4 383.1L14.4 383.1M30.2 309.6L15.2 309.6L15.2 327.6L17.2 327.6M30.2 312.7L17.2 312.7L17.2 342.4L18.4 342.4M19.0 334.5L18.4 334.5L18.4 350.3L30.2 350.3M19.8 321.9L19.0 321.9L19.0 347.1L30.2 347.1M30.2 315.8L19.8 315.8L19.8 327.9L20.6 327.9M21.6 320.5L20.6 320.5L20.6 335.3L21.1 335.3M30.2 319.0L21.6 319.0L21.6 322.1L30.2 322.1M21.6 328.2L21.1 328.2L21.1 342.5L22.0 342.5M30.2 325.2L21.6 325.2L21.6 331.1L22.2 331.1M30.2 328.4L22.2 328.4L22.2 333.8L22.4 333.8M30.2 331.5L22.4 331.5L22.4 336.2L22.5 336.2M30.2 334.6L22.5 334.6L22.5 337.8L30.2 337.8M30.2 340.9L22.0 340.9L22.0 344.0L30.2 344.0M15.9 370.4L14.4 370.4L14.4 395.7L19.7 395.7M17.7 359.7L15.9 359.7L15.9 381.2L18.3 381.2M20.7 355.0L17.7 355.0L17.7 364.4L20.0 364.4M30.2 353.4L20.7 353.4L20.7 356.5L30.2 356.5M22.2 361.2L20.0 361.2L20.0 367.5L22.5 367.5M30.2 359.7L22.2 359.7L22.2 362.8L30.2 362.8M30.2 365.9L22.5 365.9L22.5 369.1L30.2 369.1M20.3 376.1L18.3 376.1L18.3 386.3L19.5 386.3M22.1 373.8L20.3 373.8L20.3 378.5L30.2 378.5M30.2 372.2L22.1 372.2L22.1 375.3L30.2 375.3M21.9 383.1L19.5 383.1L19.5 389.4L22.1 389.4M30.2 381.6L21.9 381.6L21.9 384.7L30.2 384.7M30.2 387.8L22.1 387.8L22.1 391.0L30.2 391.0M30.2 394.1L19.7 394.1L19.7 397.2L30.2 397.2" stroke="#444" stroke-width="0.4" fill="none"/>
<g font-size="11.9" fill="#3a3a3a">
<text transform="translate(229,41.37) scale(.25)">hsa-mir-3170</text>
<text transform="translate(229,44.50) scale(.25)">hsa-mir-7702</text>
<text transform="translate(229,47.63) scale(.25)">hsa-mir-1269a</text>
<text transform="translate(229,50.76) scale(.25)">hsa-mir-146b</text>
<text transform="translate(229,53.89) scale(.25)">hsa-mir-5586</text>
<text transform="translate(229,57.02) scale(.25)">hsa-mir-708</text>
<text transform="translate(229,60.15) scale(.25)">hsa-mir-25</text>
<text transform="translate(229,63.28) scale(.25)">hsa-mir-375</text>
<text transform="translate(229,66.41) scale(.25)">hsa-mir-1207</text>
<text transform="translate(229,69.54) scale(.25)">hsa-mir-3653</text>
<text transform="translate(229,72.67) scale(.25)">hsa-mir-3074</text>
<text transform="translate(229,75.80) scale(.25)">hsa-mir-20a</text>
<text transform="translate(229,78.93) scale(.25)">hsa-mir-93</text>
<text transform="translate(229,82.06) scale(.25)">hsa-mir-106b-1</text>
<text transform="translate(229,85.19) scale(.25)">hsa-mir-19b-2</text>
<text transform="translate(229,88.32) scale(.25)">hsa-mir-106a</text>
<text transform="translate(229,91.45) scale(.25)">hsa-mir-20b</text>
<text transform="translate(229,94.58) scale(.25)">hsa-mir-3614</text>
<text transform="translate(229,97.71) scale(.25)">hsa-mir-7-2</text>
<text transform="translate(229,100.84) scale(.25)">hsa-mir-645a</text>
<text transform="translate(229,103.97) scale(.25)">hsa-mir-7705</text>
<text transform="translate(229,107.10) scale(.25)">hsa-mir-4668</text>
<text transform="translate(229,110.23) scale(.25)">hsa-mir-500a</text>
<text transform="translate(229,113.37) scale(.25)">hsa-mir-501</text>
<text transform="translate(229,116.50) scale(.25)">hsa-mir-3065</text>
<text transform="translate(229,119.63) scale(.25)">hsa-mir-3690</text>
<text transform="translate(229,122.76) scale(.25)">hsa-mir-592</text>
<text transform="translate(229,125.89) scale(.25)">hsa-mir-5697</text>
<text transform="translate(229,129.02) scale(.25)">hsa-mir-103a-1</text>
<text transform="translate(229,132.15) scale(.25)">hsa-mir-103a-2</text>
<text transform="translate(229,135.28) scale(.25)">hsa-mir-96</text>
<text transform="translate(229,138.41) scale(.25)">hsa-mir-182</text>
<text transform="translate(229,141.54) scale(.25)">hsa-mir-183</text>
<text transform="translate(229,144.67) scale(.25)">hsa-mir-200c</text>
<text transform="translate(229,147.80) scale(.25)">hsa-mir-141</text>
<text transform="translate(229,150.93) scale(.25)">hsa-mir-425</text>
<text transform="translate(229,154.06) scale(.25)">hsa-mir-191</text>
<text transform="translate(229,157.19) scale(.25)">hsa-mir-615</text>
<text transform="translate(229,160.32) scale(.25)">hsa-mir-148a</text>
<text transform="translate(229,163.45) scale(.25)">hsa-mir-17</text>
<text transform="translate(229,166.58) scale(.25)">hsa-mir-18a</text>
<text transform="translate(229,169.71) scale(.25)">hsa-mir-19a</text>
<text transform="translate(229,172.84) scale(.25)">hsa-mir-92a-1</text>
<text transform="translate(229,175.97) scale(.25)">hsa-mir-32</text>
<text transform="translate(229,179.10) scale(.25)">hsa-mir-153</text>
<text transform="translate(229,182.23) scale(.25)">hsa-mir-592</text>
<text transform="translate(229,185.37) scale(.25)">hsa-mir-877</text>
<text transform="translate(229,188.50) scale(.25)">hsa-mir-3934</text>
<text transform="translate(229,191.63) scale(.25)">hsa-mir-4728</text>
<text transform="translate(229,194.76) scale(.25)">hsa-mir-6728</text>
<text transform="translate(229,197.89) scale(.25)">hsa-mir-663a</text>
<text transform="translate(229,201.02) scale(.25)">hsa-mir-1293</text>
<text transform="translate(229,204.15) scale(.25)">hsa-mir-1304</text>
<text transform="translate(229,207.28) scale(.25)">hsa-mir-130b</text>
<text transform="translate(229,210.41) scale(.25)">hsa-mir-301b</text>
<text transform="translate(229,213.54) scale(.25)">hsa-mir-454</text>
<text transform="translate(229,216.67) scale(.25)">hsa-mir-16-2</text>
<text transform="translate(229,219.80) scale(.25)">hsa-mir-15b</text>
<text transform="translate(229,222.93) scale(.25)">hsa-mir-590</text>
<text transform="translate(229,226.06) scale(.25)">hsa-mir-629</text>
<text transform="translate(229,229.19) scale(.25)">hsa-mir-7-1</text>
<text transform="translate(229,232.32) scale(.25)">hsa-mir-98</text>
<text transform="translate(229,235.45) scale(.25)">hsa-mir-133a-1</text>
<text transform="translate(229,238.58) scale(.25)">hsa-mir-133a-2</text>
<text transform="translate(229,241.71) scale(.25)">hsa-mir-133b</text>
<text transform="translate(229,244.84) scale(.25)">hsa-mir-1-1</text>
<text transform="translate(229,247.97) scale(.25)">hsa-mir-1-2</text>
<text transform="translate(229,251.10) scale(.25)">hsa-mir-143</text>
<text transform="translate(229,254.23) scale(.25)">hsa-mir-145</text>
<text transform="translate(229,257.37) scale(.25)">hsa-mir-221</text>
<text transform="translate(229,260.50) scale(.25)">hsa-mir-222</text>
<text transform="translate(229,263.63) scale(.25)">hsa-mir-204</text>
<text transform="translate(229,266.76) scale(.25)">hsa-mir-205</text>
<text transform="translate(229,269.89) scale(.25)">hsa-mir-23b</text>
<text transform="translate(229,273.02) scale(.25)">hsa-mir-27b</text>
<text transform="translate(229,276.15) scale(.25)">hsa-mir-24-1</text>
<text transform="translate(229,279.28) scale(.25)">hsa-mir-99a</text>
<text transform="translate(229,282.41) scale(.25)">hsa-mir-100</text>
<text transform="translate(229,285.54) scale(.25)">hsa-mir-125b-1</text>
<text transform="translate(229,288.67) scale(.25)">hsa-mir-let-7c</text>
<text transform="translate(229,291.80) scale(.25)">hsa-mir-139</text>
<text transform="translate(229,294.93) scale(.25)">hsa-mir-378a</text>
<text transform="translate(229,298.06) scale(.25)">hsa-mir-378c</text>
<text transform="translate(229,301.19) scale(.25)">hsa-mir-490</text>
<text transform="translate(229,304.32) scale(.25)">hsa-mir-30a</text>
<text transform="translate(229,307.45) scale(.25)">hsa-mir-30c-2</text>
<text transform="translate(229,310.58) scale(.25)">hsa-mir-10b</text>
<text transform="translate(229,313.71) scale(.25)">hsa-mir-152</text>
<text transform="translate(229,316.84) scale(.25)">hsa-mir-214</text>
<text transform="translate(229,319.97) scale(.25)">hsa-mir-199a-2</text>
<text transform="translate(229,323.10) scale(.25)">hsa-mir-199b</text>
<text transform="translate(229,326.23) scale(.25)">hsa-mir-328</text>
<text transform="translate(229,329.37) scale(.25)">hsa-mir-330</text>
<text transform="translate(229,332.50) scale(.25)">hsa-mir-432</text>
<text transform="translate(229,335.63) scale(.25)">hsa-mir-127</text>
<text transform="translate(229,338.76) scale(.25)">hsa-mir-423</text>
<text transform="translate(229,341.89) scale(.25)">hsa-mir-217</text>
<text transform="translate(229,345.02) scale(.25)">hsa-mir-216a</text>
<text transform="translate(229,348.15) scale(.25)">hsa-mir-196a-1</text>
<text transform="translate(229,351.28) scale(.25)">hsa-mir-23c</text>
<text transform="translate(229,354.41) scale(.25)">hsa-mir-497</text>
<text transform="translate(229,357.54) scale(.25)">hsa-mir-195</text>
<text transform="translate(229,360.67) scale(.25)">hsa-mir-455</text>
<text transform="translate(229,363.80) scale(.25)">hsa-mir-29c</text>
<text transform="translate(229,366.93) scale(.25)">hsa-mir-150</text>
<text transform="translate(229,370.06) scale(.25)">hsa-mir-155</text>
<text transform="translate(229,373.19) scale(.25)">hsa-mir-4510</text>
<text transform="translate(229,376.32) scale(.25)">hsa-mir-6507</text>
<text transform="translate(229,379.45) scale(.25)">hsa-mir-1247</text>
<text transform="translate(229,382.58) scale(.25)">hsa-mir-1258</text>
<text transform="translate(229,385.71) scale(.25)">hsa-mir-3943</text>
<text transform="translate(229,388.84) scale(.25)">hsa-mir-4324</text>
<text transform="translate(229,391.97) scale(.25)">hsa-mir-548ba</text>
<text transform="translate(229,395.10) scale(.25)">hsa-mir-551b</text>
<text transform="translate(229,398.23) scale(.25)">hsa-mir-5683</text>
</g>
<g font-size="11.6" fill="#4a4a4a" font-weight="bold" text-anchor="end">
<text transform="translate(33.36,400.2) rotate(-90) scale(.25)" textLength="41.2" lengthAdjust="spacingAndGlyphs">Y9B5 11A 1</text>
<text transform="translate(36.27,400.2) rotate(-90) scale(.25)" textLength="41.2" lengthAdjust="spacingAndGlyphs">HZ6R 06A 1</text>
<text transform="translate(39.19,400.2) rotate(-90) scale(.25)" textLength="41.2" lengthAdjust="spacingAndGlyphs">AP2T 11A 2</text>
<text transform="translate(42.10,400.2) rotate(-90) scale(.25)" textLength="32.8" lengthAdjust="spacingAndGlyphs">EJ 06A 1</text>
<text transform="translate(45.01,400.2) rotate(-90) scale(.25)" textLength="32.8" lengthAdjust="spacingAndGlyphs">AP 11A 1</text>
<text transform="translate(47.93,400.2) rotate(-90) scale(.25)" textLength="41.2" lengthAdjust="spacingAndGlyphs">UWNP 11A 1</text>
<text transform="translate(50.84,400.2) rotate(-90) scale(.25)" textLength="41.2" lengthAdjust="spacingAndGlyphs">0VBZ 06A 1</text>
<text transform="translate(53.76,400.2) rotate(-90) scale(.25)" textLength="41.2" lengthAdjust="spacingAndGlyphs">SEXV 01A 2</text>
<text transform="translate(56.67,400.2) rotate(-90) scale(.25)" textLength="32.8" lengthAdjust="spacingAndGlyphs">YV 06A 2</text>
<text transform="translate(59.59,400.2) rotate(-90) scale(.25)" textLength="32.8" lengthAdjust="spacingAndGlyphs">6M 01A 2</text>
<text transform="translate(62.50,400.2) rotate(-90) scale(.25)" textLength="41.2" lengthAdjust="spacingAndGlyphs">BY1B 06A 2</text>
<text transform="translate(65.41,400.2) rotate(-90) scale(.25)" textLength="41.2" lengthAdjust="spacingAndGlyphs">A4CM 11A 1</text>
<text transform="translate(68.33,400.2) rotate(-90) scale(.25)" textLength="41.2" lengthAdjust="spacingAndGlyphs">5Y8Y 01B 2</text>
<text transform="translate(71.24,400.2) rotate(-90) scale(.25)" textLength="32.8" lengthAdjust="spacingAndGlyphs">ZU 01A 2</text>
<text transform="translate(74.16,400.2) rotate(-90) scale(.25)" textLength="41.2" lengthAdjust="spacingAndGlyphs">FPX8 01B 1</text>
<text transform="translate(77.07,400.2) rotate(-90) scale(.25)" textLength="41.2" lengthAdjust="spacingAndGlyphs">FVWV 11A 1</text>
<text transform="translate(79.99,400.2) rotate(-90) scale(.25)" textLength="41.2" lengthAdjust="spacingAndGlyphs">V6LD 01A 2</text>
<text transform="translate(82.90,400.2) rotate(-90) scale(.25)" textLength="32.8" lengthAdjust="spacingAndGlyphs">YS 06A 2</text>
<text transform="translate(85.81,400.2) rotate(-90) scale(.25)" textLength="32.8" lengthAdjust="spacingAndGlyphs">C7 01B 1</text>
<text transform="translate(88.73,400.2) rotate(-90) scale(.25)" textLength="32.8" lengthAdjust="spacingAndGlyphs">J2 01A 1</text>
<text transform="translate(91.64,400.2) rotate(-90) scale(.25)" textLength="41.2" lengthAdjust="spacingAndGlyphs">KD2U 11A 2</text>
<text transform="translate(94.56,400.2) rotate(-90) scale(.25)" textLength="41.2" lengthAdjust="spacingAndGlyphs">L957 01B 2</text>
<text transform="translate(97.47,400.2) rotate(-90) scale(.25)" textLength="32.8" lengthAdjust="spacingAndGlyphs">61 11A 1</text>
<text transform="translate(100.39,400.2) rotate(-90) scale(.25)" textLength="41.2" lengthAdjust="spacingAndGlyphs">M7XM 01A 2</text>
<text transform="translate(103.30,400.2) rotate(-90) scale(.25)" textLength="32.8" lengthAdjust="spacingAndGlyphs">8Z 01A 2</text>
<text transform="translate(106.21,400.2) rotate(-90) scale(.25)" textLength="41.2" lengthAdjust="spacingAndGlyphs">CVZT 06A 2</text>
<text transform="translate(109.13,400.2) rotate(-90) scale(.25)" textLength="41.2" lengthAdjust="spacingAndGlyphs">UXMA 06A 2</text>
<text transform="translate(112.04,400.2) rotate(-90) scale(.25)" textLength="41.2" lengthAdjust="spacingAndGlyphs">T5U8 01B 2</text>
<text transform="translate(114.96,400.2) rotate(-90) scale(.25)" textLength="32.8" lengthAdjust="spacingAndGlyphs">Y2 01B 1</text>
<text transform="translate(117.87,400.2) rotate(-90) scale(.25)" textLength="41.2" lengthAdjust="spacingAndGlyphs">4ZX9 11A 1</text>
<text transform="translate(120.79,400.2) rotate(-90) scale(.25)" textLength="32.8" lengthAdjust="spacingAndGlyphs">Z6 01B 1</text>
<text transform="translate(123.70,400.2) rotate(-90) scale(.25)" textLength="41.2" lengthAdjust="spacingAndGlyphs">2L92 01B 2</text>
<text transform="translate(126.61,400.2) rotate(-90) scale(.25)" textLength="41.2" lengthAdjust="spacingAndGlyphs">BNL4 11A 1</text>
<text transform="translate(129.53,400.2) rotate(-90) scale(.25)" textLength="41.2" lengthAdjust="spacingAndGlyphs">MC6Q 11A 1</text>
<text transform="translate(132.44,400.2) rotate(-90) scale(.25)" textLength="41.2" lengthAdjust="spacingAndGlyphs">HWM6 11A 1</text>
<text transform="translate(135.36,400.2) rotate(-90) scale(.25)" textLength="41.2" lengthAdjust="spacingAndGlyphs">Y0EP 11A 2</text>
<text transform="translate(138.27,400.2) rotate(-90) scale(.25)" textLength="32.8" lengthAdjust="spacingAndGlyphs">1T 06A 1</text>
<text transform="translate(141.19,400.2) rotate(-90) scale(.25)" textLength="41.2" lengthAdjust="spacingAndGlyphs">ZCVG 01B 2</text>
<text transform="translate(144.10,400.2) rotate(-90) scale(.25)" textLength="41.2" lengthAdjust="spacingAndGlyphs">UYJ2 06A 2</text>
<text transform="translate(147.01,400.2) rotate(-90) scale(.25)" textLength="41.2" lengthAdjust="spacingAndGlyphs">L06N 11A 1</text>
<text transform="translate(149.93,400.2) rotate(-90) scale(.25)" textLength="41.2" lengthAdjust="spacingAndGlyphs">A0GW 11A 2</text>
<text transform="translate(152.84,400.2) rotate(-90) scale(.25)" textLength="41.2" lengthAdjust="spacingAndGlyphs">033Q 06A 2</text>
<text transform="translate(155.73,400.2) rotate(-90) scale(.25)" textLength="41.2" lengthAdjust="spacingAndGlyphs">00LS 01B 2</text>
<text transform="translate(158.58,400.2) rotate(-90) scale(.25)" textLength="32.8" lengthAdjust="spacingAndGlyphs">BW 01B 2</text>
<text transform="translate(161.43,400.2) rotate(-90) scale(.25)" textLength="41.2" lengthAdjust="spacingAndGlyphs">K6BH 06A 1</text>
<text transform="translate(164.29,400.2) rotate(-90) scale(.25)" textLength="32.8" lengthAdjust="spacingAndGlyphs">J1 01A 2</text>
<text transform="translate(167.14,400.2) rotate(-90) scale(.25)" textLength="41.2" lengthAdjust="spacingAndGlyphs">TR6C 11A 2</text>
<text transform="translate(170.00,400.2) rotate(-90) scale(.25)" textLength="32.8" lengthAdjust="spacingAndGlyphs">KU 01B 2</text>
<text transform="translate(172.85,400.2) rotate(-90) scale(.25)" textLength="41.2" lengthAdjust="spacingAndGlyphs">69HB 11A 2</text>
<text transform="translate(175.70,400.2) rotate(-90) scale(.25)" textLength="32.8" lengthAdjust="spacingAndGlyphs">XU 01A 2</text>
<text transform="translate(178.56,400.2) rotate(-90) scale(.25)" textLength="41.2" lengthAdjust="spacingAndGlyphs">JCAS 06A 1</text>
<text transform="translate(181.41,400.2) rotate(-90) scale(.25)" textLength="41.2" lengthAdjust="spacingAndGlyphs">NA33 06A 2</text>
<text transform="translate(184.27,400.2) rotate(-90) scale(.25)" textLength="41.2" lengthAdjust="spacingAndGlyphs">NU5E 01B 1</text>
<text transform="translate(187.12,400.2) rotate(-90) scale(.25)" textLength="41.2" lengthAdjust="spacingAndGlyphs">3U6V 11A 1</text>
<text transform="translate(189.97,400.2) rotate(-90) scale(.25)" textLength="41.2" lengthAdjust="spacingAndGlyphs">7XK3 01A 1</text>
<text transform="translate(192.83,400.2) rotate(-90) scale(.25)" textLength="41.2" lengthAdjust="spacingAndGlyphs">TFEB 01B 2</text>
<text transform="translate(195.68,400.2) rotate(-90) scale(.25)" textLength="41.2" lengthAdjust="spacingAndGlyphs">17DH 01A 1</text>
<text transform="translate(198.53,400.2) rotate(-90) scale(.25)" textLength="41.2" lengthAdjust="spacingAndGlyphs">HJU4 11A 1</text>
<text transform="translate(201.39,400.2) rotate(-90) scale(.25)" textLength="41.2" lengthAdjust="spacingAndGlyphs">2LEP 01A 1</text>
<text transform="translate(204.24,400.2) rotate(-90) scale(.25)" textLength="41.2" lengthAdjust="spacingAndGlyphs">ETDH 06A 1</text>
<text transform="translate(207.10,400.2) rotate(-90) scale(.25)" textLength="32.8" lengthAdjust="spacingAndGlyphs">FW 06A 2</text>
<text transform="translate(209.95,400.2) rotate(-90) scale(.25)" textLength="41.2" lengthAdjust="spacingAndGlyphs">ZDJU 11A 2</text>
<text transform="translate(212.80,400.2) rotate(-90) scale(.25)" textLength="41.2" lengthAdjust="spacingAndGlyphs">QSER 01B 2</text>
<text transform="translate(215.66,400.2) rotate(-90) scale(.25)" textLength="41.2" lengthAdjust="spacingAndGlyphs">JRZ5 06A 1</text>
<text transform="translate(218.51,400.2) rotate(-90) scale(.25)" textLength="32.8" lengthAdjust="spacingAndGlyphs">BX 01A 1</text>
<text transform="translate(221.37,400.2) rotate(-90) scale(.25)" textLength="32.8" lengthAdjust="spacingAndGlyphs">H8 06A 1</text>
<text transform="translate(224.22,400.2) rotate(-90) scale(.25)" textLength="41.2" lengthAdjust="spacingAndGlyphs">56WG 01A 2</text>
<text transform="translate(227.07,400.2) rotate(-90) scale(.25)" textLength="32.8" lengthAdjust="spacingAndGlyphs">K3 11A 1</text>
</g>
<defs><linearGradient id="cb" x1="0" y1="1" x2="0" y2="0">
<stop offset="0.0000" stop-color="#4575B4"/>
<stop offset="0.1667" stop-color="#91BFDB"/>
<stop offset="0.3333" stop-color="#E0F3F8"/>
<stop offset="0.5000" stop-color="#FFFFBF"/>
<stop offset="0.6667" stop-color="#FEE090"/>
<stop offset="0.8333" stop-color="#FC8D59"/>
<stop offset="1.0000" stop-color="#D73027"/>
</linearGradient></defs>
<rect x="254.2" y="32.4" width="4.9" height="72.6" fill="url(#cb)"/>
<text transform="translate(261.2,41.4) scale(.25)" font-size="20" fill="#333">4</text>
<text transform="translate(261.2,58.6) scale(.25)" font-size="20" fill="#333">2</text>
<text transform="translate(261.2,75.8) scale(.25)" font-size="20" fill="#333">0</text>
<text transform="translate(259.9,93.0) scale(.25)" font-size="20" fill="#333">−2</text>
<text transform="translate(268.7,35.9) scale(.25)" font-size="16.4" font-weight="bold" fill="#222" textLength="65" lengthAdjust="spacing">Sample</text>
<rect x="269" y="37.2" width="6.4" height="6.9" fill="#19c7cd"/><rect x="269" y="44.1" width="6.4" height="6.9" fill="#f97f77"/>
<text transform="translate(276.7,42.4) scale(.25)" font-size="19.6" fill="#333">Ctrl</text><text transform="translate(276.7,49.3) scale(.25)" font-size="19.6" fill="#333">T3b</text>
<text transform="translate(228.9,36.8) scale(.25)" font-size="16.4" font-weight="bold" fill="#222" textLength="66" lengthAdjust="spacing">Sample</text>
<circle cx="384.6" cy="86.7" r="55.1" fill="none" stroke="#ff1e1e" stroke-width="1.8"/>
<circle cx="440.3" cy="86.7" r="55.1" fill="none" stroke="#1f9b26" stroke-width="1.8"/>
<circle cx="412.8" cy="138.8" r="55.4" fill="none" stroke="#1e1eff" stroke-width="1.8"/>
<text x="301.1" y="90.7" font-size="13.1" fill="#ff1e1e" stroke="#ff1e1e" stroke-width="0.25" textLength="21.1" lengthAdjust="spacingAndGlyphs">T2c</text>
<text x="498.8" y="93.5" font-size="13.1" fill="#1f9b26" stroke="#1f9b26" stroke-width="0.25" textLength="21.6" lengthAdjust="spacingAndGlyphs">T3b</text>
<text x="374.9" y="215.1" font-size="9.97" fill="#4a78ff">Tumour_vs_Normal</text>
<text x="357.6" y="76.3" font-size="5.9" fill="#3a3a3a" text-anchor="middle">5</text>
<text x="412.6" y="64.1" font-size="5.9" fill="#3a3a3a" text-anchor="middle">9</text>
<text x="412.2" y="107.7" font-size="5.9" fill="#3a3a3a" text-anchor="middle">78</text>
<text x="379.2" y="126.9" font-size="5.9" fill="#3a3a3a" text-anchor="middle">26</text>
<text x="448.2" y="126.9" font-size="5.9" fill="#3a3a3a" text-anchor="middle">6</text>
<text x="412.2" y="168.3" font-size="5.9" fill="#3a3a3a" text-anchor="middle">24</text>
<text x="467.2" y="75.9" font-size="5.9" fill="#3a3a3a" text-anchor="middle">21</text>
<rect x="459" y="65.5" width="19.7" height="14" fill="none" stroke="#178a17" stroke-width="2" stroke-dasharray="6.9 2.2" stroke-linejoin="round"/>
<path d="M478.3 80.8V259.5" stroke="#178a17" stroke-width="1.5" stroke-dasharray="3.3 1" fill="none"/>
<path d="M475.4 255.2L478.4 260.4L481.6 255.2" stroke="#178a17" stroke-width="1.7" fill="none"/>
<text x="515.6" y="23.4" font-size="13" fill="#111" stroke="#111" stroke-width="0.2">(b)</text>
<text x="224.2" y="23.5" font-size="13" fill="#111" stroke="#111" stroke-width="0.2">(a)</text>
<text x="285.5" y="256.8" font-size="13" fill="#111" stroke="#111" stroke-width="0.2">(c)</text>
<path d="M285.1 262.6H543.6M285.1 273.3H543.6M285.1 283.0H543.6M285.1 293.6H543.6M285.1 303.8H543.6M285.1 314.0H543.6M285.1 324.2H543.6M285.1 334.5H543.6M285.1 344.8H543.6M285.1 354.8H543.6M285.1 364.6H543.6M285.1 379.6H543.6M285.1 394.8H543.6M285.1 403.3H543.6M285.1 262.6V403.3M328.3 262.6V403.3M427.8 262.6V403.3M514.3 262.6V403.3M543.6 262.6V403.3" stroke="#1a1a1a" stroke-width="0.7" fill="none"/>
<g font-size="5.28" fill="#1a1a1a" stroke="#1a1a1a" stroke-width="0.1">
<text x="289.2" y="270.2" font-weight="bold">Category</text>
<text x="332.2" y="270.2" font-weight="bold">Term</text>
<text x="431.4" y="270.2" font-weight="bold">miRNAs</text>
<text x="518.8" y="270.2" font-weight="bold" textLength="18.6" lengthAdjust="spacingAndGlyphs">Adj-pval</text>
<text x="289.2" y="279.9">Function</text>
<text x="332.2" y="279.9">Akt pathway</text>
<text x="431.4" y="279.9">mir-196a, mir-7</text>
<text x="541.3" y="279.9" text-anchor="end">0.041</text>
<text x="289.2" y="290.5">Function</text>
<text x="332.2" y="290.5">Cardiogenesis</text>
<text x="431.4" y="290.5">mir-133a</text>
<text x="541.3" y="290.5" text-anchor="end">0.035</text>
<text x="289.2" y="300.7">Disease</text>
<text x="332.2" y="300.7">Adenocarcinoma</text>
<text x="431.4" y="300.7">mir-152,mir-133a,mir-196a</text>
<text x="541.3" y="300.7" text-anchor="end">0.020</text>
<text x="289.2" y="310.9">Disease</text>
<text x="332.2" y="310.9">Adrenocortical Carcinoma</text>
<text x="431.4" y="310.9">mir-133a, mir-7,mir-23b,mir-196a</text>
<text x="541.3" y="310.9" text-anchor="end">0.015</text>
<text x="289.2" y="321.1">Disease</text>
<text x="332.2" y="321.1">Arrhythmias, Cardiac</text>
<text x="431.4" y="321.1">mir-133a,mir-1</text>
<text x="541.3" y="321.1" text-anchor="end">0.044</text>
<text x="289.2" y="331.4">Disease</text>
<text x="332.2" y="331.4">Autistic Disorder</text>
<text x="431.4" y="331.4">mir-432, mir-7,mir-23b</text>
<text x="541.3" y="331.4" text-anchor="end">0.026</text>
<text x="289.2" y="341.7">Disease</text>
<text x="332.2" y="341.7">Prostatic Neoplasms</text>
<text x="431.4" y="341.7">mir-330,mir-23b,mir-127</text>
<text x="541.3" y="341.7" text-anchor="end">0.044</text>
<text x="289.2" y="351.7">Disease</text>
<text x="332.2" y="351.7">Cardiomyopathy, Hypertrophic</text>
<text x="431.4" y="351.7">mir-133a,mir-23b</text>
<text x="541.3" y="351.7" text-anchor="end">0.035</text>
<text x="289.2" y="361.5">Disease</text>
<text x="332.2" y="361.5">Gastrointestinal Neoplasms</text>
<text x="431.4" y="361.5">mir-152,mir-196a,mir-7</text>
<text x="541.3" y="361.5" text-anchor="end">0.003</text>
<text x="289.2" y="376.5">Disease</text>
<text x="332.2" y="376.5">Heart Failure</text>
<text x="431.4" y="370.1">mir-133a,mir-330,mir-23b,mir-</text>
<text x="431.4" y="376.5">423,mir-432,mir-196a</text>
<text x="541.3" y="376.5" text-anchor="end">0.015</text>
<text x="289.2" y="391.7">Disease</text>
<text x="332.2" y="391.7">Melanoma</text>
<text x="431.4" y="385.3">mir-133a,mir-23b, mir-330,mir-</text>
<text x="431.4" y="391.7">217,mir-196a,mir-501</text>
<text x="541.3" y="391.7" text-anchor="end">0.016</text>
<text x="289.2" y="401.4">TissueSpecific</text>
<text x="332.2" y="401.4">Pancreas</text>
<text x="431.4" y="401.4">mir-217, mir-216</text>
<text x="541.3" y="401.4" text-anchor="end">0.044</text>
</g>
</svg>
</body></html>
